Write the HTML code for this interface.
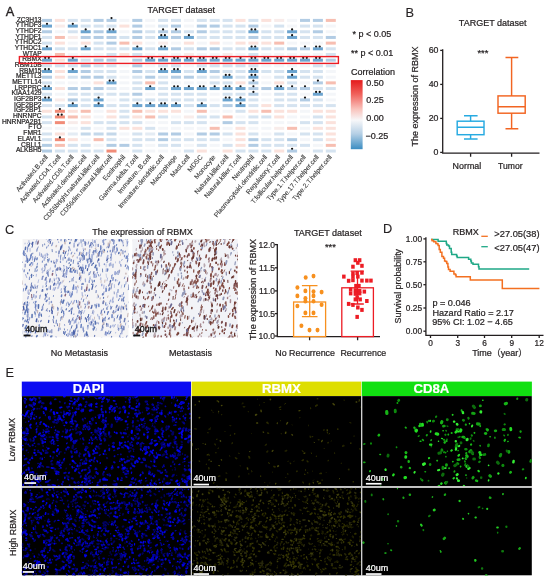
<!DOCTYPE html>
<html><head><meta charset="utf-8"><style>
html,body{margin:0;padding:0;background:#fff;}
svg.main{display:block;font-family:'Liberation Sans', Arial, sans-serif;}
svg.main text{stroke:#231f20;stroke-width:0.22px;}
svg.main text.w{stroke:#fff;}
svg.main g.sm text{stroke:#3a3a3a;stroke-width:0.1px;}
</style></head><body>
<svg class="main" width="550" height="583" viewBox="0 0 550 583">
<rect width="550" height="583" fill="#fff"/>
<g>
<rect x="42.0" y="18.90" width="10.0" height="3.0" fill="#b2cce4"/>
<rect x="54.9" y="18.90" width="10.0" height="3.0" fill="#fbe2dc"/>
<rect x="67.8" y="18.90" width="10.0" height="3.0" fill="#d5e3f0"/>
<rect x="80.7" y="18.90" width="10.0" height="3.0" fill="#d5e3f0"/>
<rect x="93.6" y="18.90" width="10.0" height="3.0" fill="#b2cce4"/>
<rect x="106.5" y="18.90" width="10.0" height="3.0" fill="#b2cce4"/>
<rect x="119.4" y="18.90" width="10.0" height="3.0" fill="#f4f6f9"/>
<rect x="132.3" y="18.90" width="10.0" height="3.0" fill="#b2cce4"/>
<rect x="145.2" y="18.90" width="10.0" height="3.0" fill="#f4f6f9"/>
<rect x="158.1" y="18.90" width="10.0" height="3.0" fill="#d5e3f0"/>
<rect x="171.0" y="18.90" width="10.0" height="3.0" fill="#d5e3f0"/>
<rect x="183.9" y="18.90" width="10.0" height="3.0" fill="#f4f6f9"/>
<rect x="196.8" y="18.90" width="10.0" height="3.0" fill="#d5e3f0"/>
<rect x="209.7" y="18.90" width="10.0" height="3.0" fill="#d5e3f0"/>
<rect x="222.6" y="18.90" width="10.0" height="3.0" fill="#d5e3f0"/>
<rect x="235.5" y="18.90" width="10.0" height="3.0" fill="#fbe2dc"/>
<rect x="248.4" y="18.90" width="10.0" height="3.0" fill="#d5e3f0"/>
<rect x="261.3" y="18.90" width="10.0" height="3.0" fill="#fbe2dc"/>
<rect x="274.2" y="18.90" width="10.0" height="3.0" fill="#f8ecea"/>
<rect x="287.1" y="18.90" width="10.0" height="3.0" fill="#f4f6f9"/>
<rect x="300.0" y="18.90" width="10.0" height="3.0" fill="#b2cce4"/>
<rect x="312.9" y="18.90" width="10.0" height="3.0" fill="#b2cce4"/>
<rect x="325.8" y="18.90" width="10.0" height="3.0" fill="#f7beb1"/>
<rect x="42.0" y="24.58" width="10.0" height="3.0" fill="#6ca4cf"/>
<rect x="54.9" y="24.58" width="10.0" height="3.0" fill="#f8ecea"/>
<rect x="67.8" y="24.58" width="10.0" height="3.0" fill="#6ca4cf"/>
<rect x="80.7" y="24.58" width="10.0" height="3.0" fill="#d5e3f0"/>
<rect x="93.6" y="24.58" width="10.0" height="3.0" fill="#d5e3f0"/>
<rect x="106.5" y="24.58" width="10.0" height="3.0" fill="#d5e3f0"/>
<rect x="119.4" y="24.58" width="10.0" height="3.0" fill="#fbe2dc"/>
<rect x="132.3" y="24.58" width="10.0" height="3.0" fill="#b2cce4"/>
<rect x="145.2" y="24.58" width="10.0" height="3.0" fill="#f4f6f9"/>
<rect x="158.1" y="24.58" width="10.0" height="3.0" fill="#d5e3f0"/>
<rect x="171.0" y="24.58" width="10.0" height="3.0" fill="#b2cce4"/>
<rect x="183.9" y="24.58" width="10.0" height="3.0" fill="#f4f6f9"/>
<rect x="196.8" y="24.58" width="10.0" height="3.0" fill="#b2cce4"/>
<rect x="209.7" y="24.58" width="10.0" height="3.0" fill="#b2cce4"/>
<rect x="222.6" y="24.58" width="10.0" height="3.0" fill="#d5e3f0"/>
<rect x="235.5" y="24.58" width="10.0" height="3.0" fill="#d5e3f0"/>
<rect x="248.4" y="24.58" width="10.0" height="3.0" fill="#b2cce4"/>
<rect x="261.3" y="24.58" width="10.0" height="3.0" fill="#f4f6f9"/>
<rect x="274.2" y="24.58" width="10.0" height="3.0" fill="#d5e3f0"/>
<rect x="287.1" y="24.58" width="10.0" height="3.0" fill="#f4f6f9"/>
<rect x="300.0" y="24.58" width="10.0" height="3.0" fill="#d5e3f0"/>
<rect x="312.9" y="24.58" width="10.0" height="3.0" fill="#d5e3f0"/>
<rect x="325.8" y="24.58" width="10.0" height="3.0" fill="#f4f6f9"/>
<rect x="42.0" y="30.26" width="10.0" height="3.0" fill="#b2cce4"/>
<rect x="54.9" y="30.26" width="10.0" height="3.0" fill="#f4f6f9"/>
<rect x="67.8" y="30.26" width="10.0" height="3.0" fill="#d5e3f0"/>
<rect x="80.7" y="30.26" width="10.0" height="3.0" fill="#6ca4cf"/>
<rect x="93.6" y="30.26" width="10.0" height="3.0" fill="#b2cce4"/>
<rect x="106.5" y="30.26" width="10.0" height="3.0" fill="#6ca4cf"/>
<rect x="119.4" y="30.26" width="10.0" height="3.0" fill="#f4f6f9"/>
<rect x="132.3" y="30.26" width="10.0" height="3.0" fill="#b2cce4"/>
<rect x="145.2" y="30.26" width="10.0" height="3.0" fill="#d5e3f0"/>
<rect x="158.1" y="30.26" width="10.0" height="3.0" fill="#b2cce4"/>
<rect x="171.0" y="30.26" width="10.0" height="3.0" fill="#b2cce4"/>
<rect x="183.9" y="30.26" width="10.0" height="3.0" fill="#d5e3f0"/>
<rect x="196.8" y="30.26" width="10.0" height="3.0" fill="#b2cce4"/>
<rect x="209.7" y="30.26" width="10.0" height="3.0" fill="#d5e3f0"/>
<rect x="222.6" y="30.26" width="10.0" height="3.0" fill="#d5e3f0"/>
<rect x="235.5" y="30.26" width="10.0" height="3.0" fill="#d5e3f0"/>
<rect x="248.4" y="30.26" width="10.0" height="3.0" fill="#6ca4cf"/>
<rect x="261.3" y="30.26" width="10.0" height="3.0" fill="#d5e3f0"/>
<rect x="274.2" y="30.26" width="10.0" height="3.0" fill="#d5e3f0"/>
<rect x="287.1" y="30.26" width="10.0" height="3.0" fill="#6ca4cf"/>
<rect x="300.0" y="30.26" width="10.0" height="3.0" fill="#d5e3f0"/>
<rect x="312.9" y="30.26" width="10.0" height="3.0" fill="#b2cce4"/>
<rect x="325.8" y="30.26" width="10.0" height="3.0" fill="#f4f6f9"/>
<rect x="42.0" y="35.94" width="10.0" height="3.0" fill="#d5e3f0"/>
<rect x="54.9" y="35.94" width="10.0" height="3.0" fill="#f7beb1"/>
<rect x="67.8" y="35.94" width="10.0" height="3.0" fill="#f8ecea"/>
<rect x="80.7" y="35.94" width="10.0" height="3.0" fill="#b2cce4"/>
<rect x="93.6" y="35.94" width="10.0" height="3.0" fill="#b2cce4"/>
<rect x="106.5" y="35.94" width="10.0" height="3.0" fill="#b2cce4"/>
<rect x="119.4" y="35.94" width="10.0" height="3.0" fill="#d5e3f0"/>
<rect x="132.3" y="35.94" width="10.0" height="3.0" fill="#b2cce4"/>
<rect x="145.2" y="35.94" width="10.0" height="3.0" fill="#d5e3f0"/>
<rect x="158.1" y="35.94" width="10.0" height="3.0" fill="#6ca4cf"/>
<rect x="171.0" y="35.94" width="10.0" height="3.0" fill="#b2cce4"/>
<rect x="183.9" y="35.94" width="10.0" height="3.0" fill="#6ca4cf"/>
<rect x="196.8" y="35.94" width="10.0" height="3.0" fill="#d5e3f0"/>
<rect x="209.7" y="35.94" width="10.0" height="3.0" fill="#d5e3f0"/>
<rect x="222.6" y="35.94" width="10.0" height="3.0" fill="#d5e3f0"/>
<rect x="235.5" y="35.94" width="10.0" height="3.0" fill="#d5e3f0"/>
<rect x="248.4" y="35.94" width="10.0" height="3.0" fill="#b2cce4"/>
<rect x="261.3" y="35.94" width="10.0" height="3.0" fill="#d5e3f0"/>
<rect x="274.2" y="35.94" width="10.0" height="3.0" fill="#d5e3f0"/>
<rect x="287.1" y="35.94" width="10.0" height="3.0" fill="#6ca4cf"/>
<rect x="300.0" y="35.94" width="10.0" height="3.0" fill="#d5e3f0"/>
<rect x="312.9" y="35.94" width="10.0" height="3.0" fill="#d5e3f0"/>
<rect x="325.8" y="35.94" width="10.0" height="3.0" fill="#b2cce4"/>
<rect x="42.0" y="41.62" width="10.0" height="3.0" fill="#d5e3f0"/>
<rect x="54.9" y="41.62" width="10.0" height="3.0" fill="#fbe2dc"/>
<rect x="67.8" y="41.62" width="10.0" height="3.0" fill="#f4f6f9"/>
<rect x="80.7" y="41.62" width="10.0" height="3.0" fill="#fbe2dc"/>
<rect x="93.6" y="41.62" width="10.0" height="3.0" fill="#d5e3f0"/>
<rect x="106.5" y="41.62" width="10.0" height="3.0" fill="#b2cce4"/>
<rect x="119.4" y="41.62" width="10.0" height="3.0" fill="#f7beb1"/>
<rect x="132.3" y="41.62" width="10.0" height="3.0" fill="#fbe2dc"/>
<rect x="145.2" y="41.62" width="10.0" height="3.0" fill="#f4f6f9"/>
<rect x="158.1" y="41.62" width="10.0" height="3.0" fill="#f8ecea"/>
<rect x="171.0" y="41.62" width="10.0" height="3.0" fill="#f4f6f9"/>
<rect x="183.9" y="41.62" width="10.0" height="3.0" fill="#fbe2dc"/>
<rect x="196.8" y="41.62" width="10.0" height="3.0" fill="#f4f6f9"/>
<rect x="209.7" y="41.62" width="10.0" height="3.0" fill="#fbe2dc"/>
<rect x="222.6" y="41.62" width="10.0" height="3.0" fill="#f4f6f9"/>
<rect x="235.5" y="41.62" width="10.0" height="3.0" fill="#fbe2dc"/>
<rect x="248.4" y="41.62" width="10.0" height="3.0" fill="#fbe2dc"/>
<rect x="261.3" y="41.62" width="10.0" height="3.0" fill="#fbe2dc"/>
<rect x="274.2" y="41.62" width="10.0" height="3.0" fill="#f7beb1"/>
<rect x="287.1" y="41.62" width="10.0" height="3.0" fill="#f4f6f9"/>
<rect x="300.0" y="41.62" width="10.0" height="3.0" fill="#f4f6f9"/>
<rect x="312.9" y="41.62" width="10.0" height="3.0" fill="#f4f6f9"/>
<rect x="325.8" y="41.62" width="10.0" height="3.0" fill="#f7beb1"/>
<rect x="42.0" y="47.30" width="10.0" height="3.0" fill="#6ca4cf"/>
<rect x="54.9" y="47.30" width="10.0" height="3.0" fill="#d5e3f0"/>
<rect x="67.8" y="47.30" width="10.0" height="3.0" fill="#d5e3f0"/>
<rect x="80.7" y="47.30" width="10.0" height="3.0" fill="#6ca4cf"/>
<rect x="93.6" y="47.30" width="10.0" height="3.0" fill="#d5e3f0"/>
<rect x="106.5" y="47.30" width="10.0" height="3.0" fill="#d5e3f0"/>
<rect x="119.4" y="47.30" width="10.0" height="3.0" fill="#d5e3f0"/>
<rect x="132.3" y="47.30" width="10.0" height="3.0" fill="#6ca4cf"/>
<rect x="145.2" y="47.30" width="10.0" height="3.0" fill="#d5e3f0"/>
<rect x="158.1" y="47.30" width="10.0" height="3.0" fill="#6ca4cf"/>
<rect x="171.0" y="47.30" width="10.0" height="3.0" fill="#b2cce4"/>
<rect x="183.9" y="47.30" width="10.0" height="3.0" fill="#d5e3f0"/>
<rect x="196.8" y="47.30" width="10.0" height="3.0" fill="#b2cce4"/>
<rect x="209.7" y="47.30" width="10.0" height="3.0" fill="#b2cce4"/>
<rect x="222.6" y="47.30" width="10.0" height="3.0" fill="#d5e3f0"/>
<rect x="235.5" y="47.30" width="10.0" height="3.0" fill="#d5e3f0"/>
<rect x="248.4" y="47.30" width="10.0" height="3.0" fill="#6ca4cf"/>
<rect x="261.3" y="47.30" width="10.0" height="3.0" fill="#d5e3f0"/>
<rect x="274.2" y="47.30" width="10.0" height="3.0" fill="#d5e3f0"/>
<rect x="287.1" y="47.30" width="10.0" height="3.0" fill="#b2cce4"/>
<rect x="300.0" y="47.30" width="10.0" height="3.0" fill="#b2cce4"/>
<rect x="312.9" y="47.30" width="10.0" height="3.0" fill="#6ca4cf"/>
<rect x="325.8" y="47.30" width="10.0" height="3.0" fill="#d5e3f0"/>
<rect x="42.0" y="52.98" width="10.0" height="3.0" fill="#f4f6f9"/>
<rect x="54.9" y="52.98" width="10.0" height="3.0" fill="#f7beb1"/>
<rect x="67.8" y="52.98" width="10.0" height="3.0" fill="#f4f6f9"/>
<rect x="80.7" y="52.98" width="10.0" height="3.0" fill="#f4f6f9"/>
<rect x="93.6" y="52.98" width="10.0" height="3.0" fill="#f4f6f9"/>
<rect x="106.5" y="52.98" width="10.0" height="3.0" fill="#d5e3f0"/>
<rect x="119.4" y="52.98" width="10.0" height="3.0" fill="#fbe2dc"/>
<rect x="132.3" y="52.98" width="10.0" height="3.0" fill="#d5e3f0"/>
<rect x="145.2" y="52.98" width="10.0" height="3.0" fill="#f4f6f9"/>
<rect x="158.1" y="52.98" width="10.0" height="3.0" fill="#f4f6f9"/>
<rect x="171.0" y="52.98" width="10.0" height="3.0" fill="#f4f6f9"/>
<rect x="183.9" y="52.98" width="10.0" height="3.0" fill="#f8ecea"/>
<rect x="196.8" y="52.98" width="10.0" height="3.0" fill="#f4f6f9"/>
<rect x="209.7" y="52.98" width="10.0" height="3.0" fill="#f4f6f9"/>
<rect x="222.6" y="52.98" width="10.0" height="3.0" fill="#f8ecea"/>
<rect x="235.5" y="52.98" width="10.0" height="3.0" fill="#f4f6f9"/>
<rect x="248.4" y="52.98" width="10.0" height="3.0" fill="#d5e3f0"/>
<rect x="261.3" y="52.98" width="10.0" height="3.0" fill="#f4f6f9"/>
<rect x="274.2" y="52.98" width="10.0" height="3.0" fill="#f4f6f9"/>
<rect x="287.1" y="52.98" width="10.0" height="3.0" fill="#f4f6f9"/>
<rect x="300.0" y="52.98" width="10.0" height="3.0" fill="#f4f6f9"/>
<rect x="312.9" y="52.98" width="10.0" height="3.0" fill="#f4f6f9"/>
<rect x="325.8" y="52.98" width="10.0" height="3.0" fill="#d5e3f0"/>
<rect x="42.0" y="58.66" width="10.0" height="3.0" fill="#6ca4cf"/>
<rect x="54.9" y="58.66" width="10.0" height="3.0" fill="#fbe2dc"/>
<rect x="67.8" y="58.66" width="10.0" height="3.0" fill="#6ca4cf"/>
<rect x="80.7" y="58.66" width="10.0" height="3.0" fill="#d5e3f0"/>
<rect x="93.6" y="58.66" width="10.0" height="3.0" fill="#b2cce4"/>
<rect x="106.5" y="58.66" width="10.0" height="3.0" fill="#b2cce4"/>
<rect x="119.4" y="58.66" width="10.0" height="3.0" fill="#f4f6f9"/>
<rect x="132.3" y="58.66" width="10.0" height="3.0" fill="#b2cce4"/>
<rect x="145.2" y="58.66" width="10.0" height="3.0" fill="#6ca4cf"/>
<rect x="158.1" y="58.66" width="10.0" height="3.0" fill="#6ca4cf"/>
<rect x="171.0" y="58.66" width="10.0" height="3.0" fill="#6ca4cf"/>
<rect x="183.9" y="58.66" width="10.0" height="3.0" fill="#6ca4cf"/>
<rect x="196.8" y="58.66" width="10.0" height="3.0" fill="#6ca4cf"/>
<rect x="209.7" y="58.66" width="10.0" height="3.0" fill="#6ca4cf"/>
<rect x="222.6" y="58.66" width="10.0" height="3.0" fill="#6ca4cf"/>
<rect x="235.5" y="58.66" width="10.0" height="3.0" fill="#6ca4cf"/>
<rect x="248.4" y="58.66" width="10.0" height="3.0" fill="#6ca4cf"/>
<rect x="261.3" y="58.66" width="10.0" height="3.0" fill="#6ca4cf"/>
<rect x="274.2" y="58.66" width="10.0" height="3.0" fill="#6ca4cf"/>
<rect x="287.1" y="58.66" width="10.0" height="3.0" fill="#6ca4cf"/>
<rect x="300.0" y="58.66" width="10.0" height="3.0" fill="#6ca4cf"/>
<rect x="312.9" y="58.66" width="10.0" height="3.0" fill="#6ca4cf"/>
<rect x="325.8" y="58.66" width="10.0" height="3.0" fill="#b2cce4"/>
<rect x="42.0" y="64.34" width="10.0" height="3.0" fill="#d5e3f0"/>
<rect x="54.9" y="64.34" width="10.0" height="3.0" fill="#d5e3f0"/>
<rect x="67.8" y="64.34" width="10.0" height="3.0" fill="#d5e3f0"/>
<rect x="80.7" y="64.34" width="10.0" height="3.0" fill="#b2cce4"/>
<rect x="93.6" y="64.34" width="10.0" height="3.0" fill="#d5e3f0"/>
<rect x="106.5" y="64.34" width="10.0" height="3.0" fill="#d5e3f0"/>
<rect x="119.4" y="64.34" width="10.0" height="3.0" fill="#f4f6f9"/>
<rect x="132.3" y="64.34" width="10.0" height="3.0" fill="#b2cce4"/>
<rect x="145.2" y="64.34" width="10.0" height="3.0" fill="#f4f6f9"/>
<rect x="158.1" y="64.34" width="10.0" height="3.0" fill="#d5e3f0"/>
<rect x="171.0" y="64.34" width="10.0" height="3.0" fill="#d5e3f0"/>
<rect x="183.9" y="64.34" width="10.0" height="3.0" fill="#f4f6f9"/>
<rect x="196.8" y="64.34" width="10.0" height="3.0" fill="#d5e3f0"/>
<rect x="209.7" y="64.34" width="10.0" height="3.0" fill="#d5e3f0"/>
<rect x="222.6" y="64.34" width="10.0" height="3.0" fill="#d5e3f0"/>
<rect x="235.5" y="64.34" width="10.0" height="3.0" fill="#d5e3f0"/>
<rect x="248.4" y="64.34" width="10.0" height="3.0" fill="#d5e3f0"/>
<rect x="261.3" y="64.34" width="10.0" height="3.0" fill="#f4f6f9"/>
<rect x="274.2" y="64.34" width="10.0" height="3.0" fill="#f4f6f9"/>
<rect x="287.1" y="64.34" width="10.0" height="3.0" fill="#f4f6f9"/>
<rect x="300.0" y="64.34" width="10.0" height="3.0" fill="#f4f6f9"/>
<rect x="312.9" y="64.34" width="10.0" height="3.0" fill="#d5e3f0"/>
<rect x="325.8" y="64.34" width="10.0" height="3.0" fill="#d5e3f0"/>
<rect x="42.0" y="70.02" width="10.0" height="3.0" fill="#6ca4cf"/>
<rect x="54.9" y="70.02" width="10.0" height="3.0" fill="#fbe2dc"/>
<rect x="67.8" y="70.02" width="10.0" height="3.0" fill="#6ca4cf"/>
<rect x="80.7" y="70.02" width="10.0" height="3.0" fill="#b2cce4"/>
<rect x="93.6" y="70.02" width="10.0" height="3.0" fill="#d5e3f0"/>
<rect x="106.5" y="70.02" width="10.0" height="3.0" fill="#d5e3f0"/>
<rect x="119.4" y="70.02" width="10.0" height="3.0" fill="#f4f6f9"/>
<rect x="132.3" y="70.02" width="10.0" height="3.0" fill="#b2cce4"/>
<rect x="145.2" y="70.02" width="10.0" height="3.0" fill="#d5e3f0"/>
<rect x="158.1" y="70.02" width="10.0" height="3.0" fill="#6ca4cf"/>
<rect x="171.0" y="70.02" width="10.0" height="3.0" fill="#6ca4cf"/>
<rect x="183.9" y="70.02" width="10.0" height="3.0" fill="#d5e3f0"/>
<rect x="196.8" y="70.02" width="10.0" height="3.0" fill="#6ca4cf"/>
<rect x="209.7" y="70.02" width="10.0" height="3.0" fill="#b2cce4"/>
<rect x="222.6" y="70.02" width="10.0" height="3.0" fill="#d5e3f0"/>
<rect x="235.5" y="70.02" width="10.0" height="3.0" fill="#d5e3f0"/>
<rect x="248.4" y="70.02" width="10.0" height="3.0" fill="#6ca4cf"/>
<rect x="261.3" y="70.02" width="10.0" height="3.0" fill="#d5e3f0"/>
<rect x="274.2" y="70.02" width="10.0" height="3.0" fill="#d5e3f0"/>
<rect x="287.1" y="70.02" width="10.0" height="3.0" fill="#6ca4cf"/>
<rect x="300.0" y="70.02" width="10.0" height="3.0" fill="#d5e3f0"/>
<rect x="312.9" y="70.02" width="10.0" height="3.0" fill="#d5e3f0"/>
<rect x="325.8" y="70.02" width="10.0" height="3.0" fill="#f4f6f9"/>
<rect x="42.0" y="75.70" width="10.0" height="3.0" fill="#b2cce4"/>
<rect x="54.9" y="75.70" width="10.0" height="3.0" fill="#fbe2dc"/>
<rect x="67.8" y="75.70" width="10.0" height="3.0" fill="#d5e3f0"/>
<rect x="80.7" y="75.70" width="10.0" height="3.0" fill="#b2cce4"/>
<rect x="93.6" y="75.70" width="10.0" height="3.0" fill="#b2cce4"/>
<rect x="106.5" y="75.70" width="10.0" height="3.0" fill="#d5e3f0"/>
<rect x="119.4" y="75.70" width="10.0" height="3.0" fill="#f4f6f9"/>
<rect x="132.3" y="75.70" width="10.0" height="3.0" fill="#d5e3f0"/>
<rect x="145.2" y="75.70" width="10.0" height="3.0" fill="#b2cce4"/>
<rect x="158.1" y="75.70" width="10.0" height="3.0" fill="#d5e3f0"/>
<rect x="171.0" y="75.70" width="10.0" height="3.0" fill="#b2cce4"/>
<rect x="183.9" y="75.70" width="10.0" height="3.0" fill="#b2cce4"/>
<rect x="196.8" y="75.70" width="10.0" height="3.0" fill="#d5e3f0"/>
<rect x="209.7" y="75.70" width="10.0" height="3.0" fill="#d5e3f0"/>
<rect x="222.6" y="75.70" width="10.0" height="3.0" fill="#6ca4cf"/>
<rect x="235.5" y="75.70" width="10.0" height="3.0" fill="#d5e3f0"/>
<rect x="248.4" y="75.70" width="10.0" height="3.0" fill="#6ca4cf"/>
<rect x="261.3" y="75.70" width="10.0" height="3.0" fill="#f4f6f9"/>
<rect x="274.2" y="75.70" width="10.0" height="3.0" fill="#d5e3f0"/>
<rect x="287.1" y="75.70" width="10.0" height="3.0" fill="#6ca4cf"/>
<rect x="300.0" y="75.70" width="10.0" height="3.0" fill="#d5e3f0"/>
<rect x="312.9" y="75.70" width="10.0" height="3.0" fill="#d5e3f0"/>
<rect x="325.8" y="75.70" width="10.0" height="3.0" fill="#f4f6f9"/>
<rect x="42.0" y="81.38" width="10.0" height="3.0" fill="#d5e3f0"/>
<rect x="54.9" y="81.38" width="10.0" height="3.0" fill="#f4f6f9"/>
<rect x="67.8" y="81.38" width="10.0" height="3.0" fill="#f4f6f9"/>
<rect x="80.7" y="81.38" width="10.0" height="3.0" fill="#f4f6f9"/>
<rect x="93.6" y="81.38" width="10.0" height="3.0" fill="#fbe2dc"/>
<rect x="106.5" y="81.38" width="10.0" height="3.0" fill="#6ca4cf"/>
<rect x="119.4" y="81.38" width="10.0" height="3.0" fill="#f4f6f9"/>
<rect x="132.3" y="81.38" width="10.0" height="3.0" fill="#d5e3f0"/>
<rect x="145.2" y="81.38" width="10.0" height="3.0" fill="#f7beb1"/>
<rect x="158.1" y="81.38" width="10.0" height="3.0" fill="#d5e3f0"/>
<rect x="171.0" y="81.38" width="10.0" height="3.0" fill="#f4f6f9"/>
<rect x="183.9" y="81.38" width="10.0" height="3.0" fill="#f4f6f9"/>
<rect x="196.8" y="81.38" width="10.0" height="3.0" fill="#f4f6f9"/>
<rect x="209.7" y="81.38" width="10.0" height="3.0" fill="#d5e3f0"/>
<rect x="222.6" y="81.38" width="10.0" height="3.0" fill="#d5e3f0"/>
<rect x="235.5" y="81.38" width="10.0" height="3.0" fill="#fbe2dc"/>
<rect x="248.4" y="81.38" width="10.0" height="3.0" fill="#b2cce4"/>
<rect x="261.3" y="81.38" width="10.0" height="3.0" fill="#f4f6f9"/>
<rect x="274.2" y="81.38" width="10.0" height="3.0" fill="#fbe2dc"/>
<rect x="287.1" y="81.38" width="10.0" height="3.0" fill="#d5e3f0"/>
<rect x="300.0" y="81.38" width="10.0" height="3.0" fill="#f4f6f9"/>
<rect x="312.9" y="81.38" width="10.0" height="3.0" fill="#b2cce4"/>
<rect x="325.8" y="81.38" width="10.0" height="3.0" fill="#f7beb1"/>
<rect x="42.0" y="87.06" width="10.0" height="3.0" fill="#6ca4cf"/>
<rect x="54.9" y="87.06" width="10.0" height="3.0" fill="#fbe2dc"/>
<rect x="67.8" y="87.06" width="10.0" height="3.0" fill="#b2cce4"/>
<rect x="80.7" y="87.06" width="10.0" height="3.0" fill="#b2cce4"/>
<rect x="93.6" y="87.06" width="10.0" height="3.0" fill="#b2cce4"/>
<rect x="106.5" y="87.06" width="10.0" height="3.0" fill="#d5e3f0"/>
<rect x="119.4" y="87.06" width="10.0" height="3.0" fill="#f4f6f9"/>
<rect x="132.3" y="87.06" width="10.0" height="3.0" fill="#d5e3f0"/>
<rect x="145.2" y="87.06" width="10.0" height="3.0" fill="#6ca4cf"/>
<rect x="158.1" y="87.06" width="10.0" height="3.0" fill="#d5e3f0"/>
<rect x="171.0" y="87.06" width="10.0" height="3.0" fill="#6ca4cf"/>
<rect x="183.9" y="87.06" width="10.0" height="3.0" fill="#6ca4cf"/>
<rect x="196.8" y="87.06" width="10.0" height="3.0" fill="#6ca4cf"/>
<rect x="209.7" y="87.06" width="10.0" height="3.0" fill="#6ca4cf"/>
<rect x="222.6" y="87.06" width="10.0" height="3.0" fill="#6ca4cf"/>
<rect x="235.5" y="87.06" width="10.0" height="3.0" fill="#6ca4cf"/>
<rect x="248.4" y="87.06" width="10.0" height="3.0" fill="#b2cce4"/>
<rect x="261.3" y="87.06" width="10.0" height="3.0" fill="#b2cce4"/>
<rect x="274.2" y="87.06" width="10.0" height="3.0" fill="#6ca4cf"/>
<rect x="287.1" y="87.06" width="10.0" height="3.0" fill="#b2cce4"/>
<rect x="300.0" y="87.06" width="10.0" height="3.0" fill="#b2cce4"/>
<rect x="312.9" y="87.06" width="10.0" height="3.0" fill="#d5e3f0"/>
<rect x="325.8" y="87.06" width="10.0" height="3.0" fill="#d5e3f0"/>
<rect x="42.0" y="92.74" width="10.0" height="3.0" fill="#d5e3f0"/>
<rect x="54.9" y="92.74" width="10.0" height="3.0" fill="#f4f6f9"/>
<rect x="67.8" y="92.74" width="10.0" height="3.0" fill="#d5e3f0"/>
<rect x="80.7" y="92.74" width="10.0" height="3.0" fill="#d5e3f0"/>
<rect x="93.6" y="92.74" width="10.0" height="3.0" fill="#d5e3f0"/>
<rect x="106.5" y="92.74" width="10.0" height="3.0" fill="#d5e3f0"/>
<rect x="119.4" y="92.74" width="10.0" height="3.0" fill="#d5e3f0"/>
<rect x="132.3" y="92.74" width="10.0" height="3.0" fill="#b2cce4"/>
<rect x="145.2" y="92.74" width="10.0" height="3.0" fill="#f4f6f9"/>
<rect x="158.1" y="92.74" width="10.0" height="3.0" fill="#d5e3f0"/>
<rect x="171.0" y="92.74" width="10.0" height="3.0" fill="#d5e3f0"/>
<rect x="183.9" y="92.74" width="10.0" height="3.0" fill="#d5e3f0"/>
<rect x="196.8" y="92.74" width="10.0" height="3.0" fill="#d5e3f0"/>
<rect x="209.7" y="92.74" width="10.0" height="3.0" fill="#f4f6f9"/>
<rect x="222.6" y="92.74" width="10.0" height="3.0" fill="#d5e3f0"/>
<rect x="235.5" y="92.74" width="10.0" height="3.0" fill="#d5e3f0"/>
<rect x="248.4" y="92.74" width="10.0" height="3.0" fill="#b2cce4"/>
<rect x="261.3" y="92.74" width="10.0" height="3.0" fill="#f4f6f9"/>
<rect x="274.2" y="92.74" width="10.0" height="3.0" fill="#d5e3f0"/>
<rect x="287.1" y="92.74" width="10.0" height="3.0" fill="#d5e3f0"/>
<rect x="300.0" y="92.74" width="10.0" height="3.0" fill="#f4f6f9"/>
<rect x="312.9" y="92.74" width="10.0" height="3.0" fill="#6ca4cf"/>
<rect x="325.8" y="92.74" width="10.0" height="3.0" fill="#f4f6f9"/>
<rect x="42.0" y="98.42" width="10.0" height="3.0" fill="#6ca4cf"/>
<rect x="54.9" y="98.42" width="10.0" height="3.0" fill="#f8ecea"/>
<rect x="67.8" y="98.42" width="10.0" height="3.0" fill="#b2cce4"/>
<rect x="80.7" y="98.42" width="10.0" height="3.0" fill="#d5e3f0"/>
<rect x="93.6" y="98.42" width="10.0" height="3.0" fill="#6ca4cf"/>
<rect x="106.5" y="98.42" width="10.0" height="3.0" fill="#f4f6f9"/>
<rect x="119.4" y="98.42" width="10.0" height="3.0" fill="#d5e3f0"/>
<rect x="132.3" y="98.42" width="10.0" height="3.0" fill="#d5e3f0"/>
<rect x="145.2" y="98.42" width="10.0" height="3.0" fill="#d5e3f0"/>
<rect x="158.1" y="98.42" width="10.0" height="3.0" fill="#d5e3f0"/>
<rect x="171.0" y="98.42" width="10.0" height="3.0" fill="#d5e3f0"/>
<rect x="183.9" y="98.42" width="10.0" height="3.0" fill="#d5e3f0"/>
<rect x="196.8" y="98.42" width="10.0" height="3.0" fill="#d5e3f0"/>
<rect x="209.7" y="98.42" width="10.0" height="3.0" fill="#f4f6f9"/>
<rect x="222.6" y="98.42" width="10.0" height="3.0" fill="#6ca4cf"/>
<rect x="235.5" y="98.42" width="10.0" height="3.0" fill="#6ca4cf"/>
<rect x="248.4" y="98.42" width="10.0" height="3.0" fill="#d5e3f0"/>
<rect x="261.3" y="98.42" width="10.0" height="3.0" fill="#f4f6f9"/>
<rect x="274.2" y="98.42" width="10.0" height="3.0" fill="#d5e3f0"/>
<rect x="287.1" y="98.42" width="10.0" height="3.0" fill="#d5e3f0"/>
<rect x="300.0" y="98.42" width="10.0" height="3.0" fill="#b2cce4"/>
<rect x="312.9" y="98.42" width="10.0" height="3.0" fill="#d5e3f0"/>
<rect x="325.8" y="98.42" width="10.0" height="3.0" fill="#f4f6f9"/>
<rect x="42.0" y="104.10" width="10.0" height="3.0" fill="#d5e3f0"/>
<rect x="54.9" y="104.10" width="10.0" height="3.0" fill="#d5e3f0"/>
<rect x="67.8" y="104.10" width="10.0" height="3.0" fill="#6ca4cf"/>
<rect x="80.7" y="104.10" width="10.0" height="3.0" fill="#d5e3f0"/>
<rect x="93.6" y="104.10" width="10.0" height="3.0" fill="#6ca4cf"/>
<rect x="106.5" y="104.10" width="10.0" height="3.0" fill="#d5e3f0"/>
<rect x="119.4" y="104.10" width="10.0" height="3.0" fill="#d5e3f0"/>
<rect x="132.3" y="104.10" width="10.0" height="3.0" fill="#6ca4cf"/>
<rect x="145.2" y="104.10" width="10.0" height="3.0" fill="#6ca4cf"/>
<rect x="158.1" y="104.10" width="10.0" height="3.0" fill="#6ca4cf"/>
<rect x="171.0" y="104.10" width="10.0" height="3.0" fill="#6ca4cf"/>
<rect x="183.9" y="104.10" width="10.0" height="3.0" fill="#d5e3f0"/>
<rect x="196.8" y="104.10" width="10.0" height="3.0" fill="#6ca4cf"/>
<rect x="209.7" y="104.10" width="10.0" height="3.0" fill="#d5e3f0"/>
<rect x="222.6" y="104.10" width="10.0" height="3.0" fill="#b2cce4"/>
<rect x="235.5" y="104.10" width="10.0" height="3.0" fill="#6ca4cf"/>
<rect x="248.4" y="104.10" width="10.0" height="3.0" fill="#d5e3f0"/>
<rect x="261.3" y="104.10" width="10.0" height="3.0" fill="#fbe2dc"/>
<rect x="274.2" y="104.10" width="10.0" height="3.0" fill="#d5e3f0"/>
<rect x="287.1" y="104.10" width="10.0" height="3.0" fill="#d5e3f0"/>
<rect x="300.0" y="104.10" width="10.0" height="3.0" fill="#d5e3f0"/>
<rect x="312.9" y="104.10" width="10.0" height="3.0" fill="#d5e3f0"/>
<rect x="325.8" y="104.10" width="10.0" height="3.0" fill="#d5e3f0"/>
<rect x="42.0" y="109.78" width="10.0" height="3.0" fill="#fbe2dc"/>
<rect x="54.9" y="109.78" width="10.0" height="3.0" fill="#f18c78"/>
<rect x="67.8" y="109.78" width="10.0" height="3.0" fill="#fbe2dc"/>
<rect x="80.7" y="109.78" width="10.0" height="3.0" fill="#f7beb1"/>
<rect x="93.6" y="109.78" width="10.0" height="3.0" fill="#f4f6f9"/>
<rect x="106.5" y="109.78" width="10.0" height="3.0" fill="#fbe2dc"/>
<rect x="119.4" y="109.78" width="10.0" height="3.0" fill="#d5e3f0"/>
<rect x="132.3" y="109.78" width="10.0" height="3.0" fill="#f7beb1"/>
<rect x="145.2" y="109.78" width="10.0" height="3.0" fill="#fbe2dc"/>
<rect x="158.1" y="109.78" width="10.0" height="3.0" fill="#fbe2dc"/>
<rect x="171.0" y="109.78" width="10.0" height="3.0" fill="#fbe2dc"/>
<rect x="183.9" y="109.78" width="10.0" height="3.0" fill="#f4f6f9"/>
<rect x="196.8" y="109.78" width="10.0" height="3.0" fill="#f7beb1"/>
<rect x="209.7" y="109.78" width="10.0" height="3.0" fill="#f4f6f9"/>
<rect x="222.6" y="109.78" width="10.0" height="3.0" fill="#f4f6f9"/>
<rect x="235.5" y="109.78" width="10.0" height="3.0" fill="#d5e3f0"/>
<rect x="248.4" y="109.78" width="10.0" height="3.0" fill="#fbe2dc"/>
<rect x="261.3" y="109.78" width="10.0" height="3.0" fill="#f7beb1"/>
<rect x="274.2" y="109.78" width="10.0" height="3.0" fill="#fbe2dc"/>
<rect x="287.1" y="109.78" width="10.0" height="3.0" fill="#fbe2dc"/>
<rect x="300.0" y="109.78" width="10.0" height="3.0" fill="#f4f6f9"/>
<rect x="312.9" y="109.78" width="10.0" height="3.0" fill="#fbe2dc"/>
<rect x="325.8" y="109.78" width="10.0" height="3.0" fill="#fbe2dc"/>
<rect x="42.0" y="115.46" width="10.0" height="3.0" fill="#d5e3f0"/>
<rect x="54.9" y="115.46" width="10.0" height="3.0" fill="#f18c78"/>
<rect x="67.8" y="115.46" width="10.0" height="3.0" fill="#f7beb1"/>
<rect x="80.7" y="115.46" width="10.0" height="3.0" fill="#fbe2dc"/>
<rect x="93.6" y="115.46" width="10.0" height="3.0" fill="#f4f6f9"/>
<rect x="106.5" y="115.46" width="10.0" height="3.0" fill="#fbe2dc"/>
<rect x="119.4" y="115.46" width="10.0" height="3.0" fill="#d5e3f0"/>
<rect x="132.3" y="115.46" width="10.0" height="3.0" fill="#fbe2dc"/>
<rect x="145.2" y="115.46" width="10.0" height="3.0" fill="#f7beb1"/>
<rect x="158.1" y="115.46" width="10.0" height="3.0" fill="#d5e3f0"/>
<rect x="171.0" y="115.46" width="10.0" height="3.0" fill="#f4f6f9"/>
<rect x="183.9" y="115.46" width="10.0" height="3.0" fill="#f8ecea"/>
<rect x="196.8" y="115.46" width="10.0" height="3.0" fill="#d5e3f0"/>
<rect x="209.7" y="115.46" width="10.0" height="3.0" fill="#d5e3f0"/>
<rect x="222.6" y="115.46" width="10.0" height="3.0" fill="#f7beb1"/>
<rect x="235.5" y="115.46" width="10.0" height="3.0" fill="#f4f6f9"/>
<rect x="248.4" y="115.46" width="10.0" height="3.0" fill="#d5e3f0"/>
<rect x="261.3" y="115.46" width="10.0" height="3.0" fill="#d5e3f0"/>
<rect x="274.2" y="115.46" width="10.0" height="3.0" fill="#fbe2dc"/>
<rect x="287.1" y="115.46" width="10.0" height="3.0" fill="#f4f6f9"/>
<rect x="300.0" y="115.46" width="10.0" height="3.0" fill="#f4f6f9"/>
<rect x="312.9" y="115.46" width="10.0" height="3.0" fill="#d5e3f0"/>
<rect x="325.8" y="115.46" width="10.0" height="3.0" fill="#fbe2dc"/>
<rect x="42.0" y="121.14" width="10.0" height="3.0" fill="#d5e3f0"/>
<rect x="54.9" y="121.14" width="10.0" height="3.0" fill="#f18c78"/>
<rect x="67.8" y="121.14" width="10.0" height="3.0" fill="#f8ecea"/>
<rect x="80.7" y="121.14" width="10.0" height="3.0" fill="#fbe2dc"/>
<rect x="93.6" y="121.14" width="10.0" height="3.0" fill="#d5e3f0"/>
<rect x="106.5" y="121.14" width="10.0" height="3.0" fill="#d5e3f0"/>
<rect x="119.4" y="121.14" width="10.0" height="3.0" fill="#d5e3f0"/>
<rect x="132.3" y="121.14" width="10.0" height="3.0" fill="#d5e3f0"/>
<rect x="145.2" y="121.14" width="10.0" height="3.0" fill="#f4f6f9"/>
<rect x="158.1" y="121.14" width="10.0" height="3.0" fill="#f4f6f9"/>
<rect x="171.0" y="121.14" width="10.0" height="3.0" fill="#d5e3f0"/>
<rect x="183.9" y="121.14" width="10.0" height="3.0" fill="#d5e3f0"/>
<rect x="196.8" y="121.14" width="10.0" height="3.0" fill="#d5e3f0"/>
<rect x="209.7" y="121.14" width="10.0" height="3.0" fill="#f4f6f9"/>
<rect x="222.6" y="121.14" width="10.0" height="3.0" fill="#b2cce4"/>
<rect x="235.5" y="121.14" width="10.0" height="3.0" fill="#d5e3f0"/>
<rect x="248.4" y="121.14" width="10.0" height="3.0" fill="#d5e3f0"/>
<rect x="261.3" y="121.14" width="10.0" height="3.0" fill="#f4f6f9"/>
<rect x="274.2" y="121.14" width="10.0" height="3.0" fill="#f4f6f9"/>
<rect x="287.1" y="121.14" width="10.0" height="3.0" fill="#f4f6f9"/>
<rect x="300.0" y="121.14" width="10.0" height="3.0" fill="#d5e3f0"/>
<rect x="312.9" y="121.14" width="10.0" height="3.0" fill="#d5e3f0"/>
<rect x="325.8" y="121.14" width="10.0" height="3.0" fill="#fbe2dc"/>
<rect x="42.0" y="126.82" width="10.0" height="3.0" fill="#f4f6f9"/>
<rect x="54.9" y="126.82" width="10.0" height="3.0" fill="#f4f6f9"/>
<rect x="67.8" y="126.82" width="10.0" height="3.0" fill="#f4f6f9"/>
<rect x="80.7" y="126.82" width="10.0" height="3.0" fill="#d5e3f0"/>
<rect x="93.6" y="126.82" width="10.0" height="3.0" fill="#f4f6f9"/>
<rect x="106.5" y="126.82" width="10.0" height="3.0" fill="#d5e3f0"/>
<rect x="119.4" y="126.82" width="10.0" height="3.0" fill="#fbe2dc"/>
<rect x="132.3" y="126.82" width="10.0" height="3.0" fill="#fbe2dc"/>
<rect x="145.2" y="126.82" width="10.0" height="3.0" fill="#d5e3f0"/>
<rect x="158.1" y="126.82" width="10.0" height="3.0" fill="#f4f6f9"/>
<rect x="171.0" y="126.82" width="10.0" height="3.0" fill="#f4f6f9"/>
<rect x="183.9" y="126.82" width="10.0" height="3.0" fill="#f4f6f9"/>
<rect x="196.8" y="126.82" width="10.0" height="3.0" fill="#f4f6f9"/>
<rect x="209.7" y="126.82" width="10.0" height="3.0" fill="#f7beb1"/>
<rect x="222.6" y="126.82" width="10.0" height="3.0" fill="#f4f6f9"/>
<rect x="235.5" y="126.82" width="10.0" height="3.0" fill="#fbe2dc"/>
<rect x="248.4" y="126.82" width="10.0" height="3.0" fill="#f4f6f9"/>
<rect x="261.3" y="126.82" width="10.0" height="3.0" fill="#f4f6f9"/>
<rect x="274.2" y="126.82" width="10.0" height="3.0" fill="#f8ecea"/>
<rect x="287.1" y="126.82" width="10.0" height="3.0" fill="#f7beb1"/>
<rect x="300.0" y="126.82" width="10.0" height="3.0" fill="#f4f6f9"/>
<rect x="312.9" y="126.82" width="10.0" height="3.0" fill="#fbe2dc"/>
<rect x="325.8" y="126.82" width="10.0" height="3.0" fill="#fbe2dc"/>
<rect x="42.0" y="132.50" width="10.0" height="3.0" fill="#d5e3f0"/>
<rect x="54.9" y="132.50" width="10.0" height="3.0" fill="#fbe2dc"/>
<rect x="67.8" y="132.50" width="10.0" height="3.0" fill="#e4ecf4"/>
<rect x="80.7" y="132.50" width="10.0" height="3.0" fill="#c4d8ea"/>
<rect x="93.6" y="132.50" width="10.0" height="3.0" fill="#c4d8ea"/>
<rect x="106.5" y="132.50" width="10.0" height="3.0" fill="#c4d8ea"/>
<rect x="119.4" y="132.50" width="10.0" height="3.0" fill="#f4f6f9"/>
<rect x="132.3" y="132.50" width="10.0" height="3.0" fill="#d5e3f0"/>
<rect x="145.2" y="132.50" width="10.0" height="3.0" fill="#e4ecf4"/>
<rect x="158.1" y="132.50" width="10.0" height="3.0" fill="#b2cce4"/>
<rect x="171.0" y="132.50" width="10.0" height="3.0" fill="#b2cce4"/>
<rect x="183.9" y="132.50" width="10.0" height="3.0" fill="#f4f6f9"/>
<rect x="196.8" y="132.50" width="10.0" height="3.0" fill="#b2cce4"/>
<rect x="209.7" y="132.50" width="10.0" height="3.0" fill="#b2cce4"/>
<rect x="222.6" y="132.50" width="10.0" height="3.0" fill="#d5e3f0"/>
<rect x="235.5" y="132.50" width="10.0" height="3.0" fill="#fbe2dc"/>
<rect x="248.4" y="132.50" width="10.0" height="3.0" fill="#d5e3f0"/>
<rect x="261.3" y="132.50" width="10.0" height="3.0" fill="#f4f6f9"/>
<rect x="274.2" y="132.50" width="10.0" height="3.0" fill="#d5e3f0"/>
<rect x="287.1" y="132.50" width="10.0" height="3.0" fill="#f4f6f9"/>
<rect x="300.0" y="132.50" width="10.0" height="3.0" fill="#d5e3f0"/>
<rect x="312.9" y="132.50" width="10.0" height="3.0" fill="#d5e3f0"/>
<rect x="325.8" y="132.50" width="10.0" height="3.0" fill="#fbe2dc"/>
<rect x="42.0" y="138.18" width="10.0" height="3.0" fill="#d5e3f0"/>
<rect x="54.9" y="138.18" width="10.0" height="3.0" fill="#f18c78"/>
<rect x="67.8" y="138.18" width="10.0" height="3.0" fill="#fbe2dc"/>
<rect x="80.7" y="138.18" width="10.0" height="3.0" fill="#f4f6f9"/>
<rect x="93.6" y="138.18" width="10.0" height="3.0" fill="#f7beb1"/>
<rect x="106.5" y="138.18" width="10.0" height="3.0" fill="#d5e3f0"/>
<rect x="119.4" y="138.18" width="10.0" height="3.0" fill="#f4f6f9"/>
<rect x="132.3" y="138.18" width="10.0" height="3.0" fill="#d5e3f0"/>
<rect x="145.2" y="138.18" width="10.0" height="3.0" fill="#d5e3f0"/>
<rect x="158.1" y="138.18" width="10.0" height="3.0" fill="#b2cce4"/>
<rect x="171.0" y="138.18" width="10.0" height="3.0" fill="#d5e3f0"/>
<rect x="183.9" y="138.18" width="10.0" height="3.0" fill="#d5e3f0"/>
<rect x="196.8" y="138.18" width="10.0" height="3.0" fill="#d5e3f0"/>
<rect x="209.7" y="138.18" width="10.0" height="3.0" fill="#d5e3f0"/>
<rect x="222.6" y="138.18" width="10.0" height="3.0" fill="#f4f6f9"/>
<rect x="235.5" y="138.18" width="10.0" height="3.0" fill="#fbe2dc"/>
<rect x="248.4" y="138.18" width="10.0" height="3.0" fill="#b2cce4"/>
<rect x="261.3" y="138.18" width="10.0" height="3.0" fill="#d5e3f0"/>
<rect x="274.2" y="138.18" width="10.0" height="3.0" fill="#d5e3f0"/>
<rect x="287.1" y="138.18" width="10.0" height="3.0" fill="#b2cce4"/>
<rect x="300.0" y="138.18" width="10.0" height="3.0" fill="#f4f6f9"/>
<rect x="312.9" y="138.18" width="10.0" height="3.0" fill="#d5e3f0"/>
<rect x="325.8" y="138.18" width="10.0" height="3.0" fill="#fbe2dc"/>
<rect x="42.0" y="143.86" width="10.0" height="3.0" fill="#b2cce4"/>
<rect x="54.9" y="143.86" width="10.0" height="3.0" fill="#f7beb1"/>
<rect x="67.8" y="143.86" width="10.0" height="3.0" fill="#d5e3f0"/>
<rect x="80.7" y="143.86" width="10.0" height="3.0" fill="#d5e3f0"/>
<rect x="93.6" y="143.86" width="10.0" height="3.0" fill="#f4f6f9"/>
<rect x="106.5" y="143.86" width="10.0" height="3.0" fill="#b2cce4"/>
<rect x="119.4" y="143.86" width="10.0" height="3.0" fill="#b2cce4"/>
<rect x="132.3" y="143.86" width="10.0" height="3.0" fill="#d5e3f0"/>
<rect x="145.2" y="143.86" width="10.0" height="3.0" fill="#f4f6f9"/>
<rect x="158.1" y="143.86" width="10.0" height="3.0" fill="#d5e3f0"/>
<rect x="171.0" y="143.86" width="10.0" height="3.0" fill="#d5e3f0"/>
<rect x="183.9" y="143.86" width="10.0" height="3.0" fill="#f4f6f9"/>
<rect x="196.8" y="143.86" width="10.0" height="3.0" fill="#d5e3f0"/>
<rect x="209.7" y="143.86" width="10.0" height="3.0" fill="#f4f6f9"/>
<rect x="222.6" y="143.86" width="10.0" height="3.0" fill="#d5e3f0"/>
<rect x="235.5" y="143.86" width="10.0" height="3.0" fill="#fbe2dc"/>
<rect x="248.4" y="143.86" width="10.0" height="3.0" fill="#b2cce4"/>
<rect x="261.3" y="143.86" width="10.0" height="3.0" fill="#d5e3f0"/>
<rect x="274.2" y="143.86" width="10.0" height="3.0" fill="#d5e3f0"/>
<rect x="287.1" y="143.86" width="10.0" height="3.0" fill="#d5e3f0"/>
<rect x="300.0" y="143.86" width="10.0" height="3.0" fill="#d5e3f0"/>
<rect x="312.9" y="143.86" width="10.0" height="3.0" fill="#f4f6f9"/>
<rect x="325.8" y="143.86" width="10.0" height="3.0" fill="#f7beb1"/>
<rect x="42.0" y="149.54" width="10.0" height="3.0" fill="#b2cce4"/>
<rect x="54.9" y="149.54" width="10.0" height="3.0" fill="#d5e3f0"/>
<rect x="67.8" y="149.54" width="10.0" height="3.0" fill="#d5e3f0"/>
<rect x="80.7" y="149.54" width="10.0" height="3.0" fill="#d5e3f0"/>
<rect x="93.6" y="149.54" width="10.0" height="3.0" fill="#d5e3f0"/>
<rect x="106.5" y="149.54" width="10.0" height="3.0" fill="#f18c78"/>
<rect x="119.4" y="149.54" width="10.0" height="3.0" fill="#f4f6f9"/>
<rect x="132.3" y="149.54" width="10.0" height="3.0" fill="#d5e3f0"/>
<rect x="145.2" y="149.54" width="10.0" height="3.0" fill="#f4f6f9"/>
<rect x="158.1" y="149.54" width="10.0" height="3.0" fill="#f4f6f9"/>
<rect x="171.0" y="149.54" width="10.0" height="3.0" fill="#f4f6f9"/>
<rect x="183.9" y="149.54" width="10.0" height="3.0" fill="#d5e3f0"/>
<rect x="196.8" y="149.54" width="10.0" height="3.0" fill="#fbe2dc"/>
<rect x="209.7" y="149.54" width="10.0" height="3.0" fill="#f4f6f9"/>
<rect x="222.6" y="149.54" width="10.0" height="3.0" fill="#fbe2dc"/>
<rect x="235.5" y="149.54" width="10.0" height="3.0" fill="#d5e3f0"/>
<rect x="248.4" y="149.54" width="10.0" height="3.0" fill="#d5e3f0"/>
<rect x="261.3" y="149.54" width="10.0" height="3.0" fill="#d5e3f0"/>
<rect x="274.2" y="149.54" width="10.0" height="3.0" fill="#fbe2dc"/>
<rect x="287.1" y="149.54" width="10.0" height="3.0" fill="#b2cce4"/>
<rect x="300.0" y="149.54" width="10.0" height="3.0" fill="#f4f6f9"/>
<rect x="312.9" y="149.54" width="10.0" height="3.0" fill="#d5e3f0"/>
<rect x="325.8" y="149.54" width="10.0" height="3.0" fill="#d5e3f0"/>
</g>
<g fill="#111">
<circle cx="111.5" cy="18.10" r="1.1"/>
<circle cx="47.0" cy="23.78" r="1.1"/>
<circle cx="72.8" cy="23.78" r="1.1"/>
<circle cx="85.7" cy="29.46" r="1.1"/>
<circle cx="109.7" cy="29.46" r="1.1"/><circle cx="113.3" cy="29.46" r="1.1"/>
<circle cx="163.1" cy="29.46" r="1.1"/>
<circle cx="176.0" cy="29.46" r="1.1"/>
<circle cx="251.6" cy="29.46" r="1.1"/><circle cx="255.2" cy="29.46" r="1.1"/>
<circle cx="292.1" cy="29.46" r="1.1"/>
<circle cx="161.3" cy="35.14" r="1.1"/><circle cx="164.9" cy="35.14" r="1.1"/>
<circle cx="188.9" cy="35.14" r="1.1"/>
<circle cx="292.1" cy="35.14" r="1.1"/>
<circle cx="47.0" cy="46.50" r="1.1"/>
<circle cx="85.7" cy="46.50" r="1.1"/>
<circle cx="137.3" cy="46.50" r="1.1"/>
<circle cx="161.3" cy="46.50" r="1.1"/><circle cx="164.9" cy="46.50" r="1.1"/>
<circle cx="251.6" cy="46.50" r="1.1"/><circle cx="255.2" cy="46.50" r="1.1"/>
<circle cx="305.0" cy="46.50" r="1.1"/>
<circle cx="316.1" cy="46.50" r="1.1"/><circle cx="319.7" cy="46.50" r="1.1"/>
<circle cx="45.2" cy="57.86" r="1.1"/><circle cx="48.8" cy="57.86" r="1.1"/>
<circle cx="72.8" cy="57.86" r="1.1"/>
<circle cx="148.4" cy="57.86" r="1.1"/><circle cx="152.0" cy="57.86" r="1.1"/>
<circle cx="163.1" cy="57.86" r="1.1"/>
<circle cx="174.2" cy="57.86" r="1.1"/><circle cx="177.8" cy="57.86" r="1.1"/>
<circle cx="187.1" cy="57.86" r="1.1"/><circle cx="190.7" cy="57.86" r="1.1"/>
<circle cx="200.0" cy="57.86" r="1.1"/><circle cx="203.6" cy="57.86" r="1.1"/>
<circle cx="212.9" cy="57.86" r="1.1"/><circle cx="216.5" cy="57.86" r="1.1"/>
<circle cx="225.8" cy="57.86" r="1.1"/><circle cx="229.4" cy="57.86" r="1.1"/>
<circle cx="240.5" cy="57.86" r="1.1"/>
<circle cx="251.6" cy="57.86" r="1.1"/><circle cx="255.2" cy="57.86" r="1.1"/>
<circle cx="264.5" cy="57.86" r="1.1"/><circle cx="268.1" cy="57.86" r="1.1"/>
<circle cx="277.4" cy="57.86" r="1.1"/><circle cx="281.0" cy="57.86" r="1.1"/>
<circle cx="290.3" cy="57.86" r="1.1"/><circle cx="293.9" cy="57.86" r="1.1"/>
<circle cx="303.2" cy="57.86" r="1.1"/><circle cx="306.8" cy="57.86" r="1.1"/>
<circle cx="316.1" cy="57.86" r="1.1"/><circle cx="319.7" cy="57.86" r="1.1"/>
<circle cx="45.2" cy="69.22" r="1.1"/><circle cx="48.8" cy="69.22" r="1.1"/>
<circle cx="72.8" cy="69.22" r="1.1"/>
<circle cx="161.3" cy="69.22" r="1.1"/><circle cx="164.9" cy="69.22" r="1.1"/>
<circle cx="174.2" cy="69.22" r="1.1"/><circle cx="177.8" cy="69.22" r="1.1"/>
<circle cx="200.0" cy="69.22" r="1.1"/><circle cx="203.6" cy="69.22" r="1.1"/>
<circle cx="251.6" cy="69.22" r="1.1"/><circle cx="255.2" cy="69.22" r="1.1"/>
<circle cx="292.1" cy="69.22" r="1.1"/>
<circle cx="225.8" cy="74.90" r="1.1"/><circle cx="229.4" cy="74.90" r="1.1"/>
<circle cx="251.6" cy="74.90" r="1.1"/><circle cx="255.2" cy="74.90" r="1.1"/>
<circle cx="292.1" cy="74.90" r="1.1"/>
<circle cx="109.7" cy="80.58" r="1.1"/><circle cx="113.3" cy="80.58" r="1.1"/>
<circle cx="253.4" cy="80.58" r="1.1"/>
<circle cx="317.9" cy="80.58" r="1.1"/>
<circle cx="45.2" cy="86.26" r="1.1"/><circle cx="48.8" cy="86.26" r="1.1"/>
<circle cx="150.2" cy="86.26" r="1.1"/>
<circle cx="174.2" cy="86.26" r="1.1"/><circle cx="177.8" cy="86.26" r="1.1"/>
<circle cx="188.9" cy="86.26" r="1.1"/>
<circle cx="200.0" cy="86.26" r="1.1"/><circle cx="203.6" cy="86.26" r="1.1"/>
<circle cx="214.7" cy="86.26" r="1.1"/>
<circle cx="225.8" cy="86.26" r="1.1"/><circle cx="229.4" cy="86.26" r="1.1"/>
<circle cx="240.5" cy="86.26" r="1.1"/>
<circle cx="253.4" cy="86.26" r="1.1"/>
<circle cx="277.4" cy="86.26" r="1.1"/><circle cx="281.0" cy="86.26" r="1.1"/>
<circle cx="292.1" cy="86.26" r="1.1"/>
<circle cx="305.0" cy="86.26" r="1.1"/>
<circle cx="253.4" cy="91.94" r="1.1"/>
<circle cx="316.1" cy="91.94" r="1.1"/><circle cx="319.7" cy="91.94" r="1.1"/>
<circle cx="45.2" cy="97.62" r="1.1"/><circle cx="48.8" cy="97.62" r="1.1"/>
<circle cx="98.6" cy="97.62" r="1.1"/>
<circle cx="225.8" cy="97.62" r="1.1"/><circle cx="229.4" cy="97.62" r="1.1"/>
<circle cx="240.5" cy="97.62" r="1.1"/>
<circle cx="305.0" cy="97.62" r="1.1"/>
<circle cx="72.8" cy="103.30" r="1.1"/>
<circle cx="98.6" cy="103.30" r="1.1"/>
<circle cx="137.3" cy="103.30" r="1.1"/>
<circle cx="150.2" cy="103.30" r="1.1"/>
<circle cx="161.3" cy="103.30" r="1.1"/><circle cx="164.9" cy="103.30" r="1.1"/>
<circle cx="176.0" cy="103.30" r="1.1"/>
<circle cx="201.8" cy="103.30" r="1.1"/>
<circle cx="240.5" cy="103.30" r="1.1"/>
<circle cx="59.9" cy="108.98" r="1.1"/>
<circle cx="58.1" cy="114.66" r="1.1"/><circle cx="61.7" cy="114.66" r="1.1"/>
<circle cx="59.9" cy="137.38" r="1.1"/>
<circle cx="292.1" cy="148.74" r="1.1"/>
</g>
<g font-size="6.7" text-anchor="end" fill="#2a2a2a">
<text transform="translate(41.6,21.55) scale(1,1.12)">ZC3H13</text>
<text transform="translate(41.6,27.23) scale(1,1.12)">YTHDF3</text>
<text transform="translate(41.6,32.91) scale(1,1.12)">YTHDF2</text>
<text transform="translate(41.6,38.59) scale(1,1.12)">YTHDF1</text>
<text transform="translate(41.6,44.27) scale(1,1.12)">YTHDC2</text>
<text transform="translate(41.6,49.95) scale(1,1.12)">YTHDC1</text>
<text transform="translate(41.6,55.63) scale(1,1.12)">WTAP</text>
<text transform="translate(41.6,61.31) scale(1,1.12)">RBMX</text>
<text transform="translate(41.6,66.99) scale(1,1.12)">RBM15B</text>
<text transform="translate(41.6,72.67) scale(1,1.12)">RBM15</text>
<text transform="translate(41.6,78.35) scale(1,1.12)">METTL3</text>
<text transform="translate(41.6,84.03) scale(1,1.12)">METTL14</text>
<text transform="translate(41.6,89.71) scale(1,1.12)">LRPPRC</text>
<text transform="translate(41.6,95.39) scale(1,1.12)">KIAA1429</text>
<text transform="translate(41.6,101.07) scale(1,1.12)">IGF2BP3</text>
<text transform="translate(41.6,106.75) scale(1,1.12)">IGF2BP2</text>
<text transform="translate(41.6,112.43) scale(1,1.12)">IGF2BP1</text>
<text transform="translate(41.6,118.11) scale(1,1.12)">HNRNPC</text>
<text transform="translate(41.6,123.79) scale(1,1.12)">HNRNPA2B1</text>
<text transform="translate(41.6,129.47) scale(1,1.12)">FTO</text>
<text transform="translate(41.6,135.15) scale(1,1.12)">FMR1</text>
<text transform="translate(41.6,140.83) scale(1,1.12)">ELAVL1</text>
<text transform="translate(41.6,146.51) scale(1,1.12)">CBLL1</text>
<text transform="translate(41.6,152.19) scale(1,1.12)">ALKBH5</text>
</g>
<g font-size="6.7" text-anchor="end" fill="#3a3a3a" class="sm">
<text transform="translate(44.6,154.2) rotate(-50)" x="0" y="4.8">Activated.B.cell</text>
<text transform="translate(57.5,154.2) rotate(-50)" x="0" y="4.8">Activated.CD4.T.cell</text>
<text transform="translate(70.4,154.2) rotate(-50)" x="0" y="4.8">Activated.CD8.T.cell</text>
<text transform="translate(83.3,154.2) rotate(-50)" x="0" y="4.8">Activated.dendritic.cell</text>
<text transform="translate(96.2,154.2) rotate(-50)" x="0" y="4.8">CD56bright.natural.killer.cell</text>
<text transform="translate(109.1,154.2) rotate(-50)" x="0" y="4.8">CD56dim.natural.killer.cell</text>
<text transform="translate(122.0,154.2) rotate(-50)" x="0" y="4.8">Eosinophil</text>
<text transform="translate(134.9,154.2) rotate(-50)" x="0" y="4.8">Gamma.delta.T.cell</text>
<text transform="translate(147.8,154.2) rotate(-50)" x="0" y="4.8">Immature..B.cell</text>
<text transform="translate(160.7,154.2) rotate(-50)" x="0" y="4.8">Immature.dendritic.cell</text>
<text transform="translate(173.6,154.2) rotate(-50)" x="0" y="4.8">Macrophage</text>
<text transform="translate(186.5,154.2) rotate(-50)" x="0" y="4.8">Mast.cell</text>
<text transform="translate(199.4,154.2) rotate(-50)" x="0" y="4.8">MDSC</text>
<text transform="translate(212.3,154.2) rotate(-50)" x="0" y="4.8">Monocyte</text>
<text transform="translate(225.2,154.2) rotate(-50)" x="0" y="4.8">Natural.killer.cell</text>
<text transform="translate(238.1,154.2) rotate(-50)" x="0" y="4.8">Natural.killer.T.cell</text>
<text transform="translate(251.0,154.2) rotate(-50)" x="0" y="4.8">Neutrophil</text>
<text transform="translate(263.9,154.2) rotate(-50)" x="0" y="4.8">Plasmacytoid.dendritic.cell</text>
<text transform="translate(276.8,154.2) rotate(-50)" x="0" y="4.8">Regulatory.T.cell</text>
<text transform="translate(289.7,154.2) rotate(-50)" x="0" y="4.8">T.follicular.helper.cell</text>
<text transform="translate(302.6,154.2) rotate(-50)" x="0" y="4.8">Type.1.T.helper.cell</text>
<text transform="translate(315.5,154.2) rotate(-50)" x="0" y="4.8">Type.17.T.helper.cell</text>
<text transform="translate(328.4,154.2) rotate(-50)" x="0" y="4.8">Type.2.T.helper.cell</text>
</g>
<rect x="19.4" y="56.6" width="319" height="6.8" fill="none" stroke="#ec1c24" stroke-width="1.4"/>
<text x="5.8" y="15.5" font-size="12.8" text-anchor="start" fill="#231f20" style="stroke-width:0.35px">A</text>
<text x="147.4" y="13.3" font-size="9" text-anchor="start" fill="#231f20" >TARGET dataset</text>
<text x="352.5" y="37.2" font-size="9" text-anchor="start" fill="#231f20" >* p &lt; 0.05</text>
<text x="351.0" y="56.2" font-size="9" text-anchor="start" fill="#231f20" >** p &lt; 0.01</text>
<text x="351.0" y="74.8" font-size="9" text-anchor="start" fill="#231f20" >Correlation</text>
<defs><linearGradient id="cb" x1="0" y1="0" x2="0" y2="1"><stop offset="0" stop-color="#e41a1c"/><stop offset="0.2" stop-color="#f0605a"/><stop offset="0.42" stop-color="#f9c3bc"/><stop offset="0.58" stop-color="#f7f7f9"/><stop offset="0.78" stop-color="#b4cfe5"/><stop offset="1" stop-color="#3b8dc2"/></linearGradient></defs>
<rect x="350.8" y="80.1" width="11.8" height="69.1" fill="url(#cb)"/>
<text x="366.3" y="85.8" font-size="9" text-anchor="start" fill="#231f20" >0.50</text>
<text x="366.3" y="103.3" font-size="9" text-anchor="start" fill="#231f20" >0.25</text>
<text x="366.3" y="121.1" font-size="9" text-anchor="start" fill="#231f20" >0.00</text>
<text x="365.5" y="139.3" font-size="9" text-anchor="start" fill="#231f20" >−0.25</text>
<text x="405.5" y="16.6" font-size="12.8" text-anchor="start" fill="#231f20" style="stroke-width:0.12px">B</text>
<text x="458.8" y="26.4" font-size="9" text-anchor="start" fill="#231f20" >TARGET dataset</text>
<g stroke="#231f20" stroke-width="1.3" fill="none">
<path d="M442.7 49.3 V153.2 H539.5"/>
<path d="M440.2 50.4 H442.7"/>
<path d="M440.2 84.4 H442.7"/>
<path d="M440.2 118.4 H442.7"/>
<path d="M440.2 152.4 H442.7"/>
<path d="M470.6 153.2 V156.8 M511.6 153.2 V156.8"/>
</g>
<g font-size="8.8" text-anchor="end" fill="#231f20">
<text x="438.5" y="53.4">60</text>
<text x="438.5" y="87.4">40</text>
<text x="438.5" y="121.4">20</text>
<text x="438.5" y="155.4">0</text>
</g>
<text transform="translate(418.1,96.6) rotate(-90)" font-size="9" text-anchor="middle" fill="#231f20">The expression of RBMX</text>
<g stroke="#27aae1" stroke-width="1.45" fill="none">
<rect x="457.2" y="121.2" width="26.8" height="13.5"/><path d="M457.2 127.2 H484 M470.6 121.2 V115.8 M464 115.8 H477.6 M470.6 134.7 V139 M464 139 H477.6"/>
</g>
<g stroke="#f26522" stroke-width="1.45" fill="none">
<rect x="498" y="95.9" width="27.2" height="17.3"/><path d="M498 106.8 H525.2 M511.6 95.9 V57.4 M505.5 57.4 H518.3 M511.6 113.2 V128.7 M505.5 128.7 H518.3"/>
</g>
<text x="482.9" y="56.0" font-size="9.4" text-anchor="middle" fill="#231f20" stroke="#231f20" stroke-width="0.35">***</text>
<text x="466.9" y="169.2" font-size="8.9" text-anchor="middle" fill="#231f20" >Normal</text>
<text x="510.3" y="169.2" font-size="8.6" text-anchor="middle" fill="#231f20" >Tumor</text>
<text x="5.1" y="233.8" font-size="12.8" text-anchor="start" fill="#231f20" style="stroke-width:0.12px">C</text>
<text x="142.6" y="235.1" font-size="9.05" text-anchor="middle" fill="#231f20" >The expression of RBMX</text>
<text x="79.3" y="355.6" font-size="9.05" text-anchor="middle" fill="#231f20" >No Metastasis</text>
<text x="190.4" y="355.6" font-size="9.0" text-anchor="middle" fill="#231f20" >Metastasis</text>
<svg x="22.3" y="238.9" width="106.4" height="98.6" viewBox="0 0 106.4 98.6" overflow="hidden">
<rect width="106.4" height="98.6" fill="#f5f4f5"/>
<filter id="s7"><feGaussianBlur stdDeviation="0.3"/></filter><g filter="url(#s7)">
<path d="M33.8 13.5l-0.0 -0.8M58.8 4.1l-0.1 -3.3M30.0 12.8l-0.2 -2.2M61.1 17.3l0.1 -2.1M51.3 99.1l-0.1 -1.9M46.8 9.2l-0.2 -1.4M39.0 61.7l0.2 -1.1M50.2 56.0l-0.1 -1.7M8.9 46.1l0.4 -2.1M44.2 96.6l-0.0 -1.1M9.2 16.6l-0.0 -1.8M67.2 41.8l0.6 -2.4M96.3 91.7l0.2 -2.6M76.5 37.1l-0.3 -1.4M60.9 62.8l0.6 -2.5M-1.7 70.9l0.2 -3.2M24.3 26.3l-0.1 -1.3M19.3 71.7l-0.0 -1.2M42.2 91.0l-0.1 -1.1M80.3 33.0l-0.1 -2.9M47.5 21.5l-0.0 -1.6M41.8 32.4l0.5 -2.2M3.3 89.7l0.9 -2.9M71.2 6.9l-1.2 -2.9M22.4 5.9l-0.1 -0.9M35.7 44.8l0.1 -2.6M73.7 13.9l0.1 -3.2M12.7 32.8l0.3 -3.2M90.5 28.4l0.3 -3.2M46.2 12.2l-0.0 -1.2M61.4 19.6l0.9 -3.0M50.9 24.5l0.4 -3.2M95.9 90.7l0.2 -1.2M78.8 17.2l0.7 -2.4M93.9 35.1l0.0 -1.2M70.3 43.7l-0.6 -2.7M95.8 35.7l-0.3 -3.3M49.2 75.0l0.1 -1.3M7.1 32.0l0.1 -1.5M46.3 65.7l-0.7 -2.5M67.0 17.3l0.1 -2.2M61.4 31.0l-0.4 -2.2" stroke="#5570b0" stroke-width="0.8" stroke-linecap="round" fill="none"/>
<path d="M54.0 1.8l0.2 -1.8M58.7 88.6l0.3 -3.0M43.8 34.8l0.7 -3.2M85.1 32.1l0.3 -1.9M107.6 0.8l0.2 -2.9M48.6 57.9l0.6 -2.9M6.1 93.4l0.5 -3.3M7.0 21.4l1.5 -2.8M68.7 85.9l-0.3 -2.3M98.9 89.5l0.7 -2.5M54.5 88.8l-0.2 -2.2M49.6 33.3l0.0 -0.7M103.8 19.3l0.7 -1.9M13.1 68.4l0.5 -2.4M13.3 63.3l0.3 -0.8M39.1 57.6l0.3 -1.6M8.5 18.4l0.1 -2.4M23.9 62.6l0.9 -1.3M86.7 51.5l0.5 -2.4M66.8 51.7l0.2 -1.3M2.6 75.3l0.1 -1.8M7.9 -1.5l0.2 -1.4M95.0 11.5l-0.4 -2.3M89.7 78.6l0.1 -2.8M11.1 49.1l0.2 -0.8M80.2 55.8l0.3 -0.9M50.7 50.5l0.6 -2.4M72.8 12.6l0.2 -1.1M76.6 67.6l-0.1 -2.3M107.6 0.8l0.1 -0.9M71.9 42.5l0.1 -0.8M85.8 73.6l0.3 -0.8M52.8 91.6l0.2 -1.0M14.5 20.7l0.4 -1.6M39.0 78.9l0.3 -0.9" stroke="#6a82c0" stroke-width="1.5" stroke-linecap="round" fill="none"/>
<path d="M62.6 3.1l-0.0 -0.7M78.2 8.5l0.2 -1.8M54.4 87.5l0.2 -2.3M26.8 60.4l0.1 -0.8M7.3 26.6l0.2 -1.3M27.3 72.8l0.0 -1.2M90.6 10.3l0.3 -2.6M29.5 94.0l-0.0 -3.3M56.4 79.1l0.1 -0.9M52.3 96.2l0.3 -2.5M16.7 90.8l0.4 -3.2M45.3 53.9l0.0 -1.7M75.3 23.3l0.3 -2.1M32.1 42.0l0.1 -1.7M24.0 71.9l0.1 -0.7M106.0 82.8l0.3 -0.9M62.6 69.4l0.7 -2.4M20.7 67.1l0.6 -1.9M76.1 58.3l-0.1 -1.5M58.5 76.0l1.0 -2.3M73.7 53.8l0.2 -2.2M45.9 21.7l0.0 -1.5M38.2 19.0l0.4 -2.8M91.8 11.3l0.2 -3.3M58.8 74.7l1.0 -3.3M20.5 18.8l0.2 -1.8M32.2 24.5l-0.1 -1.0M24.5 58.3l-0.7 -3.0M92.2 8.6l0.2 -1.9M100.7 15.0l-0.1 -3.3M35.2 86.8l-0.2 -2.1M10.4 15.0l0.1 -0.8M14.5 12.1l0.5 -2.2M12.1 20.8l0.9 -2.9M49.4 71.5l0.8 -2.6M41.5 27.1l0.0 -0.6M80.7 71.1l0.5 -1.3M101.0 7.0l0.1 -0.9M51.7 8.2l0.1 -1.8" stroke="#7080b8" stroke-width="1.0" stroke-linecap="round" fill="none"/>
<path d="M4.6 19.1l-0.7 -2.7M52.7 33.2l0.3 -1.4M72.7 3.5l-0.1 -1.7M52.6 83.6l1.1 -3.1M13.9 58.2l0.0 -0.7M0.7 -1.6l1.2 -2.2M1.8 32.7l0.2 -1.6M91.3 4.9l0.5 -3.3M102.7 13.0l0.3 -0.7M86.8 7.0l-0.1 -1.1M88.0 12.7l0.1 -1.2M19.8 40.4l0.6 -2.8M67.4 8.0l-0.0 -1.3M68.4 23.9l0.5 -1.6M56.6 74.1l0.5 -2.4M39.3 8.9l0.7 -2.7M71.9 38.3l0.1 -3.0M5.3 73.2l0.9 -2.8M29.1 63.6l0.0 -0.9M20.2 70.9l-0.0 -3.1M-1.3 74.5l0.2 -1.7M5.5 21.5l-0.1 -1.6M36.2 91.7l0.4 -2.5M82.1 25.6l0.0 -0.6M37.0 46.0l1.1 -2.4M93.3 41.9l0.1 -1.0M59.3 50.4l0.2 -2.5M88.1 88.5l0.3 -1.4M83.3 0.6l0.5 -2.4M97.2 80.5l0.5 -2.7M92.7 35.3l0.5 -1.9M99.9 91.4l0.3 -1.8M22.4 27.8l0.5 -2.3M47.6 85.4l0.7 -2.7M17.2 76.5l0.2 -2.6M39.7 63.5l0.0 -1.5M66.0 80.8l0.8 -1.8M96.6 1.5l0.4 -2.2M62.3 97.2l0.6 -2.1M81.3 5.6l0.3 -1.3M25.5 93.0l-0.3 -2.1M48.8 22.4l0.2 -1.5M64.1 16.0l0.3 -2.1M106.4 15.4l0.4 -0.8" stroke="#8898cc" stroke-width="1.5" stroke-linecap="round" fill="none"/>
<path d="M25.4 16.4l0.2 -0.8M51.2 39.1l0.1 -0.8M65.8 5.2l0.5 -2.3M38.3 20.6l-0.1 -1.9M42.0 48.0l-0.1 -1.1M100.9 62.5l0.0 -1.4M21.8 21.6l0.2 -2.9M23.7 58.1l0.2 -2.4M66.3 82.0l0.4 -2.8M69.5 84.8l0.0 -2.5M51.5 75.7l0.1 -0.7M100.7 -0.6l0.0 -2.8M59.1 79.8l0.1 -2.8M18.9 17.7l0.2 -2.8M25.5 2.5l0.6 -1.4M59.3 45.9l-0.0 -1.0M85.8 87.6l0.0 -2.5M62.1 4.5l0.6 -1.4M74.6 18.3l0.7 -2.6M97.8 -1.2l0.2 -3.1M26.0 7.1l0.1 -0.8M81.4 1.3l0.2 -1.5M5.8 75.3l-0.8 -2.9M40.7 21.2l-0.0 -2.3M57.9 39.9l0.6 -3.3M54.2 49.3l0.0 -0.8M71.4 15.9l0.2 -2.3M44.5 30.2l-0.4 -2.6M4.7 67.2l0.5 -1.4M106.7 63.8l0.3 -1.5" stroke="#8898cc" stroke-width="1.0" stroke-linecap="round" fill="none"/>
<path d="M81.6 13.6l0.2 -1.8M13.8 88.6l0.4 -1.1M-0.1 45.1l-0.5 -3.3M58.7 15.5l0.1 -1.6M1.5 66.2l1.5 -2.6M91.2 74.5l0.1 -0.8M42.7 4.9l-0.1 -2.3M79.6 76.1l0.2 -0.7M52.2 30.6l0.0 -0.9M71.3 34.1l0.1 -0.7M30.0 68.5l0.1 -2.9M57.3 36.4l0.3 -2.4M33.8 7.7l0.3 -1.0M49.9 29.8l0.7 -1.2M65.0 46.7l0.1 -1.0M66.0 64.3l0.6 -2.1M55.2 47.7l0.2 -0.6M75.9 17.4l-0.6 -2.6M103.6 35.0l0.0 -0.6M98.0 87.3l0.6 -2.2M36.7 30.2l0.2 -1.7" stroke="#c8b8b8" stroke-width="1.5" stroke-linecap="round" fill="none"/>
<path d="M6.6 55.3l0.0 -1.6M89.2 98.6l0.1 -1.0M81.4 85.6l0.1 -0.9M52.8 -1.1l-0.1 -2.9M33.8 31.4l0.4 -1.3M1.3 16.0l0.6 -3.0M75.9 7.5l0.0 -2.1M36.5 -1.9l1.0 -3.0M18.4 82.7l0.5 -1.1M59.3 16.7l1.1 -2.4M106.4 49.2l0.1 -3.1M68.1 22.5l0.2 -2.5M56.1 27.8l-0.1 -0.6M5.5 78.4l-0.0 -2.7M104.3 70.8l-0.2 -1.5M61.2 91.8l-0.1 -1.5M23.5 88.9l0.2 -0.6M27.6 93.5l0.2 -1.6M35.4 70.2l-0.0 -1.7M90.6 73.8l0.7 -2.1M37.1 41.6l-0.7 -2.5M65.2 78.6l0.1 -0.6M72.2 97.5l0.2 -0.9M28.0 50.4l0.2 -3.4M86.3 8.7l0.4 -2.7M35.4 0.7l0.1 -1.6" stroke="#7080b8" stroke-width="1.25" stroke-linecap="round" fill="none"/>
<path d="M5.6 7.6l0.6 -1.8M74.4 67.3l0.2 -2.6M26.7 65.3l0.8 -1.8M90.8 28.1l-0.1 -1.6M30.7 51.0l0.9 -2.2M67.1 40.9l0.7 -3.0M84.3 66.6l0.5 -1.0M24.3 43.6l-0.2 -3.0M79.2 74.0l-0.1 -2.9M48.6 72.2l-0.1 -1.6M54.6 53.7l0.4 -2.6M73.4 7.3l0.1 -2.4M14.5 67.8l0.4 -1.9M7.8 12.3l-0.1 -2.7M81.3 49.4l0.4 -3.1M85.2 74.2l0.1 -1.2M6.6 3.6l-0.0 -1.9M104.4 3.3l0.7 -3.1M107.4 13.2l0.1 -1.5M23.1 19.4l-0.2 -3.2M8.9 91.8l0.2 -2.5M22.4 95.3l0.1 -1.6M79.2 9.7l0.3 -1.5M75.5 77.0l-0.2 -1.4" stroke="#b8c0e0" stroke-width="1.25" stroke-linecap="round" fill="none"/>
<path d="M4.7 70.0l-0.1 -1.4M42.8 53.1l-0.2 -2.6M4.4 68.6l0.4 -3.1M8.2 52.0l0.4 -1.2M40.5 64.3l1.1 -3.1M50.5 96.2l1.1 -2.6M41.2 14.4l-0.1 -0.8M59.0 31.4l0.8 -3.0M8.6 49.1l0.1 -1.1M16.1 69.3l0.2 -3.4M4.0 49.7l0.4 -2.4M3.4 89.2l0.7 -2.5M14.2 98.1l0.6 -1.4M72.7 28.7l1.0 -2.5M3.0 10.6l0.3 -2.2M106.8 30.9l-0.6 -2.9M64.5 96.5l-0.2 -3.3M24.7 50.9l-0.0 -1.0M77.8 -1.7l0.2 -1.0M96.4 14.6l0.3 -1.1M74.6 31.3l-0.1 -2.1M27.2 1.2l1.0 -2.1M-0.8 94.5l-0.1 -2.8M71.2 90.8l1.1 -2.6M9.7 78.7l0.1 -3.2M73.2 85.2l-0.3 -2.8M38.3 63.8l0.3 -1.3M60.7 45.4l-0.1 -0.7M47.4 4.5l0.3 -0.9M28.6 98.4l-0.0 -1.1" stroke="#5570b0" stroke-width="1.5" stroke-linecap="round" fill="none"/>
<path d="M49.0 15.2l0.6 -1.9M1.0 52.2l0.3 -2.5M84.6 8.9l0.4 -1.2M99.4 21.4l0.4 -0.7M11.2 64.0l0.4 -1.1M24.9 15.9l-0.1 -1.5M-1.8 10.9l0.3 -2.4M86.9 95.1l0.3 -0.6M52.4 14.9l-0.0 -0.7M78.5 8.4l0.3 -1.1M104.7 7.0l0.4 -0.9M87.1 27.1l-0.1 -1.5M44.2 23.3l0.3 -1.3M17.4 59.6l0.3 -3.1M49.6 42.2l0.1 -2.4M88.5 70.4l-0.2 -3.2M31.1 57.6l0.1 -1.0M70.5 86.3l0.5 -1.2M13.4 94.1l-0.1 -2.9M105.3 21.0l0.5 -1.3M14.9 25.8l0.3 -1.5M88.6 26.9l0.1 -1.2M97.1 98.2l0.5 -2.0M67.2 35.7l1.1 -3.1M40.8 78.5l0.7 -2.9M49.8 94.1l0.1 -0.8M86.7 95.0l-0.3 -3.0M5.4 81.1l-0.0 -1.4M98.5 95.2l1.1 -2.5M101.0 55.8l0.3 -2.1M100.3 99.8l0.3 -1.3M42.0 18.4l0.3 -2.1M77.0 80.2l-0.2 -2.8M89.8 36.5l0.3 -0.6M104.0 68.0l0.1 -2.0M9.8 60.8l0.1 -2.3M90.6 87.3l0.1 -1.2M-1.1 31.8l0.2 -1.9" stroke="#6a82c0" stroke-width="0.8" stroke-linecap="round" fill="none"/>
<path d="M29.7 73.8l0.3 -1.7M38.2 10.6l0.8 -3.3M48.1 32.8l0.4 -3.2M14.0 82.6l0.5 -2.6M0.2 87.3l0.6 -1.6M1.6 70.8l-0.5 -3.3M60.1 33.9l0.4 -2.3M29.8 74.5l-0.1 -0.7M76.7 14.1l0.9 -1.7M84.5 21.6l1.0 -2.3M57.2 30.1l1.0 -1.8M107.3 89.1l-0.1 -2.4M76.3 21.3l0.1 -1.2M101.2 69.9l-0.4 -1.7M37.9 30.8l0.3 -1.3M95.8 71.3l0.6 -2.5M9.7 5.2l0.8 -1.7M98.6 79.4l0.1 -3.2M51.7 94.9l0.3 -2.0M31.5 46.2l0.7 -1.8M18.3 -1.5l0.1 -2.0M88.0 42.8l0.3 -1.1" stroke="#4a60a8" stroke-width="1.5" stroke-linecap="round" fill="none"/>
<path d="M23.8 47.8l0.3 -1.3M48.9 89.4l0.8 -2.6M9.2 38.6l-0.2 -2.4M6.6 91.4l0.2 -0.7M88.0 94.3l0.6 -1.9M82.7 82.0l-0.1 -1.3M84.7 70.7l-0.3 -1.7M88.1 19.3l0.6 -1.6M72.8 67.2l-0.1 -1.8M42.6 50.3l1.0 -2.9M25.8 23.2l-0.4 -2.7M46.7 24.8l0.3 -1.1M82.3 73.9l-0.0 -1.6M12.0 22.6l0.9 -2.9M57.4 22.8l1.2 -2.2M94.7 79.1l0.9 -2.9M69.5 22.9l0.0 -2.8M59.8 19.4l0.6 -2.9M62.8 65.8l-0.1 -0.7M29.5 98.1l0.1 -1.4M49.0 74.8l0.3 -2.6M53.5 90.2l0.7 -1.9M64.7 22.0l0.1 -2.0M46.1 29.8l0.9 -1.6M3.4 99.3l0.2 -3.2M53.0 99.6l0.5 -2.8M10.7 37.0l0.3 -0.6M66.1 78.0l0.3 -2.5M31.4 79.4l-0.1 -2.1" stroke="#5570b0" stroke-width="1.0" stroke-linecap="round" fill="none"/>
<path d="M44.3 35.9l0.2 -3.3M55.0 19.1l-0.1 -1.0M83.2 52.6l0.7 -2.3M53.8 50.5l0.1 -1.9M19.6 30.7l0.1 -0.6M6.5 91.4l-0.0 -2.7M25.3 96.6l0.2 -0.7M2.8 74.6l0.2 -3.2M81.6 1.9l-0.0 -0.9M5.0 12.8l0.2 -1.7M87.6 63.1l0.7 -1.8M90.2 60.5l0.6 -1.5M55.5 24.6l0.4 -1.9M48.0 11.4l-0.8 -2.1M33.8 46.1l-0.1 -1.4M51.1 64.4l1.1 -2.8M51.9 5.6l0.1 -1.1M47.2 56.4l0.5 -3.2M6.8 81.1l0.7 -2.5M93.6 13.7l0.3 -1.2M94.3 12.9l0.3 -1.1M63.2 42.7l-0.2 -2.7M32.0 51.4l1.3 -2.8M10.2 21.0l0.1 -3.3M87.5 25.5l-0.0 -0.8M107.9 80.5l0.3 -2.4M20.7 -0.7l-0.3 -2.1M47.3 93.2l0.7 -2.2M88.4 25.3l0.1 -1.4M10.3 26.1l0.2 -2.5M22.0 95.9l0.0 -1.9" stroke="#a0acd8" stroke-width="1.25" stroke-linecap="round" fill="none"/>
<path d="M3.8 -2.0l0.5 -2.0M98.0 16.6l0.8 -2.8M96.6 68.1l0.3 -0.8M82.4 43.4l0.3 -2.3M31.3 70.1l0.1 -2.6M84.1 85.9l0.3 -0.7M60.4 58.2l0.2 -1.3M8.8 27.7l0.1 -0.8M53.0 98.7l0.4 -1.9M17.2 15.9l0.3 -0.6M80.2 80.3l-0.0 -1.6M85.3 58.5l0.4 -1.5M58.7 39.3l0.5 -1.3M35.0 76.5l0.8 -3.2M39.6 80.7l0.5 -3.2" stroke="#c8b8b8" stroke-width="1.0" stroke-linecap="round" fill="none"/>
<path d="M51.4 6.8l0.3 -2.7M6.1 66.7l0.9 -3.0M95.1 42.2l0.3 -0.8M39.6 32.7l-0.0 -2.0M4.4 77.9l0.2 -2.3M26.9 64.1l0.1 -1.5M74.9 59.2l0.1 -1.2M98.9 49.1l0.5 -2.9M79.0 17.2l0.3 -1.6M74.7 12.9l-0.1 -1.4M20.2 16.5l0.2 -0.6M23.6 17.3l0.3 -0.7M98.8 73.3l-0.0 -1.7M33.5 34.9l-0.3 -2.4M93.2 24.0l-0.0 -1.1M13.1 77.6l0.3 -1.7M48.7 99.2l0.2 -2.4M21.2 52.3l0.1 -1.6M30.1 43.8l-0.3 -1.8M52.2 50.5l0.5 -2.4M106.2 38.2l0.3 -1.5M25.7 34.1l0.4 -3.3M60.8 89.1l0.1 -1.6M73.7 91.8l0.5 -2.1M5.1 4.9l0.3 -0.8M-0.9 17.5l-0.1 -1.0M26.4 50.3l0.3 -2.4M56.4 85.1l-0.1 -1.8M84.2 38.4l-0.4 -3.3M44.8 52.7l0.0 -0.7M96.4 45.0l0.4 -0.7M60.6 91.6l-0.4 -3.3M107.7 19.6l0.3 -3.4M83.8 28.0l-0.0 -2.8M41.3 30.1l0.6 -2.3" stroke="#b8c0e0" stroke-width="0.8" stroke-linecap="round" fill="none"/>
<path d="M85.0 75.8l0.7 -2.8M70.9 91.3l-0.2 -1.9M24.3 9.2l0.3 -1.3M48.9 96.4l0.2 -1.9M20.0 23.4l0.1 -1.3M5.2 23.8l1.0 -1.8M61.2 93.1l0.4 -0.9M2.1 16.7l0.8 -2.2M42.2 95.8l1.1 -3.2M46.4 67.4l1.5 -3.0M47.9 32.9l0.1 -1.9M4.3 71.2l0.1 -1.8M61.1 12.2l0.6 -2.0M13.1 66.7l-0.3 -2.2M95.6 53.6l0.2 -3.0M33.8 84.5l0.3 -3.3M93.9 7.0l0.5 -1.5M96.1 61.7l0.9 -2.0M79.4 14.8l0.2 -2.5M102.1 48.1l0.4 -2.5M85.1 13.2l0.1 -1.0M-1.7 56.9l-0.1 -2.2M49.7 95.1l-0.0 -0.8M83.3 66.2l0.2 -2.4M4.3 22.0l0.2 -0.8M60.9 20.9l-0.5 -3.2M1.2 79.9l0.0 -0.8M46.1 -0.7l0.0 -0.9M35.6 71.6l0.3 -2.1M57.7 74.0l0.5 -1.5M56.8 16.5l0.8 -3.3M38.9 53.8l0.2 -1.0M3.3 51.4l0.0 -2.0M46.8 95.9l-0.1 -1.5M105.2 19.5l-0.1 -2.4" stroke="#6a82c0" stroke-width="1.0" stroke-linecap="round" fill="none"/>
<path d="M55.1 34.5l-0.4 -3.3M73.1 48.2l0.9 -1.6M87.3 65.0l-0.2 -0.9M15.3 9.6l0.6 -1.6M55.5 93.0l0.2 -1.7M74.7 84.7l-0.0 -1.3M25.2 18.8l-0.1 -0.7M23.8 45.3l0.1 -1.6M20.8 37.8l0.2 -0.6M50.9 42.0l-0.3 -2.4M89.3 46.6l0.4 -1.9M55.3 0.1l0.4 -1.1M33.8 24.4l0.0 -1.6M14.0 -0.5l0.2 -2.5M58.6 80.4l0.1 -0.7M14.7 49.5l0.7 -2.8M103.6 99.8l1.1 -3.0M24.2 0.1l0.4 -1.7M81.2 55.9l0.5 -2.9M20.3 7.4l0.1 -1.8M48.9 1.5l0.1 -1.8M22.2 32.0l0.7 -3.3M14.1 54.0l0.3 -1.6M-0.0 87.8l-0.3 -2.1M56.4 27.6l0.4 -1.3M53.6 98.3l0.2 -0.7M40.9 34.3l0.6 -3.2M92.0 55.0l-0.1 -2.0M25.8 35.6l0.1 -3.0M23.0 59.4l0.8 -1.7M15.9 83.0l0.1 -1.0M102.0 39.8l0.6 -1.7M31.2 24.2l0.3 -2.3M-0.9 76.3l0.9 -3.0M24.5 71.2l0.5 -1.5M100.1 3.4l0.4 -1.8M70.0 74.6l0.8 -3.2M53.9 43.6l-0.1 -0.8M84.8 23.7l0.6 -1.1M32.3 87.4l-0.2 -0.8M87.0 5.2l-0.0 -0.6" stroke="#7080b8" stroke-width="0.8" stroke-linecap="round" fill="none"/>
<path d="M50.1 17.9l1.1 -1.5M107.7 54.3l1.1 -3.2M97.2 32.8l0.1 -1.5M77.8 59.9l0.1 -1.0M62.7 -0.8l0.4 -1.0M15.2 73.8l0.1 -2.4M87.6 4.2l0.2 -2.3M85.9 6.9l0.1 -2.8M50.5 65.2l0.0 -1.0M58.6 68.8l0.1 -1.7M80.4 85.6l1.2 -1.9M73.0 9.7l0.6 -0.7M105.3 77.7l0.6 -3.2M63.1 10.8l-0.1 -1.1M80.7 12.9l0.1 -0.7M102.7 68.3l0.5 -1.9M37.0 87.7l0.4 -2.9" stroke="#c8b8b8" stroke-width="1.25" stroke-linecap="round" fill="none"/>
<path d="M89.2 19.7l-0.2 -1.2M104.6 29.8l0.1 -1.1M102.2 17.7l0.1 -1.2M104.5 19.3l1.3 -2.4M34.2 36.7l-0.1 -0.9M92.6 73.7l0.5 -1.3M46.2 20.8l0.5 -1.8M71.0 87.6l0.5 -2.7M75.1 34.1l0.1 -0.9M22.9 96.9l0.7 -2.4M86.9 80.0l0.1 -1.3M49.7 55.7l0.4 -2.9M98.7 27.2l-0.3 -1.8M89.4 39.4l0.1 -3.0M104.9 5.3l0.7 -2.5M55.1 96.3l-0.1 -1.3M105.3 27.8l-0.0 -0.9M5.2 10.6l0.2 -2.1M16.6 78.5l-0.3 -2.7M67.0 19.7l0.3 -2.6M13.9 71.9l-0.7 -2.6M22.6 60.8l0.4 -1.3M97.8 57.4l-0.2 -0.7M88.9 16.9l0.3 -1.5M66.9 43.6l0.0 -1.6M5.4 59.9l0.6 -2.2M60.4 30.4l0.4 -1.4M66.3 28.1l0.4 -2.6M14.4 32.4l0.6 -1.4M81.3 81.4l0.1 -2.0M96.8 33.9l-0.0 -2.4M7.1 40.5l0.2 -2.2M38.7 1.7l0.1 -1.2M11.4 58.1l0.2 -2.5M100.2 -1.4l0.4 -1.2M38.2 23.5l-0.1 -1.2M37.5 29.4l0.0 -0.8M29.4 6.7l1.0 -2.8M61.0 90.4l0.0 -1.4" stroke="#8898cc" stroke-width="1.25" stroke-linecap="round" fill="none"/>
<path d="M58.1 83.6l0.4 -3.1M68.2 69.7l0.2 -0.9M78.8 91.8l1.0 -2.7M48.9 14.7l0.2 -0.7M32.5 -1.8l0.1 -1.2M38.1 81.9l0.5 -3.0M88.5 15.5l1.0 -1.8M85.0 69.5l0.7 -2.3M42.3 38.5l0.1 -1.8M89.8 63.0l0.4 -2.4M-1.0 37.5l0.2 -2.1M50.8 82.0l0.2 -1.3M43.3 54.4l0.7 -1.9M45.1 91.4l0.1 -0.7M108.0 33.2l0.2 -1.1M103.5 45.2l0.4 -2.6M99.7 57.9l0.0 -2.2M-0.3 31.1l0.2 -1.2M42.1 94.5l0.0 -0.7M42.4 86.7l-0.2 -1.2M48.8 63.7l0.4 -1.5M66.2 36.1l0.8 -2.5M102.3 65.4l-0.1 -1.1M52.0 -0.3l-0.1 -3.1M66.4 28.0l0.9 -3.2M24.4 33.2l0.8 -1.9M13.7 5.1l-0.1 -2.5M16.3 76.1l0.2 -1.2M79.4 14.2l0.6 -3.1M53.2 92.7l0.1 -3.0M103.1 86.1l0.3 -2.0M38.1 90.6l-0.1 -1.5M25.1 55.2l0.1 -0.8" stroke="#8898cc" stroke-width="0.8" stroke-linecap="round" fill="none"/>
<path d="M14.5 12.5l0.1 -2.2M83.3 50.1l0.8 -2.6M53.7 83.7l0.1 -2.9M39.6 44.3l0.5 -2.3M84.7 41.9l0.6 -2.8M26.7 77.8l0.3 -0.8M94.4 55.0l0.1 -1.3M2.7 5.0l0.1 -0.8M73.6 38.3l0.9 -2.5M20.5 48.5l0.1 -1.5M68.1 78.5l0.5 -1.7M60.6 28.0l-0.1 -2.3M94.0 72.5l-0.3 -2.9M51.7 84.8l0.5 -3.0M22.7 16.7l0.2 -1.5M95.6 88.8l0.1 -3.0M41.7 76.4l0.2 -1.8M58.1 23.6l0.1 -1.1M26.0 3.9l0.9 -2.0M78.0 36.9l0.3 -1.8M36.4 18.0l-0.1 -2.1M13.9 37.4l0.2 -2.0M17.3 90.1l-0.0 -2.7M69.5 18.2l1.2 -3.1M0.9 65.7l0.2 -0.8M27.5 31.4l0.6 -2.4M70.8 82.8l0.8 -2.2M56.0 49.0l0.2 -0.9M59.7 7.8l-0.0 -2.8M70.8 3.8l-0.6 -3.0M34.8 22.7l0.6 -2.0" stroke="#a0acd8" stroke-width="0.8" stroke-linecap="round" fill="none"/>
<path d="M50.8 94.6l0.7 -3.1M65.0 31.6l0.4 -1.9M68.3 6.4l0.6 -2.7M0.5 -1.7l0.3 -1.4M57.0 40.4l0.5 -2.2M29.2 71.4l0.5 -3.1M-0.2 80.8l-0.0 -2.0M4.7 96.4l-0.2 -0.8M80.5 83.0l-0.2 -2.1M42.8 19.2l0.3 -0.5M84.4 85.3l0.1 -0.7M41.6 94.5l-0.1 -1.7M6.0 84.0l-0.2 -1.2M69.6 50.4l0.8 -3.1M46.5 0.4l0.1 -2.4M46.8 72.5l0.2 -0.8M69.2 84.0l0.5 -1.4M89.6 1.3l0.2 -1.9M28.1 4.2l-0.1 -1.7M19.8 52.5l0.3 -1.7M69.2 69.2l0.5 -2.8M23.2 56.8l-0.0 -1.6M26.2 83.5l0.3 -2.0" stroke="#4a60a8" stroke-width="1.25" stroke-linecap="round" fill="none"/>
<path d="M44.0 38.3l0.1 -0.8M29.1 22.9l-0.1 -0.7M27.7 -1.6l1.1 -3.1M65.4 23.9l0.1 -3.1M30.5 32.5l0.2 -0.6M80.9 3.5l-0.3 -1.9M52.6 33.6l0.3 -2.2M26.4 21.7l0.4 -1.8M54.5 63.6l-0.4 -2.0M85.2 94.8l-0.2 -1.1M103.0 27.5l0.5 -1.5M97.8 57.7l0.1 -1.1M4.1 70.9l0.4 -0.7M84.0 52.2l-0.2 -2.8M98.8 11.7l0.1 -1.0M63.2 29.5l0.4 -3.1M5.5 95.6l0.1 -0.7M60.7 2.3l0.3 -1.6M51.0 49.0l0.4 -3.1M41.3 74.7l0.0 -2.4M90.4 63.4l0.4 -0.6M2.6 82.8l0.4 -1.5M7.9 26.1l1.3 -2.4M73.8 68.9l0.4 -2.7M8.5 93.7l-0.1 -1.5M0.8 14.9l0.8 -3.2M26.0 37.2l-0.6 -2.3M96.2 45.8l1.1 -2.6M90.6 41.4l0.3 -2.6M32.8 28.1l0.2 -2.0M56.5 69.8l-0.2 -1.0M108.3 16.9l0.5 -2.9M100.6 61.1l1.2 -2.9M78.3 11.0l0.1 -2.0M54.4 11.7l0.5 -1.6M82.6 79.8l0.5 -1.6" stroke="#6a82c0" stroke-width="1.25" stroke-linecap="round" fill="none"/>
<path d="M46.6 -0.1l0.0 -2.0M6.2 7.3l1.3 -3.0M98.9 2.1l0.2 -1.2M66.4 20.3l1.2 -1.0M5.4 34.8l-0.0 -0.9M14.4 29.0l0.4 -1.8M4.3 82.9l1.2 -2.5M3.1 73.6l0.9 -2.7M82.2 11.7l-0.4 -1.2M15.5 4.9l0.2 -1.8M73.6 38.0l0.0 -0.7M2.8 89.9l0.1 -1.1M39.2 73.6l0.9 -2.4M49.7 94.2l0.0 -0.6M43.8 70.9l0.4 -1.0M48.0 26.5l0.4 -0.9M42.3 2.2l0.4 -2.1M46.1 53.4l0.3 -1.1M51.1 31.8l0.2 -1.1M4.9 23.2l-0.1 -3.4M12.9 75.3l-0.4 -2.4M-1.2 94.1l-0.1 -1.0M52.7 3.0l0.7 -3.0M70.4 46.6l0.2 -1.4M9.0 36.7l0.4 -1.2M1.9 65.5l0.5 -1.7M81.2 59.3l0.1 -0.7M69.5 26.5l0.6 -1.6M65.2 89.3l0.5 -2.8M19.2 77.3l-0.3 -2.0M5.2 64.0l-0.1 -1.0" stroke="#5570b0" stroke-width="1.25" stroke-linecap="round" fill="none"/>
<path d="M0.0 23.7l0.1 -0.6M88.6 50.2l0.5 -2.5M31.3 83.9l-0.6 -3.3M47.3 43.0l0.2 -0.6M97.9 83.9l0.4 -1.3M99.3 62.0l0.3 -2.3M91.8 82.3l0.3 -2.6M84.5 87.5l0.1 -1.7M12.8 49.6l0.8 -2.2M101.4 62.1l0.0 -0.8M78.5 74.9l0.8 -3.2M9.5 97.8l0.2 -1.1M48.8 71.0l0.3 -1.7M71.2 35.1l0.5 -2.5M88.8 69.9l0.8 -2.2M86.0 80.3l0.2 -0.7M49.7 81.6l1.1 -2.7M54.6 80.3l0.0 -1.3M69.3 45.7l0.1 -0.7M65.7 97.6l-0.5 -2.3M105.0 23.1l0.3 -1.8M2.8 28.1l0.1 -2.8" stroke="#4a60a8" stroke-width="0.8" stroke-linecap="round" fill="none"/>
<path d="M106.0 50.8l1.2 -3.0M98.8 94.5l1.0 -2.4M64.3 82.9l-0.3 -3.2M108.0 35.3l-0.3 -1.7M12.9 94.1l0.9 -2.4M55.8 25.2l0.1 -0.8M108.0 76.0l-0.4 -2.8M65.1 57.4l0.2 -1.1M103.5 -0.0l0.4 -1.3M9.8 8.3l0.7 -3.2M87.3 100.3l0.5 -0.9M82.9 95.9l0.3 -2.9M90.5 13.0l0.0 -2.0M16.8 86.7l0.1 -0.9M71.1 24.8l0.1 -0.8M5.5 74.0l0.1 -3.0M42.7 15.2l1.1 -2.9M63.0 80.2l0.1 -1.5M97.0 2.4l1.0 -2.9" stroke="#4a60a8" stroke-width="1.0" stroke-linecap="round" fill="none"/>
<path d="M36.4 3.6l-0.1 -0.6M34.0 99.0l-0.3 -1.4M69.0 5.9l-0.0 -1.5M88.5 21.7l0.3 -1.3M25.3 72.4l0.1 -0.7M-1.3 0.7l0.2 -2.2M66.7 14.6l0.6 -2.5M100.6 5.1l0.2 -1.9M4.4 38.6l-1.1 -3.0M83.8 32.7l0.2 -2.9M44.0 66.6l0.3 -2.5M60.0 56.9l-0.2 -3.3M59.7 15.9l1.7 -2.8M45.3 16.4l0.7 -2.3M96.2 91.7l0.6 -1.9M93.1 15.3l-0.6 -2.5M3.4 22.7l1.0 -2.6M38.8 51.5l0.3 -1.8M94.6 58.4l-0.0 -3.1M91.6 88.2l1.4 -2.7M11.7 0.2l0.2 -0.9M17.3 16.5l0.1 -2.8M14.3 2.9l0.2 -2.0M27.0 60.7l-0.0 -2.2M23.6 45.5l0.9 -3.1M76.2 85.1l0.1 -1.2M59.0 60.8l0.4 -1.6M18.2 57.2l0.0 -1.1M98.0 82.2l-0.1 -2.4" stroke="#a0acd8" stroke-width="1.0" stroke-linecap="round" fill="none"/>
<path d="M12.7 47.5l-0.1 -1.3M78.3 40.7l0.2 -1.5M65.4 90.0l0.2 -1.8M42.7 36.5l0.2 -0.7M20.1 33.7l0.8 -1.9M56.6 5.1l0.3 -1.1M60.3 21.4l0.3 -2.6M35.6 49.6l0.9 -1.8M73.0 38.3l0.5 -3.3M12.9 59.1l0.9 -2.4M21.1 97.8l0.6 -1.6M67.0 84.8l-0.1 -0.9M3.5 66.1l-0.1 -2.8M55.6 67.4l-0.1 -2.0M19.8 30.9l0.5 -1.7M5.7 54.3l0.3 -2.9M106.9 21.5l0.3 -2.2M43.7 2.2l0.1 -0.6M97.3 24.2l0.1 -1.7M38.9 70.7l0.5 -2.4M61.7 34.5l0.4 -1.4M100.9 88.0l0.0 -0.7M67.7 80.4l0.0 -1.0M33.9 40.0l0.8 -1.0M99.6 94.8l0.1 -2.8M96.8 69.1l0.2 -1.6M70.2 82.8l0.1 -2.4M69.3 8.5l0.2 -1.2" stroke="#b8c0e0" stroke-width="1.5" stroke-linecap="round" fill="none"/>
<path d="M30.0 36.2l0.3 -1.7M42.8 56.9l0.4 -1.4M57.3 80.4l0.2 -2.2M57.1 65.9l0.3 -2.7M64.1 51.4l0.6 -3.3" stroke="#8a6478" stroke-width="1.5" stroke-linecap="round" fill="none"/>
<path d="M81.1 64.1l0.4 -1.9M105.2 42.3l0.2 -3.4M41.6 12.9l-0.1 -1.1M66.3 69.0l0.3 -1.5" stroke="#8a6478" stroke-width="1.25" stroke-linecap="round" fill="none"/>
<path d="M98.1 100.2l0.0 -1.8M79.4 46.7l0.1 -1.3M34.3 22.5l-0.0 -1.9M79.8 91.2l0.8 -2.4M84.7 19.4l0.9 -2.7M93.1 35.6l-0.3 -2.8M65.2 65.5l0.3 -2.3M44.6 30.7l0.2 -2.2M83.9 96.3l0.1 -3.0M77.1 27.0l-0.3 -2.9M3.0 46.1l0.0 -0.8M67.1 13.8l0.4 -3.3M45.6 97.4l0.4 -1.0M69.8 19.3l-0.1 -3.4M48.6 96.2l0.9 -2.2M98.5 70.5l0.8 -3.1M9.0 49.5l0.6 -1.2M53.5 49.7l0.1 -1.8M57.7 20.6l0.0 -1.6" stroke="#a0acd8" stroke-width="1.5" stroke-linecap="round" fill="none"/>
<path d="M55.7 68.0l0.2 -0.8M76.4 16.9l0.5 -3.1M80.3 88.7l-0.0 -1.8M3.9 93.0l0.1 -0.8M70.8 13.9l0.7 -2.0M86.5 46.9l1.4 -3.0M22.9 41.2l1.0 -2.6M10.0 48.2l-0.7 -1.9M63.0 6.2l0.3 -2.5M24.8 34.4l0.2 -0.6M35.2 31.2l0.2 -2.0M80.7 64.6l0.4 -2.3M107.7 52.4l1.7 -2.8M40.7 37.5l0.9 -2.7M27.3 42.9l0.6 -2.9M55.4 6.9l0.2 -1.3M36.6 14.6l0.3 -2.5M101.5 90.8l0.1 -2.9M102.0 82.7l0.6 -3.2M42.2 50.5l-0.1 -1.2M55.3 77.5l0.3 -1.0M94.0 68.4l0.8 -1.9M90.5 2.1l0.2 -3.0M46.6 83.2l0.4 -2.0M61.9 20.3l-0.0 -2.9M62.6 52.5l-0.2 -1.4" stroke="#7080b8" stroke-width="1.5" stroke-linecap="round" fill="none"/>
<path d="M78.9 100.3l0.5 -1.5M31.8 41.1l0.0 -1.8M71.1 74.1l0.4 -1.8M2.0 93.2l0.0 -0.8M4.3 89.8l0.4 -2.1M61.2 74.6l1.2 -3.0M54.8 12.7l0.4 -1.7M93.3 94.1l0.1 -0.7M68.0 85.0l0.2 -2.5M63.1 56.6l-0.1 -0.8M5.9 59.2l0.1 -0.6M15.7 43.8l0.7 -3.0M6.4 72.7l-0.0 -1.6M60.9 10.4l-0.1 -1.2M91.3 78.9l0.3 -1.0M64.9 98.4l0.1 -0.6M56.6 64.7l-0.6 -3.2M104.8 7.2l0.4 -1.1M26.4 0.8l-0.1 -2.4M45.5 96.3l0.1 -2.1M90.2 63.9l0.6 -2.5M3.8 97.9l0.8 -2.7M35.7 48.5l1.0 -2.1M28.8 1.8l0.2 -0.8M103.6 100.6l0.4 -1.1M88.7 21.8l0.6 -3.1M74.2 0.2l0.5 -1.1M13.5 29.9l0.1 -0.8M90.7 60.5l0.2 -2.4M71.1 75.3l0.5 -2.4M58.0 42.2l0.8 -2.2M92.1 48.6l-0.0 -2.9" stroke="#b8c0e0" stroke-width="1.0" stroke-linecap="round" fill="none"/>
<path d="M65.8 69.1l0.1 -1.1M52.1 98.0l0.3 -1.3M-0.4 64.8l0.1 -1.7M15.4 92.5l0.5 -1.3M99.8 70.5l-0.1 -1.3M75.5 57.0l-0.1 -1.6M78.7 43.8l0.2 -2.1M63.9 59.8l0.3 -1.7M40.8 43.1l0.8 -1.9M87.8 47.0l0.1 -2.8M27.2 5.1l0.5 -1.0M7.5 51.3l0.1 -0.8M72.2 80.0l-0.0 -1.8M38.2 65.9l0.0 -3.4" stroke="#c8b8b8" stroke-width="0.8" stroke-linecap="round" fill="none"/>
<path d="M9.5 58.7l-0.2 -3.2M66.8 65.0l0.1 -1.6M15.2 5.2l1.0 -3.2" stroke="#8a6478" stroke-width="1.0" stroke-linecap="round" fill="none"/>
<path d="M0.5 71.8l0.1 -1.0M59.1 -1.4l0.4 -2.6" stroke="#8a6478" stroke-width="0.8" stroke-linecap="round" fill="none"/>
</g></svg>
<svg x="132.2" y="238.9" width="105.6" height="98.6" viewBox="0 0 105.6 98.6" overflow="hidden">
<rect width="105.6" height="98.6" fill="#f2f3f7"/>
<filter id="s8"><feGaussianBlur stdDeviation="0.3"/></filter><g filter="url(#s8)">
<path d="M22.8 96.7l0.2 -0.9M48.2 22.0l0.4 -1.3M85.0 37.8l1.2 -2.1M3.6 55.0l-0.0 -2.5M56.4 79.9l0.5 -2.6M64.4 90.5l-0.2 -1.9M78.9 64.1l-0.1 -1.1M14.4 88.7l0.1 -1.5M85.0 53.9l0.6 -2.0M10.3 11.2l-0.4 -2.6M-1.6 79.4l0.2 -1.5M58.7 6.2l0.1 -2.0M89.4 21.1l-0.2 -2.1M7.9 77.2l-0.2 -1.7M22.1 55.3l-0.0 -1.9M-1.5 74.9l0.1 -0.6M77.2 57.7l0.6 -1.6M24.1 84.3l1.0 -2.5M22.0 1.5l0.5 -1.9M3.9 11.4l0.3 -1.7M9.8 18.9l0.4 -2.4M0.4 39.5l0.4 -1.3M1.8 51.2l-0.1 -2.4M4.8 74.2l0.4 -1.2M93.2 72.4l1.1 -2.6M88.1 21.2l0.1 -1.1M106.3 66.7l-0.1 -2.4M39.5 51.7l0.1 -0.6" stroke="#b8a8b0" stroke-width="1.2" stroke-linecap="round" fill="none"/>
<path d="M53.5 39.1l0.3 -1.6M76.6 1.5l0.4 -2.3M93.8 53.8l0.2 -1.5M43.6 1.0l0.9 -2.3M48.2 6.1l-0.2 -0.5M-1.5 29.8l-0.0 -2.7M31.6 80.9l0.5 -1.8M91.6 33.2l0.9 -2.2M77.2 54.5l0.7 -1.5M26.3 11.8l0.2 -1.0M59.1 29.5l-0.0 -1.6M19.2 0.3l0.2 -0.6M88.4 1.4l0.4 -2.3M101.6 70.2l-0.1 -1.1M49.9 47.5l1.2 -2.7M69.5 94.7l0.3 -1.3M73.9 77.6l0.2 -1.6M43.2 57.5l0.3 -1.7M20.5 67.1l-0.0 -0.7M87.3 51.5l0.2 -2.7M14.3 18.4l0.1 -0.5M19.0 49.8l0.2 -2.8M105.2 29.3l0.5 -2.1M33.9 41.9l0.1 -0.5M76.2 20.7l0.5 -1.4M0.9 95.0l0.0 -1.6" stroke="#8c5a54" stroke-width="0.9" stroke-linecap="round" fill="none"/>
<path d="M52.3 17.7l0.1 -0.6M15.6 10.0l0.1 -1.3M69.0 10.7l0.1 -0.5M63.8 44.8l0.0 -1.9M90.1 92.6l0.3 -1.3M11.6 16.9l0.3 -1.2M60.7 57.8l0.5 -2.2M18.9 4.2l0.7 -1.7M90.0 34.5l0.1 -0.7M75.4 53.2l0.3 -2.7M78.6 37.1l0.3 -2.0M34.6 100.1l0.2 -0.6M55.0 39.1l0.7 -2.2M98.9 94.5l0.3 -1.1M45.4 44.6l-0.0 -2.0M75.0 55.9l-0.3 -2.7M78.5 47.4l0.4 -2.8M35.6 5.2l0.7 -1.5M96.6 4.2l-0.0 -0.9M14.4 88.7l0.8 -1.8M65.4 42.7l0.2 -1.8M100.9 1.1l0.5 -1.0M48.1 30.0l0.5 -2.3M67.7 20.9l0.8 -1.2M13.7 97.0l0.1 -1.9M17.6 3.8l0.4 -1.3M37.3 95.6l0.2 -1.6M76.7 59.2l0.1 -1.0M95.1 6.2l0.5 -1.4M61.6 9.9l0.1 -0.8M91.5 48.7l-0.4 -1.6M92.7 26.0l0.2 -0.6M100.4 99.1l0.3 -1.0M104.4 33.6l0.0 -0.6M2.3 73.7l0.2 -0.4M42.9 -0.7l0.8 -2.5M44.0 76.7l0.3 -1.4M37.1 56.0l-0.0 -1.5M89.7 46.9l0.8 -2.7M86.7 30.4l0.1 -0.8M84.0 14.7l0.0 -2.0M42.7 1.8l0.3 -1.2M21.5 86.5l-0.0 -0.4" stroke="#80483f" stroke-width="1.8" stroke-linecap="round" fill="none"/>
<path d="M42.7 90.6l0.4 -2.3M12.5 31.5l0.2 -0.8M24.2 91.0l-0.3 -1.3M5.7 23.3l0.3 -1.5M105.1 89.2l0.4 -1.6M83.6 36.2l0.1 -1.4M4.8 91.4l1.1 -2.8M59.9 42.6l0.0 -1.5M78.2 42.2l0.4 -2.4M47.8 18.6l0.2 -2.5M84.0 52.2l-0.2 -2.4M4.6 16.6l0.0 -1.7M55.0 9.5l1.0 -2.6M72.1 -1.2l0.7 -2.4M47.5 46.2l-0.0 -0.4M22.6 73.7l0.2 -2.6" stroke="#a88890" stroke-width="1.8" stroke-linecap="round" fill="none"/>
<path d="M8.6 81.5l-0.1 -2.0M70.0 7.1l-0.1 -1.3M86.2 89.0l0.2 -1.2M7.3 53.1l0.4 -1.6M93.4 17.2l0.2 -0.7M64.1 37.2l0.3 -0.6M78.1 84.4l-0.2 -1.5M27.2 46.1l0.3 -2.8M104.5 47.0l-0.2 -1.9M85.3 56.7l0.1 -0.4M55.0 92.0l1.1 -2.3M83.0 13.2l-0.1 -2.7M68.9 2.7l0.4 -1.1M84.1 57.2l0.3 -1.0M72.2 79.9l0.0 -2.8M73.5 61.0l0.0 -1.0M10.7 100.4l0.3 -2.0" stroke="#5e302c" stroke-width="1.8" stroke-linecap="round" fill="none"/>
<path d="M73.8 49.1l0.6 -1.8M46.4 6.6l0.1 -1.7M39.1 0.8l-0.0 -2.6M64.1 39.7l0.2 -2.2M77.2 59.3l0.3 -1.2M106.4 13.4l0.6 -2.6M73.9 91.5l-0.1 -0.6M33.1 92.6l-0.2 -0.7M30.7 70.8l0.1 -2.7M73.3 56.8l0.6 -2.8M18.4 38.4l0.3 -1.3M59.5 83.7l0.0 -2.6M30.5 69.9l0.1 -0.7M27.1 90.3l0.6 -2.0M80.6 5.3l0.5 -2.5M50.9 75.4l-0.2 -1.7M39.1 75.0l-0.4 -2.8M103.3 17.1l0.1 -1.0M82.8 51.9l0.7 -2.0M47.4 3.2l0.4 -1.2M99.5 97.9l0.3 -0.7M8.6 21.2l0.0 -1.5M41.2 -0.6l0.4 -0.9M105.1 17.7l0.5 -1.5M0.8 -2.0l0.1 -1.1M81.5 38.4l-0.5 -1.2M95.9 99.1l0.3 -0.9M2.8 69.9l-0.6 -2.5M93.3 52.8l-0.0 -2.2M89.3 55.6l-0.2 -1.2" stroke="#703a34" stroke-width="1.2" stroke-linecap="round" fill="none"/>
<path d="M5.1 95.1l0.8 -2.1M88.5 25.6l0.1 -1.0M83.9 3.9l1.2 -2.6M34.1 28.1l-0.1 -2.0M19.2 23.6l0.0 -0.5M19.0 9.6l0.5 -1.1M43.9 53.0l0.1 -1.3M43.0 25.6l0.1 -0.6M23.8 23.5l0.1 -0.8M-0.0 38.6l0.0 -0.6M93.3 64.4l0.3 -1.2M68.4 73.3l0.8 -2.9M81.0 91.1l0.2 -0.6M34.8 5.9l0.5 -2.5M77.5 11.4l-0.0 -1.8M23.6 77.0l0.2 -2.8M10.9 24.7l0.2 -0.8M54.7 62.0l0.6 -1.8M14.4 19.7l-0.2 -2.0M61.2 16.5l0.2 -2.4M74.1 2.8l0.6 -1.7M103.2 79.3l-0.5 -1.9M64.2 24.6l-0.3 -2.1M89.8 31.6l-0.1 -0.5M104.1 47.7l-0.1 -2.0M47.1 86.3l0.5 -2.1M12.5 15.3l0.8 -2.9" stroke="#8c5a54" stroke-width="1.8" stroke-linecap="round" fill="none"/>
<path d="M62.0 43.7l1.1 -2.4M15.3 59.7l1.0 -2.0M13.0 60.6l0.1 -0.6M4.7 96.4l0.0 -1.7M26.6 84.3l-0.2 -1.4M102.3 66.2l0.6 -2.8M15.7 3.7l0.5 -1.0M90.8 68.3l-0.1 -2.5M102.1 49.3l0.2 -1.9M51.7 96.3l0.3 -0.8M2.7 57.4l0.0 -2.4M77.7 78.2l0.3 -1.3M16.0 3.7l0.4 -2.0M33.5 85.6l-0.0 -1.4M-1.6 51.9l0.1 -2.0M78.8 74.5l0.3 -0.9M23.4 73.1l0.1 -1.1M85.7 25.9l0.1 -0.6M23.0 28.8l0.4 -2.2M69.4 69.2l0.6 -1.3M15.3 42.1l0.1 -0.7M77.9 27.0l0.3 -2.1M81.4 49.5l0.2 -0.7M29.0 98.0l0.0 -1.0M7.8 19.3l0.4 -0.9M59.9 19.7l0.8 -2.2M19.2 35.5l0.3 -1.9M89.8 26.1l0.2 -1.0M-0.5 55.8l0.1 -1.1M36.1 80.0l0.0 -1.7" stroke="#8c5a54" stroke-width="1.5" stroke-linecap="round" fill="none"/>
<path d="M19.7 13.4l0.1 -1.7M7.0 92.9l0.2 -2.3M92.0 94.6l0.1 -0.7M89.0 72.3l0.3 -2.8M41.8 82.1l-0.3 -0.8M18.3 40.0l0.0 -2.3M28.7 65.0l0.1 -0.9M76.2 56.6l-0.5 -2.3M59.6 69.7l0.1 -1.2M8.5 36.1l0.1 -1.2M76.9 12.6l0.0 -2.3M56.3 -1.8l0.1 -1.7M47.0 16.1l0.1 -1.8M59.9 21.2l0.2 -2.4M56.8 16.6l-0.1 -1.8M49.7 69.7l0.2 -0.9M3.7 33.7l0.3 -2.7M6.5 22.8l0.6 -2.3M45.0 22.9l0.0 -0.6M7.9 67.8l0.2 -0.5M103.3 44.4l0.1 -2.6M105.7 48.7l-0.2 -2.1M89.4 23.3l-0.1 -1.2M39.4 78.2l0.2 -2.0M100.3 77.1l0.6 -2.6M107.4 88.6l0.0 -0.5M56.7 89.0l1.1 -2.2M64.0 58.6l0.4 -1.1M8.4 -1.6l0.4 -1.0M16.6 -1.5l0.3 -1.2M66.5 34.4l0.6 -2.5M2.3 71.2l0.1 -1.9M19.4 70.0l1.0 -2.6M103.7 54.4l0.1 -0.9" stroke="#703a34" stroke-width="1.5" stroke-linecap="round" fill="none"/>
<path d="M97.0 50.1l0.3 -1.3M38.1 83.0l0.0 -2.3M3.5 40.0l0.2 -3.0M79.3 66.2l0.5 -2.1M61.5 33.2l0.1 -2.3M73.2 1.0l0.3 -1.5M92.5 54.7l0.3 -1.0M59.8 7.0l0.2 -0.9M87.4 95.3l0.2 -0.9M-1.2 3.9l0.5 -1.9M55.3 80.3l0.1 -2.9M79.8 33.4l0.7 -2.5M60.1 90.4l0.2 -1.4M80.8 83.5l0.7 -2.1M42.1 27.7l0.5 -2.7M87.7 50.0l0.1 -2.8M19.8 40.9l0.1 -1.7M21.6 79.7l0.1 -2.7M55.1 33.9l0.1 -1.4M49.4 73.0l-0.2 -2.2M51.9 47.4l0.1 -0.5M104.2 88.2l0.4 -1.8M66.2 49.0l0.2 -0.9M92.1 42.4l0.1 -0.8M28.3 9.0l1.0 -2.8M67.4 77.2l0.9 -2.5M37.7 27.4l0.3 -1.4" stroke="#80483f" stroke-width="1.2" stroke-linecap="round" fill="none"/>
<path d="M1.7 24.1l0.2 -2.6M79.6 80.8l-0.3 -1.7M-0.8 81.4l0.3 -1.2M4.0 28.1l0.6 -2.5M51.1 40.3l0.4 -1.2M60.3 22.4l-0.1 -1.1M64.6 91.7l0.2 -1.0M83.4 62.4l0.0 -0.8M74.3 56.1l-0.2 -1.3M38.3 92.3l0.0 -2.7M72.2 27.9l-0.1 -2.9M102.0 47.8l-0.0 -0.8M17.1 22.0l-0.2 -2.4M96.6 8.4l0.3 -1.4M48.1 78.5l0.2 -2.2M80.7 94.8l0.3 -1.7M72.5 27.0l0.1 -0.8M10.6 45.7l0.8 -2.6M99.4 97.9l0.2 -2.2M30.7 82.2l1.3 -1.3M67.9 74.4l1.3 -2.5M47.8 45.4l0.3 -1.7M81.3 61.7l-0.2 -2.4M74.5 35.1l0.5 -1.1" stroke="#b8a8b0" stroke-width="1.5" stroke-linecap="round" fill="none"/>
<path d="M17.2 38.7l0.5 -2.8M81.2 99.6l0.1 -0.9M93.3 67.9l0.3 -1.6M52.5 32.3l0.2 -1.2M82.8 55.0l0.2 -1.7M47.2 86.8l0.1 -2.2M27.3 66.4l0.1 -2.1M32.8 32.1l0.2 -0.7M51.9 51.2l-0.1 -1.9M36.1 61.5l0.5 -1.3M37.4 92.3l0.3 -1.2M34.1 98.9l0.6 -1.7M17.9 44.6l0.1 -2.3M55.5 92.1l-0.1 -2.1M60.8 55.4l0.2 -1.5M97.4 98.7l0.3 -2.0M32.2 50.2l0.1 -2.5M81.5 7.1l0.2 -2.5M69.3 43.6l0.8 -1.3M103.2 71.0l0.3 -2.2M85.5 59.9l-0.5 -2.8M68.5 7.6l1.3 -2.5M19.7 61.5l0.4 -2.3M11.4 59.4l0.1 -1.6" stroke="#7a4a4c" stroke-width="1.2" stroke-linecap="round" fill="none"/>
<path d="M45.7 21.8l0.1 -1.9M14.8 94.1l0.4 -2.2M7.9 93.3l0.2 -2.5M97.5 8.8l-0.2 -1.5M44.5 9.4l0.1 -1.6M5.3 83.0l0.1 -0.9M57.7 28.4l0.3 -2.2M7.2 54.5l0.5 -2.9M100.4 9.9l-0.0 -0.4M102.7 64.3l0.0 -0.9M102.6 32.0l0.0 -0.4M41.7 87.1l0.2 -1.9M79.9 21.7l0.5 -2.2M54.1 62.9l0.6 -1.4M42.1 85.2l0.3 -1.1M19.0 7.6l-0.6 -2.2M87.8 66.9l0.1 -1.4M106.2 98.6l0.2 -2.1M60.5 90.1l0.3 -0.9M33.2 70.6l0.2 -2.2M100.0 88.5l0.4 -2.1M2.7 16.6l0.1 -1.6M18.1 20.1l0.1 -2.8M1.4 36.1l-0.1 -1.3M30.2 72.5l0.2 -0.9M83.9 24.3l-0.0 -0.9M82.9 11.9l1.0 -2.6M33.8 47.5l0.5 -1.5M100.6 38.5l0.2 -0.7M2.9 37.6l0.6 -2.5M66.6 26.2l0.5 -2.2M39.2 33.7l0.5 -2.0M54.2 96.3l0.4 -2.3M81.2 45.1l0.4 -2.9M82.2 20.0l0.3 -1.5M35.5 32.6l0.1 -2.0M30.7 11.1l-0.2 -1.1" stroke="#703a34" stroke-width="1.8" stroke-linecap="round" fill="none"/>
<path d="M13.4 37.6l0.3 -2.3M66.3 54.0l0.8 -1.5M5.3 49.2l0.3 -0.6M48.4 81.6l-0.0 -1.7M97.7 0.7l0.0 -1.7M107.1 27.9l0.6 -1.2M58.1 24.4l-0.0 -0.6M68.8 88.2l0.1 -0.5M30.9 31.2l0.3 -1.3M77.7 3.7l0.3 -1.1M18.7 45.0l0.2 -0.4M95.7 43.6l-0.1 -2.2M99.8 3.4l1.1 -2.1M40.8 60.5l0.2 -3.0M55.4 21.9l0.2 -0.5M24.1 8.1l0.5 -1.2M16.3 25.8l0.1 -2.8M8.8 7.9l0.7 -2.3M30.1 46.1l0.3 -1.7M82.8 81.6l0.6 -2.5M85.7 5.6l1.5 -2.0M20.1 4.1l0.2 -0.9" stroke="#5e302c" stroke-width="0.9" stroke-linecap="round" fill="none"/>
<path d="M103.8 -1.7l0.2 -0.9M102.1 47.0l0.3 -1.9M4.1 58.6l0.2 -1.3M55.1 28.8l0.2 -1.0M72.5 42.0l0.4 -1.5M7.9 86.7l0.6 -2.3M70.0 49.2l0.4 -2.4M106.7 29.2l0.1 -2.5M33.2 96.2l0.1 -0.6M104.9 45.3l0.1 -1.1M26.1 23.5l-0.0 -1.2M54.9 96.7l-0.2 -2.6M7.7 9.0l0.2 -2.8M17.3 54.0l-0.2 -1.3M86.5 44.0l0.7 -1.9M79.1 72.0l0.4 -1.1M23.4 -0.1l-0.1 -1.3M49.1 64.9l0.4 -1.6M72.5 31.9l0.2 -0.7M58.6 45.4l0.0 -0.9M66.8 -0.7l0.2 -1.1M32.0 88.3l0.4 -1.3M78.6 100.2l0.2 -0.6M93.5 86.9l0.2 -3.0M79.1 96.7l-0.1 -1.4M11.8 67.2l0.7 -1.2M34.5 0.7l1.1 -1.4M80.0 28.9l-0.2 -1.0" stroke="#7a4a4c" stroke-width="1.8" stroke-linecap="round" fill="none"/>
<path d="M61.6 44.4l0.4 -2.2M14.9 4.6l0.3 -2.0M104.2 29.0l-0.2 -1.3M2.5 46.2l0.4 -2.0M53.4 55.6l0.2 -1.0M12.6 28.4l0.1 -1.0M56.5 49.5l-0.0 -1.3M97.4 75.5l0.5 -1.1M21.2 37.6l-0.0 -0.4M65.0 40.4l-0.2 -1.0M52.5 79.2l0.5 -2.4M8.5 29.6l0.0 -2.0M17.5 72.4l0.6 -1.3M35.9 76.5l0.3 -0.4M61.9 15.2l0.1 -0.4M25.0 33.0l0.4 -1.8M105.0 55.5l0.2 -2.5M24.5 66.5l0.3 -1.3" stroke="#8c5a54" stroke-width="1.2" stroke-linecap="round" fill="none"/>
<path d="M10.2 19.7l0.3 -2.2M37.2 31.5l0.1 -2.8M18.0 43.3l0.0 -2.5M42.1 28.5l0.2 -0.4M62.9 47.1l0.4 -1.9M14.6 38.7l0.6 -1.6M41.4 16.5l0.1 -0.6M73.1 41.1l0.4 -2.7M76.5 84.0l0.4 -2.8M78.1 81.1l0.0 -0.8M98.4 16.2l0.6 -2.4M14.2 2.3l0.3 -2.8M59.4 100.2l1.2 -2.1M106.7 82.2l-0.0 -0.7M2.2 40.0l0.2 -0.9M0.3 75.5l0.8 -2.1M46.0 36.9l-0.1 -2.2M58.8 57.3l0.1 -1.9M42.5 41.4l-0.0 -2.8M26.7 90.9l0.0 -0.5M40.5 14.0l0.1 -1.4M68.5 31.6l0.2 -2.3M38.0 51.2l-0.0 -0.5M64.1 46.7l-0.1 -1.0M50.2 84.1l0.0 -0.5" stroke="#9098b8" stroke-width="0.9" stroke-linecap="round" fill="none"/>
<path d="M0.5 35.4l0.7 -1.6M45.6 14.1l0.1 -0.8M6.1 16.7l-0.0 -0.9M42.8 -1.8l0.6 -2.3M85.1 84.0l0.3 -2.0M52.3 54.9l0.0 -2.9M91.0 60.5l0.5 -2.1M7.4 18.0l0.8 -2.4M45.5 17.7l0.4 -1.2M106.7 0.9l0.3 -1.7M48.2 31.4l0.0 -1.9M26.1 6.7l0.8 -2.9M-0.7 79.2l0.0 -1.7M93.8 25.0l0.6 -2.9M8.9 2.1l0.5 -2.6M1.1 53.8l0.1 -2.5M9.3 4.7l0.8 -2.8M91.7 0.2l0.4 -1.7M69.7 9.6l0.4 -1.2M71.4 55.0l0.1 -0.8M0.4 88.5l0.2 -2.1M49.9 2.4l0.1 -0.5M50.1 56.9l0.8 -2.9M105.5 7.1l0.1 -1.5M92.8 68.9l0.3 -2.0" stroke="#9098b8" stroke-width="1.8" stroke-linecap="round" fill="none"/>
<path d="M87.8 56.4l0.1 -1.2M30.4 84.8l-0.3 -1.6M89.9 83.8l-0.2 -0.9M37.3 6.5l0.2 -1.7M99.4 39.1l0.6 -1.3M31.5 23.6l0.5 -1.3M75.1 80.5l-0.1 -0.8M60.2 12.8l0.0 -1.1M97.2 34.7l-0.0 -2.1M89.0 5.4l-0.0 -0.8M106.2 22.6l1.3 -1.7M61.0 -1.5l0.7 -1.5M61.0 19.5l0.7 -2.5M83.1 62.1l0.4 -2.3M10.9 67.6l0.2 -2.0M30.1 53.4l0.7 -1.7M48.7 25.1l0.2 -1.8M63.7 56.6l0.1 -0.9M82.9 15.6l0.2 -0.9M30.1 75.8l0.9 -2.0M102.3 96.9l0.2 -2.6M26.7 46.6l0.6 -2.8" stroke="#5e302c" stroke-width="1.2" stroke-linecap="round" fill="none"/>
<path d="M55.0 18.1l0.7 -1.9M47.1 66.5l0.4 -1.4M90.5 52.2l0.1 -1.1M89.3 84.1l0.6 -1.6M103.7 73.6l-0.5 -2.0M18.0 14.3l0.4 -1.3M36.6 38.0l0.5 -2.1M4.8 21.3l0.2 -0.5M58.8 8.6l0.8 -2.3M43.5 20.1l0.3 -1.7M24.5 33.9l0.3 -1.6M14.9 42.9l0.2 -1.8M91.7 42.6l-0.1 -1.8M20.8 59.9l0.2 -2.2M59.1 12.5l0.4 -1.9M-0.4 82.5l0.4 -2.0M18.2 16.4l0.2 -1.4M17.2 7.8l-0.1 -1.0" stroke="#7a4a4c" stroke-width="1.5" stroke-linecap="round" fill="none"/>
<path d="M105.6 20.9l-0.0 -0.6M61.4 90.0l0.7 -2.1M54.9 60.0l0.1 -1.1M99.1 8.2l0.3 -1.1M79.8 67.8l0.3 -1.6M26.4 89.2l0.3 -1.5M84.0 6.3l-0.0 -1.8M45.4 95.8l1.0 -1.5M33.5 34.8l0.3 -1.8M82.5 16.2l0.3 -1.2M22.4 51.3l0.6 -2.3M77.9 10.7l0.3 -1.9M102.1 69.7l0.3 -1.6M67.3 20.2l0.3 -1.6M41.9 73.5l0.7 -2.7M11.3 23.6l0.2 -2.4M46.7 47.5l0.1 -2.1M79.9 72.6l0.1 -1.5M54.1 12.9l-0.2 -2.3M65.0 89.1l0.2 -2.1M83.8 19.9l0.4 -1.8M26.0 47.0l0.6 -1.8M27.8 9.0l0.1 -1.4" stroke="#5e302c" stroke-width="1.5" stroke-linecap="round" fill="none"/>
<path d="M62.1 92.3l-0.1 -1.1M55.4 58.5l0.6 -1.6M-1.4 -0.3l0.0 -1.9M2.6 -1.3l0.2 -2.7M53.9 0.7l0.6 -0.9M62.7 58.6l-0.3 -1.4M28.0 75.7l0.3 -1.0M84.6 73.3l0.4 -2.3M66.3 35.6l0.2 -1.8M37.1 87.0l0.1 -0.5M35.8 72.8l0.0 -0.7M87.2 41.6l0.0 -1.3M31.4 80.4l0.9 -2.0M84.0 80.1l0.6 -1.3M33.2 15.2l-0.0 -0.4M103.9 51.9l0.2 -1.2" stroke="#a88890" stroke-width="1.2" stroke-linecap="round" fill="none"/>
<path d="M100.6 72.7l-0.2 -2.1M44.0 10.0l0.8 -2.9M49.4 20.7l0.4 -1.9M64.6 49.3l0.4 -2.2M22.8 3.9l-0.4 -2.7M40.6 30.5l0.3 -1.8M36.5 25.8l0.1 -1.6M88.9 33.0l0.5 -1.4M65.8 34.0l0.0 -1.2M39.6 70.4l1.4 -1.8M106.0 45.5l0.8 -2.8M22.2 98.9l0.5 -1.8M44.7 95.9l1.1 -2.3M13.6 85.2l0.8 -2.3M58.7 98.2l-0.6 -2.3M28.3 2.2l-0.3 -2.4M73.7 18.6l0.5 -2.5M96.3 78.4l0.0 -1.6M1.3 24.6l0.1 -0.9M106.2 87.0l0.4 -1.8M46.3 41.2l0.1 -1.1M66.3 -0.8l0.9 -2.7M12.3 68.2l-0.2 -2.6M49.7 67.4l-0.1 -0.7M24.7 75.3l0.7 -1.3M22.1 31.0l0.7 -0.9M21.4 74.0l0.0 -0.7M102.6 51.3l0.6 -1.3M78.4 85.7l0.7 -2.3M75.9 61.3l1.0 -1.9" stroke="#80483f" stroke-width="1.5" stroke-linecap="round" fill="none"/>
<path d="M88.2 50.1l0.4 -1.0M38.4 99.0l0.1 -2.9M4.0 43.6l0.2 -1.8M94.1 66.6l-0.2 -1.9M15.5 39.5l-0.1 -2.7M13.1 87.9l-0.3 -2.0M60.8 82.6l0.1 -0.9M84.9 66.2l0.3 -1.5M81.1 9.5l0.1 -0.5M82.8 94.2l0.1 -1.9M-0.6 20.0l0.7 -2.3M33.9 32.5l0.1 -0.7M20.3 73.5l0.0 -1.3M17.3 18.8l-0.0 -2.7M24.5 10.7l-0.1 -1.2M55.8 93.0l0.2 -1.8M71.0 44.1l-0.1 -1.5M101.2 49.5l0.3 -0.8M66.2 27.9l0.4 -1.4M4.1 14.6l0.0 -0.6M47.7 67.8l-0.0 -2.0M101.6 37.9l-0.1 -1.2M106.6 37.4l0.3 -2.1M68.7 68.9l0.7 -2.9M16.3 68.0l0.2 -0.9M34.6 65.6l0.0 -1.1M88.0 2.7l-0.0 -0.5M49.3 26.7l0.5 -2.5M12.9 13.0l0.4 -2.7M32.0 15.4l-0.3 -2.3M26.0 66.6l0.7 -2.2M92.4 26.5l-0.0 -2.8M76.2 53.7l0.3 -1.5M103.8 64.0l0.1 -0.6M59.1 58.5l-0.1 -0.7M65.4 13.5l0.6 -1.9M78.7 39.9l0.3 -2.9M42.8 60.3l0.5 -1.7M58.0 45.5l0.2 -2.7M15.3 24.3l0.2 -2.0M0.3 58.9l0.2 -2.3M5.8 60.0l0.1 -2.7M102.8 97.6l0.3 -1.0M60.7 46.0l0.1 -1.9M9.7 81.2l0.2 -2.0M86.2 45.6l-0.2 -2.9M36.9 69.4l0.2 -1.2M10.6 87.1l0.0 -2.2M14.5 11.5l-0.0 -0.5M58.9 44.3l0.8 -2.1M18.6 80.7l0.6 -1.9M93.2 16.2l-0.3 -1.4M35.9 89.5l0.0 -1.4" stroke="#80483f" stroke-width="0.9" stroke-linecap="round" fill="none"/>
<path d="M93.2 90.9l-0.1 -0.7M19.6 9.9l0.3 -1.5M18.8 54.2l0.2 -2.0M78.1 -0.4l0.4 -2.0M95.2 59.6l0.0 -0.8M-1.9 27.5l0.1 -1.1M47.2 74.0l-0.1 -1.1M52.1 28.2l0.3 -1.1M87.0 78.8l0.3 -2.0M87.9 0.1l0.6 -2.1M100.5 -1.8l-0.2 -1.4M82.1 95.2l0.0 -1.4M32.6 45.3l0.2 -0.7M95.8 100.5l0.2 -0.4M73.4 34.2l0.4 -2.1M10.3 53.9l-0.0 -1.0M57.9 6.9l-0.1 -2.2M49.7 76.8l0.3 -2.1M89.6 88.8l-0.1 -1.2M55.0 66.2l0.1 -2.7M106.1 95.1l0.4 -1.7M18.7 48.6l0.2 -1.2M70.2 91.3l0.1 -0.7M65.3 14.8l0.1 -2.3M59.8 4.1l0.4 -2.1M67.0 18.9l0.4 -2.7M84.0 11.3l0.2 -2.5M14.9 16.6l0.1 -1.3M85.6 86.6l0.3 -0.8M89.6 37.6l0.1 -0.5" stroke="#703a34" stroke-width="0.9" stroke-linecap="round" fill="none"/>
<path d="M84.7 83.7l1.3 -2.3M45.1 74.2l0.8 -2.2M76.6 98.7l0.3 -1.5M97.7 57.4l0.1 -0.4M78.1 12.1l0.4 -2.6M69.0 98.0l0.1 -1.0M31.6 16.9l0.1 -1.1M84.6 41.1l0.2 -0.8M95.5 59.9l0.2 -1.8M92.4 4.6l0.3 -2.0M66.5 38.8l0.4 -1.7M34.4 81.8l-0.3 -3.0M92.5 2.2l0.4 -1.5M31.5 43.5l0.1 -0.7M82.3 37.1l0.3 -2.1M65.5 16.3l-0.1 -2.5M51.7 58.5l0.6 -1.1M29.7 50.0l0.3 -2.4M44.2 55.2l-0.6 -1.9" stroke="#a88890" stroke-width="0.9" stroke-linecap="round" fill="none"/>
<path d="M78.7 47.1l0.2 -3.0M92.3 91.8l0.4 -2.3M55.6 95.6l0.4 -2.1M77.5 28.1l0.2 -1.1M6.4 2.4l0.0 -0.5M85.9 77.5l0.5 -1.4M16.6 16.9l0.7 -2.7M98.0 -0.3l0.4 -2.6M11.1 23.5l0.3 -2.1M41.4 49.4l0.2 -1.6M67.6 96.2l-0.0 -1.2M76.8 20.6l0.2 -1.8M104.6 87.2l0.4 -1.7M52.3 89.0l0.2 -0.6M20.4 27.1l0.3 -2.5M56.8 28.7l0.5 -1.3M36.2 32.8l0.2 -0.9M54.3 60.2l0.7 -2.0M80.6 84.8l0.0 -1.5M29.3 2.7l-0.0 -2.4M20.2 80.8l0.7 -2.6M35.8 40.1l0.2 -1.4M38.0 79.7l0.5 -2.3" stroke="#7a4a4c" stroke-width="0.9" stroke-linecap="round" fill="none"/>
<path d="M29.7 20.3l0.2 -2.4M32.1 13.1l0.2 -1.0M82.6 99.7l0.0 -0.8M12.2 46.2l0.1 -1.1M18.4 11.0l0.4 -2.0M106.2 13.9l0.5 -1.4M25.1 26.0l-0.2 -2.2M10.3 74.3l0.2 -1.1M96.2 18.8l-0.6 -2.7M29.7 1.1l0.1 -0.6M70.4 -0.1l0.3 -0.9M67.1 60.7l1.0 -2.8M8.8 13.0l0.2 -0.9M21.8 97.1l0.9 -2.8M24.2 88.4l-0.1 -3.0M63.1 2.9l0.2 -0.8M71.6 61.8l0.4 -1.6M1.1 66.8l0.9 -2.6M71.5 5.7l0.6 -2.1M29.8 82.0l0.3 -1.5M49.6 77.5l0.1 -0.6M3.5 87.1l0.2 -2.1M72.3 7.4l-0.7 -2.4M78.6 73.9l0.0 -0.6M30.7 34.6l0.2 -2.7" stroke="#b8a8b0" stroke-width="1.8" stroke-linecap="round" fill="none"/>
<path d="M88.7 44.1l0.6 -2.3M98.8 6.9l0.2 -1.7M49.2 39.2l0.3 -2.6M4.8 52.6l-0.1 -2.5M18.2 2.9l-0.0 -2.9M96.1 53.3l0.3 -2.2M51.2 70.1l-0.1 -2.3M91.5 5.1l0.1 -1.2M85.4 47.1l0.1 -1.0M90.0 40.3l0.8 -2.4M102.7 25.8l0.5 -2.9M69.3 29.4l0.1 -0.9M9.9 1.0l1.1 -2.5M30.3 88.0l-0.1 -2.5M3.3 67.2l0.6 -1.9M51.4 27.0l0.3 -2.7M19.8 41.4l0.4 -2.4M32.4 35.9l0.8 -2.4M67.4 20.9l0.0 -2.4M38.3 74.5l0.0 -0.6M12.9 14.6l0.1 -0.6M0.8 17.7l-0.1 -1.6M98.0 31.6l0.9 -1.6M27.4 58.8l0.0 -0.6M98.8 14.7l0.2 -1.1M74.1 6.7l0.7 -2.4M84.0 14.4l0.3 -2.2M82.7 78.0l0.1 -2.1M101.7 11.8l0.1 -0.4M83.9 42.0l0.4 -2.5M31.5 82.9l0.1 -1.4" stroke="#9098b8" stroke-width="1.2" stroke-linecap="round" fill="none"/>
<path d="M94.1 36.2l-0.1 -3.0M93.2 72.3l0.3 -0.7M82.9 98.3l0.2 -1.3M34.0 -0.2l0.5 -2.4M103.1 74.3l0.3 -2.0M60.7 14.4l0.3 -1.7M20.2 11.4l0.6 -1.2M-0.8 90.8l0.4 -2.1M58.5 24.4l0.0 -0.9M72.6 80.3l0.8 -2.7M80.1 3.0l0.1 -0.6M70.1 53.5l-0.2 -2.3M104.0 91.9l0.1 -0.7M-1.7 95.9l-0.3 -1.8M20.1 19.8l0.2 -1.1" stroke="#6a6890" stroke-width="0.9" stroke-linecap="round" fill="none"/>
<path d="M23.8 35.5l-0.1 -2.8M65.3 21.5l-0.7 -2.4M22.2 88.8l1.1 -2.7M80.1 31.3l0.6 -2.8M67.5 38.4l0.4 -1.9M91.3 70.6l0.6 -2.9M71.6 55.7l0.0 -0.5M14.5 79.3l0.1 -1.4M50.5 5.4l0.0 -1.6M105.7 60.0l0.2 -0.9" stroke="#6a6890" stroke-width="1.5" stroke-linecap="round" fill="none"/>
<path d="M17.0 12.3l0.5 -2.4M97.6 87.2l0.3 -2.0M82.9 5.4l0.7 -2.9M67.2 5.7l0.0 -1.3M-0.6 24.5l0.0 -0.5M3.5 32.4l0.1 -1.9M8.4 37.7l0.4 -1.5M36.3 2.4l-0.0 -0.6M52.2 24.2l0.1 -1.6M12.1 7.2l0.7 -2.0M15.4 29.3l0.1 -2.9M16.7 39.0l0.4 -2.9M68.2 61.5l0.9 -2.4M34.3 30.8l0.5 -2.5M20.9 16.0l0.1 -2.1M47.8 66.9l0.0 -2.4M23.4 22.9l0.2 -0.6M95.4 54.8l0.1 -1.1M19.6 59.9l-0.1 -1.2M38.3 1.7l0.0 -2.7M72.0 31.9l-0.1 -1.1M13.2 77.9l0.1 -0.9M11.9 47.2l0.5 -1.3M49.1 34.8l0.0 -0.8M48.7 71.7l0.7 -2.6M65.9 62.8l1.0 -2.4M15.1 54.6l0.1 -0.5M51.0 55.1l0.4 -1.2M2.3 96.8l0.4 -1.4M11.3 30.4l0.5 -2.6M11.9 74.1l0.2 -1.5M10.2 96.4l0.6 -2.3M61.3 79.9l0.3 -1.2" stroke="#9098b8" stroke-width="1.5" stroke-linecap="round" fill="none"/>
<path d="M10.9 67.6l0.4 -1.4M54.8 92.5l-0.1 -1.7M28.6 18.6l0.1 -2.8M76.5 46.5l-0.1 -2.0M43.9 -1.1l0.4 -1.4M38.0 68.1l1.2 -2.7M91.8 -1.3l-0.7 -1.8M39.0 5.5l0.5 -2.5M40.3 88.5l-0.1 -1.5" stroke="#6a6890" stroke-width="1.8" stroke-linecap="round" fill="none"/>
<path d="M25.4 98.9l0.6 -2.4M66.0 98.0l0.1 -0.8M8.8 71.4l0.7 -2.3M26.4 75.0l-0.3 -1.7M89.3 28.0l0.3 -2.3M68.1 87.7l0.3 -2.5M71.2 83.9l0.0 -0.7M61.1 48.5l0.6 -1.2M98.2 63.6l0.1 -2.7M0.2 30.8l0.1 -1.8M0.2 86.3l0.3 -2.6M76.7 23.1l0.2 -1.6" stroke="#a88890" stroke-width="1.5" stroke-linecap="round" fill="none"/>
<path d="M23.1 56.9l0.4 -1.3M28.8 48.0l0.1 -0.7M51.4 72.3l0.0 -1.3M16.3 88.9l0.2 -0.4M66.8 75.5l-0.2 -0.8M1.8 72.5l0.0 -0.8M29.4 28.2l-0.1 -2.2M36.1 -1.2l0.3 -1.7M16.0 20.8l0.3 -1.7M44.1 82.8l0.2 -2.1M81.6 61.6l0.1 -1.3M37.8 88.2l0.0 -2.7" stroke="#6a6890" stroke-width="1.2" stroke-linecap="round" fill="none"/>
<path d="M13.2 15.8l1.0 -1.6M18.4 46.6l0.2 -0.8M76.0 60.6l0.3 -1.1M4.6 29.9l-0.5 -2.5M69.9 39.9l0.1 -0.5M76.3 62.3l-0.0 -0.8M68.4 33.2l0.6 -1.5M71.3 74.1l0.3 -2.9M85.9 83.4l0.6 -2.7M104.0 9.8l0.2 -1.4M28.8 22.2l0.8 -2.8M60.4 5.8l0.2 -1.2M36.6 68.2l0.2 -0.7M23.2 72.5l-0.4 -2.7M62.9 87.1l0.6 -2.9M57.6 25.4l0.6 -1.4M76.6 -1.1l0.6 -1.5M107.5 85.6l0.5 -2.7" stroke="#b8a8b0" stroke-width="0.9" stroke-linecap="round" fill="none"/>
</g></svg>
<rect x="23.6" y="334.6" width="7" height="1.8" fill="#111"/>
<text x="25.2" y="332.2" font-size="8.9" text-anchor="start" fill="#111" style="stroke:#111;stroke-width:0.3px">40um</text>
<rect x="133.2" y="334.6" width="7" height="1.8" fill="#111"/>
<text x="134.8" y="332.2" font-size="8.9" text-anchor="start" fill="#111" style="stroke:#111;stroke-width:0.3px">40um</text>
<text x="327.8" y="235.8" font-size="9" text-anchor="middle" fill="#231f20" >TARGET dataset</text>
<g stroke="#231f20" stroke-width="1.3" fill="none">
<path d="M277.3 244 V336.6 H380"/>
<path d="M274.8 244.6 H277.3"/>
<path d="M274.8 267.8 H277.3"/>
<path d="M274.8 290.9 H277.3"/>
<path d="M274.8 313.6 H277.3"/>
<path d="M274.8 336 H277.3"/>
<path d="M309.6 336.6 V340.3 M357.6 336.6 V340.3"/>
</g>
<g font-size="8.5" text-anchor="end" fill="#231f20">
<text x="275" y="247.6">12.0</text>
<text x="275" y="270.8">11.5</text>
<text x="275" y="293.9">11.0</text>
<text x="275" y="316.6">10.5</text>
<text x="275" y="339.0">10.0</text>
</g>
<text transform="translate(256.1,289.4) rotate(-90)" font-size="9.1" text-anchor="middle" fill="#231f20">The expression of RBMX</text>
<rect x="293.6" y="302" width="32" height="34.6" fill="none" stroke="#f7901e" stroke-width="1.3"/>
<path d="M309.7 285.7 V316.7 M301.9 285.7 H317.5 M301.9 316.7 H317.5" stroke="#f7901e" stroke-width="1.3" fill="none"/>
<g fill="#f7901e">
<ellipse cx="305.7" cy="277.5" rx="2.0" ry="2.3"/>
<ellipse cx="313.5" cy="276.1" rx="2.0" ry="2.3"/>
<ellipse cx="297.4" cy="287.5" rx="2.0" ry="2.3"/>
<ellipse cx="305.4" cy="290.9" rx="2.0" ry="2.3"/>
<ellipse cx="313.5" cy="291.6" rx="2.0" ry="2.3"/>
<ellipse cx="321.6" cy="292.1" rx="2.0" ry="2.3"/>
<ellipse cx="297.4" cy="295.9" rx="2.0" ry="2.3"/>
<ellipse cx="305.4" cy="298.2" rx="2.0" ry="2.3"/>
<ellipse cx="313.5" cy="295.9" rx="2.0" ry="2.3"/>
<ellipse cx="305.4" cy="301.3" rx="2.0" ry="2.3"/>
<ellipse cx="313.5" cy="301.3" rx="2.0" ry="2.3"/>
<ellipse cx="297.4" cy="306" rx="2.0" ry="2.3"/>
<ellipse cx="321.6" cy="304.7" rx="2.0" ry="2.3"/>
<ellipse cx="305.4" cy="312.9" rx="2.0" ry="2.3"/>
<ellipse cx="313.5" cy="312.9" rx="2.0" ry="2.3"/>
<ellipse cx="301.4" cy="325.8" rx="2.0" ry="2.3"/>
<ellipse cx="309.5" cy="330.1" rx="2.0" ry="2.3"/>
<ellipse cx="317.5" cy="330.1" rx="2.0" ry="2.3"/>
</g>
<rect x="341.8" y="287.8" width="31.6" height="48.8" fill="none" stroke="#ed1c24" stroke-width="1.3"/>
<path d="M357.5 271.2 V304 M350.6 271.2 H363.8 M350.6 304 H363.8" stroke="#ed1c24" stroke-width="1.3" fill="none"/>
<g fill="#ed1c24">
<rect x="353.6" y="258.2" width="3.5" height="4.0"/>
<rect x="357.9" y="258.2" width="3.5" height="4.0"/>
<rect x="356.1" y="260.8" width="3.5" height="4.0"/>
<rect x="351.2" y="264.7" width="3.5" height="4.0"/>
<rect x="360.2" y="263.8" width="3.5" height="4.0"/>
<rect x="351.2" y="271.4" width="3.5" height="4.0"/>
<rect x="355.4" y="271.0" width="3.5" height="4.0"/>
<rect x="360.2" y="270.7" width="3.5" height="4.0"/>
<rect x="342.1" y="274.6" width="3.5" height="4.0"/>
<rect x="351.2" y="274.6" width="3.5" height="4.0"/>
<rect x="356.1" y="274.6" width="3.5" height="4.0"/>
<rect x="346.9" y="278.8" width="3.5" height="4.0"/>
<rect x="351.2" y="278.2" width="3.5" height="4.0"/>
<rect x="360.2" y="278.6" width="3.5" height="4.0"/>
<rect x="365.1" y="278.6" width="3.5" height="4.0"/>
<rect x="369.2" y="278.6" width="3.5" height="4.0"/>
<rect x="354.2" y="283.9" width="3.5" height="4.0"/>
<rect x="357.2" y="283.9" width="3.5" height="4.0"/>
<rect x="348.9" y="287.5" width="3.5" height="4.0"/>
<rect x="353.6" y="288.2" width="3.5" height="4.0"/>
<rect x="357.9" y="289.0" width="3.5" height="4.0"/>
<rect x="362.6" y="289.6" width="3.5" height="4.0"/>
<rect x="348.9" y="291.4" width="3.5" height="4.0"/>
<rect x="353.6" y="291.8" width="3.5" height="4.0"/>
<rect x="357.9" y="291.4" width="3.5" height="4.0"/>
<rect x="355.4" y="295.4" width="3.5" height="4.0"/>
<rect x="353.6" y="297.4" width="3.5" height="4.0"/>
<rect x="358.4" y="297.4" width="3.5" height="4.0"/>
<rect x="365.1" y="299.0" width="3.5" height="4.0"/>
<rect x="346.9" y="301.9" width="3.5" height="4.0"/>
<rect x="351.2" y="302.9" width="3.5" height="4.0"/>
<rect x="356.1" y="305.5" width="3.5" height="4.0"/>
<rect x="360.2" y="307.9" width="3.5" height="4.0"/>
<rect x="355.4" y="314.9" width="3.5" height="4.0"/>
</g>
<text x="330.4" y="250.0" font-size="9.4" text-anchor="middle" fill="#231f20" stroke="#231f20" stroke-width="0.35">***</text>
<text x="275.3" y="355.6" font-size="8.9" text-anchor="start" fill="#231f20" >No Recurrence</text>
<text x="340.4" y="355.6" font-size="8.9" text-anchor="start" fill="#231f20" >Recurrence</text>
<text x="383.1" y="233.4" font-size="12.8" text-anchor="start" fill="#231f20" style="stroke-width:0.12px">D</text>
<g stroke="#231f20" stroke-width="1.3" fill="none">
<path d="M425.9 237.3 V335.4 H543.5"/>
<path d="M423.4 238.9 H425.9"/>
<path d="M423.4 261.8 H425.9"/>
<path d="M423.4 284.7 H425.9"/>
<path d="M423.4 308 H425.9"/>
<path d="M423.4 331.2 H425.9"/>
<path d="M430.5 335.4 V338"/>
<path d="M457.7 335.4 V338"/>
<path d="M484.5 335.4 V338"/>
<path d="M511.7 335.4 V338"/>
<path d="M539.2 335.4 V338"/>
</g>
<g font-size="8.3" text-anchor="end" fill="#231f20">
<text x="422" y="241.9">1.00</text>
<text x="422" y="264.8">0.75</text>
<text x="422" y="287.7">0.50</text>
<text x="422" y="311.0">0.25</text>
<text x="422" y="334.2">0.00</text>
</g>
<g font-size="8.3" text-anchor="middle" fill="#231f20">
<text x="430.5" y="345.6">0</text>
<text x="457.7" y="345.6">3</text>
<text x="484.5" y="345.6">6</text>
<text x="511.7" y="345.6">9</text>
<text x="539.2" y="345.6">12</text>
</g>
<text x="472.2" y="355.7" font-size="9" fill="#231f20" font-family="Liberation Sans, Noto Sans CJK SC, sans-serif">Time（year）</text>
<text transform="translate(401,286.2) rotate(-90)" font-size="8.9" text-anchor="middle" fill="#231f20">Survival probability</text>
<path d="M431 239.4 H436.5 V239.4 H438.1 V241.3 H444.1 V241.3 H446.3 V243.5 H446.8 V245.1 H448.5 V246 H449.5 V248.4 H451.2 V252.2 H451.7 V254.4 H454.5 V254.4 H456.6 V256 H457.2 V257.6 H468.1 V257.6 H468.6 V259.3 H470.8 V260.9 H471.4 V263.1 H473 V264.2 H477.9 V264.2 H478.5 V266.7 H479 V269.1 H529.2 V269.1" stroke="#1fa886" stroke-width="1.5" fill="none"/>
<path d="M431 239.4 H432.1 V240.7 H433.7 V241.8 H435.4 V241.8 H435.9 V243.5 H437.5 V244 H438.1 V245.6 H439.2 V249.5 H440.3 V252.2 H441.9 V256.5 H443.5 V258.2 H444.6 V260.9 H445.7 V261.5 H446.8 V263.6 H447.9 V266.9 H448.5 V269.6 H450.1 V271.3 H453.4 V271.3 H453.9 V274 H455.5 V275.1 H456.1 V276.7 H469.7 V276.7 H470.3 V279.9 H502.3 V279.9 H502.3 V288.4 H539.4 V288.4" stroke="#f37021" stroke-width="1.5" fill="none"/>
<text x="452.8" y="235.1" font-size="9" text-anchor="start" fill="#231f20" >RBMX</text>
<path d="M481.3 236.3 H487.8" stroke="#f37021" stroke-width="1.3"/>
<path d="M481.3 246.7 H487.8" stroke="#1fa886" stroke-width="1.3"/>
<text x="494.3" y="237.2" font-size="9.3" text-anchor="start" fill="#231f20" >&gt;27.05(38)</text>
<text x="494.3" y="251.4" font-size="9.3" text-anchor="start" fill="#231f20" >&lt;27.05(47)</text>
<text x="432.4" y="305.8" font-size="9.15" text-anchor="start" fill="#231f20" >p = 0.046</text>
<text x="432.4" y="315.5" font-size="9.15" text-anchor="start" fill="#231f20" >Hazard Ratio = 2.17</text>
<text x="432.2" y="325.0" font-size="9.1" text-anchor="start" fill="#231f20" >95% CI: 1.02 − 4.65</text>
<text x="5.5" y="376.7" font-size="12.8" text-anchor="start" fill="#231f20" style="stroke-width:0.12px">E</text>
<rect x="21.8" y="381.6" width="169.2" height="14.5" fill="#0c0cf2"/>
<rect x="191.6" y="381.6" width="169.6" height="14.5" fill="#dede00"/>
<rect x="361.8" y="381.6" width="170.1" height="14.5" fill="#11e011"/>
<text x="88.5" y="393.3" font-size="13.2" font-weight="bold" text-anchor="middle" fill="#fff" class="w">DAPI</text>
<text x="281.4" y="393.3" font-size="13.2" font-weight="bold" text-anchor="middle" fill="#fff" class="w">RBMX</text>
<text x="431.4" y="393.3" font-size="13.2" font-weight="bold" text-anchor="middle" fill="#fff" class="w">CD8A</text>
<text transform="translate(15.4,439.7) rotate(-90)" font-size="8.7" text-anchor="middle" fill="#231f20">Low RBMX</text>
<text transform="translate(15.8,532.8) rotate(-90)" font-size="8.9" text-anchor="middle" fill="#231f20">High RBMX</text>
<svg x="21.8" y="396.1" width="169.2" height="90.0" viewBox="0 0 169.2 90.0" overflow="hidden">
<rect width="169.2" height="90.0" fill="#000"/>
<filter id="b11" x="-10%" y="-10%" width="120%" height="120%"><feGaussianBlur stdDeviation="0.55"/></filter><g filter="url(#b11)" fill="none" stroke-linecap="round">
<path d="M76.5 50.4l-0.0 1.1M19.1 42.4l0.7 1.9M111.2 29.4l0.1 0.8M29.9 68.3l0.7 0.0M151.4 36.2l-0.9 2.1M81.1 23.4l1.1 1.9M133.7 13.6l-1.5 0.4M20.4 81.9l0.2 0.6M167.4 73.6l-0.7 0.3M142.2 58.4l-1.6 1.2M114.5 40.9l-0.6 0.7M53.7 32.1l0.4 1.4M99.3 23.1l-0.6 1.0M56.2 36.1l-1.6 0.9M69.1 80.4l-1.5 1.1M3.6 35.7l-1.1 0.2M77.5 52.5l0.0 0.0M114.9 4.2l0.9 0.7M46.0 80.7l0.8 0.1M35.0 67.8l2.1 0.4M81.2 77.8l0.3 0.9M144.9 30.3l-0.5 1.3M122.3 29.9l-1.5 1.0" stroke="#000060" stroke-width="2.2"/>
<path d="M32.1 72.4l1.0 0.6M5.0 54.1l-0.3 0.3M28.2 83.8l-1.4 1.0M71.4 64.1l0.8 1.5M133.9 21.2l-0.1 0.4M125.9 39.3l-0.0 1.6M101.6 51.5l-0.0 0.1M62.6 65.1l-0.3 0.6M93.1 0.2l-1.1 0.5M37.9 5.6l0.3 0.3M168.5 21.8l-0.6 0.3M77.3 89.9l-0.0 0.0M92.1 84.7l1.2 0.4M66.4 81.8l1.0 0.5M64.1 51.7l0.4 0.4M63.3 85.0l1.6 0.3M45.2 10.6l0.7 1.2M155.2 50.4l-0.3 1.4" stroke="#000080" stroke-width="1.7"/>
<path d="M51.3 8.2l1.6 0.2M65.3 87.3l-0.4 1.2M82.2 89.5l0.6 1.9M70.8 22.2l0.1 1.9M161.9 32.0l-1.0 1.3M20.3 7.0l1.4 0.1M50.0 82.1l0.9 0.2M59.0 89.0l1.3 0.2M67.7 8.4l-0.5 0.6M80.1 9.8l0.3 0.2M4.1 43.0l0.6 1.3M93.7 88.3l-0.4 1.2" stroke="#000080" stroke-width="2.1"/>
<path d="M163.2 58.9l0.3 0.0M159.7 45.5l0.5 0.5M31.3 61.0l-0.3 1.1M146.5 32.6l-1.8 0.6M80.0 39.2l-1.8 0.4M34.5 39.0l1.2 0.4M103.2 78.0l0.2 0.2M158.2 56.0l0.2 0.6M138.3 0.3l0.7 0.5M116.3 14.0l1.1 1.0M81.8 33.0l0.9 1.0M43.0 56.7l0.0 0.0M103.6 1.3l0.8 0.2M123.4 31.9l0.1 0.2M84.1 88.8l0.1 0.4M37.9 11.7l0.6 0.4M117.1 10.5l-0.7 0.4M82.0 83.5l-0.2 0.5" stroke="#000060" stroke-width="1.8"/>
<path d="M10.7 3.2l-1.1 0.9M103.9 25.2l0.5 0.0M155.4 84.6l-0.9 0.6M87.9 11.7l0.2 1.4M50.8 64.7l0.2 0.0M155.9 87.8l1.4 0.9M42.2 0.3l0.7 0.0M135.3 47.8l-1.9 1.4M110.1 34.8l-0.2 1.9M67.5 58.8l0.1 1.3M160.9 34.8l-1.4 1.9M44.2 26.4l0.5 0.3M82.4 1.6l-1.6 1.5M31.9 16.1l0.6 2.0M115.0 10.5l-0.3 0.3M49.4 41.6l0.4 1.7" stroke="#0000f0" stroke-width="2.2"/>
<path d="M74.5 75.8l0.0 1.2M21.1 40.2l0.7 0.1M65.1 83.6l-0.1 0.3M153.9 28.9l0.0 0.0M20.3 44.4l1.1 1.4M149.1 70.0l-0.0 0.0M69.2 41.1l0.8 1.6M102.0 76.1l-0.4 0.1M46.4 51.0l0.8 0.5M134.2 44.5l-1.7 0.2M81.1 5.3l-1.1 0.6M52.9 66.7l1.1 0.6M49.1 41.0l0.5 1.4M90.4 70.0l0.2 0.0M73.9 41.1l0.1 0.7M156.8 9.5l0.9 1.5M0.0 18.4l1.4 0.6M92.8 88.3l0.2 0.3M122.0 63.9l1.4 0.2M127.5 17.1l-1.5 0.7M11.8 77.2l0.0 0.0" stroke="#0000b0" stroke-width="1.7"/>
<path d="M14.4 58.9l-0.9 0.2M67.7 76.2l-1.5 0.8M2.5 59.6l0.0 0.0M15.2 88.5l-0.1 0.9M9.2 19.6l0.1 1.0M111.0 60.2l0.9 0.7M42.6 62.6l-0.8 1.4M78.2 18.5l-0.2 1.2M22.6 28.0l0.4 0.4M74.2 41.7l-0.5 0.1M56.4 89.7l0.8 0.5M72.9 61.5l-0.2 1.4M1.4 88.2l0.2 1.3M20.4 39.3l0.7 1.1M19.3 25.8l-0.9 1.0M85.6 83.8l-0.3 0.3" stroke="#0000d0" stroke-width="1.6"/>
<path d="M119.8 28.4l0.4 0.1M160.1 83.1l-0.1 0.2M45.7 51.2l0.3 0.5M161.6 19.8l-0.2 0.6M135.8 22.9l-0.3 0.1M70.1 36.6l-0.7 0.1M98.9 84.1l1.2 0.2M163.8 21.6l-0.7 1.2M2.6 68.9l-0.9 0.7M161.7 26.6l0.3 0.2M14.4 20.5l0.3 0.2M4.3 42.2l-0.6 0.6M50.4 5.1l-1.5 0.0M140.4 40.2l0.9 0.7M168.9 73.5l-0.5 1.4M14.7 26.8l-0.3 1.2M24.9 78.5l-0.6 0.1M158.1 68.1l-1.0 0.4M6.0 14.7l1.3 0.1M9.3 22.1l-0.5 1.2M109.8 76.2l-0.2 0.9M140.5 76.2l-1.2 0.8" stroke="#0000d0" stroke-width="1.4"/>
<path d="M36.1 83.4l-0.3 0.4M22.7 61.3l0.0 0.1M2.4 22.1l-0.1 0.1M39.1 55.6l0.0 0.2M29.4 67.0l-0.0 0.0M24.7 51.2l0.6 0.2M156.2 18.6l0.4 0.5M91.3 13.9l-1.2 0.2M132.8 25.9l0.6 1.0M49.2 56.5l0.9 0.8M168.2 36.3l0.7 0.1M21.4 33.5l0.1 0.5M105.7 20.3l-0.1 0.6" stroke="#000080" stroke-width="1.2"/>
<path d="M12.4 56.7l0.6 0.2M103.5 14.3l-0.3 2.0M23.8 29.1l0.7 0.9M71.6 54.2l0.6 0.8M150.9 21.2l0.0 0.1M132.7 87.3l1.5 1.1M153.9 9.2l-0.2 0.7" stroke="#0000f0" stroke-width="2.0"/>
<path d="M2.6 36.9l-0.2 0.3M128.9 55.2l1.0 0.7M81.8 24.3l-1.1 1.1M127.9 76.3l-0.6 1.3M108.1 2.0l-0.5 1.8M165.1 85.5l-2.0 0.4M129.0 47.4l0.2 0.1M54.4 73.0l-1.2 1.7M75.7 89.1l-0.2 1.4M113.6 65.6l-0.3 1.3M115.2 18.3l-0.1 2.1M90.9 50.3l1.3 0.6M167.7 80.0l-0.5 0.3M115.5 0.2l-1.9 0.9M94.6 36.8l0.4 0.3M122.2 52.8l2.1 0.6M10.4 16.4l-0.4 1.3M92.9 11.8l-0.8 0.8M97.9 22.1l-0.1 0.2" stroke="#0000d0" stroke-width="2.2"/>
<path d="M10.1 71.7l0.1 0.8M84.7 89.7l-0.7 1.0M106.2 31.3l-0.8 0.3M17.2 56.0l0.8 0.5M119.1 86.1l-0.3 1.0M157.9 86.5l0.2 0.5M57.8 56.7l-0.0 0.9M141.3 34.2l-1.2 0.1M65.9 88.6l-1.0 0.2M16.2 67.4l0.1 0.0M49.2 30.4l0.8 0.1M115.9 9.5l-0.0 0.7" stroke="#0000a0" stroke-width="1.3"/>
<path d="M166.7 69.3l0.2 0.6M84.3 21.7l-0.2 0.4M12.4 81.5l-0.8 0.1M44.4 52.4l-0.1 1.4M141.8 69.2l0.4 1.2M125.0 33.1l-0.1 0.3M11.6 41.8l0.6 1.6M135.6 11.3l0.9 0.8M29.0 6.1l-0.7 1.4M4.1 68.6l0.1 0.0M2.8 6.6l0.8 0.3M53.6 18.1l0.2 0.8M48.8 33.5l-0.8 1.0M165.4 81.8l0.1 1.1M35.2 44.1l0.9 0.2M137.3 83.3l-0.1 0.6M161.7 12.4l-0.0 0.1M143.5 10.1l0.3 0.3M127.8 47.5l0.1 0.1M80.2 5.4l0.8 0.0M142.9 43.9l0.2 0.3M160.2 82.5l-0.1 0.1M93.8 21.0l0.0 0.6" stroke="#0000a0" stroke-width="1.6"/>
<path d="M0.1 77.8l-1.5 0.0M34.5 75.6l2.2 0.7M77.5 19.9l-0.1 1.8M115.0 64.5l0.9 1.2M159.7 6.1l2.3 0.4M69.5 14.1l-1.4 0.5M67.7 32.4l-1.0 0.7M20.9 46.2l-0.1 0.9M113.9 14.1l0.0 0.0" stroke="#0000d0" stroke-width="2.3"/>
<path d="M35.7 35.5l1.4 0.5M119.2 23.1l0.8 1.1M7.7 8.9l1.9 0.9M130.6 8.3l0.7 0.6M101.8 11.0l-0.6 0.2M78.3 35.4l-0.7 0.6M63.8 79.2l0.2 1.2M17.6 1.7l0.2 0.5M155.2 61.7l-1.4 0.9M35.8 39.7l-1.1 0.3M108.9 72.1l0.2 0.3M82.6 82.1l-1.6 1.1M2.6 4.7l0.6 0.1M4.7 62.5l-1.7 0.8M138.0 17.1l1.5 0.9M131.0 89.4l-1.9 0.2" stroke="#0000a0" stroke-width="2.1"/>
<path d="M36.1 23.2l0.4 0.6M130.2 24.0l-1.8 0.1M117.4 7.5l-0.0 1.2M159.9 50.7l-0.6 0.4M132.6 64.9l0.0 0.9M136.2 20.0l-1.2 0.4M158.5 32.4l-1.5 0.5M39.5 23.5l0.9 0.9M167.0 12.3l-0.5 0.5M12.1 22.1l0.6 0.5M6.3 66.1l0.9 0.9M159.9 40.7l0.3 1.0M83.2 54.4l-0.3 0.9M109.8 41.9l0.9 1.3M144.7 61.1l-0.3 0.1M128.7 86.8l-0.0 1.4M111.1 69.5l1.5 0.8" stroke="#0000d0" stroke-width="2.0"/>
<path d="M12.6 18.8l0.0 0.0M152.2 1.4l-0.3 1.4M32.6 20.6l0.5 0.0M159.8 48.5l0.6 0.0M55.6 44.0l-1.8 0.3M52.6 16.7l-1.6 0.1M11.1 8.7l-0.1 0.1M102.5 11.6l-0.4 1.2M151.2 65.3l-0.1 1.0M149.8 0.1l1.3 0.8M109.2 85.8l1.8 0.7M87.7 0.6l-0.0 0.1M152.6 56.9l0.9 0.7" stroke="#000060" stroke-width="1.9"/>
<path d="M76.7 86.3l-1.0 0.4M132.0 59.4l0.7 1.5M116.6 85.1l1.7 0.5M1.2 52.8l-0.2 0.8M73.9 71.9l-0.1 0.9M110.3 48.8l0.6 1.1M152.7 22.6l-0.2 1.9M79.3 47.6l-1.4 0.5M98.5 15.6l-0.9 1.4M128.2 58.1l-0.7 1.3M100.9 51.0l-0.9 0.1M101.6 72.9l-0.5 0.8M34.3 26.6l0.9 0.3M60.2 13.2l0.5 0.8M115.5 30.7l-1.1 0.3M59.2 79.9l-0.5 1.1M9.1 28.4l-0.8 1.6M113.9 83.0l-0.5 0.8M2.9 40.4l-0.4 0.1M44.0 76.6l-1.7 0.4M154.0 45.7l-1.5 0.3M16.3 54.5l0.3 0.1M58.7 8.0l0.9 1.4M130.7 77.5l-0.5 0.9" stroke="#0000a0" stroke-width="1.7"/>
<path d="M106.1 28.0l-0.6 0.7M48.2 68.0l-0.1 0.4M65.4 77.9l0.2 0.4M104.3 74.4l0.2 0.2M15.1 80.9l0.2 0.3M61.7 43.0l0.3 1.0M60.1 63.6l-1.3 0.5M22.0 34.5l0.3 0.6M87.1 49.2l-0.0 0.3M34.4 41.6l1.0 0.3M51.0 33.2l0.3 0.3M58.5 42.8l0.1 0.0M158.3 14.9l0.3 0.5M135.6 20.4l-0.6 0.6M36.2 23.0l1.5 0.3M84.8 2.9l-0.1 0.2M73.9 2.2l1.1 0.4" stroke="#0000a0" stroke-width="1.4"/>
<path d="M125.1 84.6l-1.3 0.5M157.2 87.9l-0.3 0.6M153.7 72.9l-0.4 1.0M163.1 74.2l0.0 0.9M42.6 23.5l0.0 0.0M137.0 45.3l0.7 0.4M134.3 84.9l-0.5 0.3M17.2 12.6l1.0 0.1M107.8 2.4l0.0 0.0M116.6 3.2l-0.6 1.2M160.7 57.3l0.0 0.9M107.3 38.7l-0.0 0.1M6.5 56.2l-0.0 0.2M38.1 72.5l-0.7 0.1" stroke="#000060" stroke-width="1.3"/>
<path d="M13.3 4.3l0.5 0.5M54.0 89.9l-0.5 0.5M153.0 28.9l-0.9 0.3M8.2 64.2l0.0 0.0M10.4 60.0l-0.0 0.0M151.9 23.7l-1.3 0.1M145.6 47.6l0.1 0.8M134.6 56.5l0.2 1.2M106.6 20.7l-1.0 0.5M154.9 26.0l-1.2 0.3M114.7 7.1l-0.1 0.1M74.7 7.6l0.1 0.0M67.8 30.3l-0.3 0.3M33.0 36.5l-0.0 0.4" stroke="#0000b0" stroke-width="1.2"/>
<path d="M69.6 22.4l-0.0 0.4M140.6 70.8l0.2 0.5M162.7 21.5l-0.4 0.4M128.8 65.0l1.0 0.5M166.0 34.6l0.6 0.6M30.8 25.8l-0.0 0.0M155.0 47.8l-0.0 1.0M103.4 33.3l0.1 0.5M163.3 65.2l-1.0 0.3M7.2 88.7l0.5 1.0M130.3 43.6l-0.5 0.5" stroke="#0000a0" stroke-width="1.2"/>
<path d="M15.6 12.5l-0.4 0.4M152.4 78.4l-1.3 0.6M59.1 0.3l0.0 0.2M110.6 1.1l0.9 0.8M45.0 79.5l0.9 0.9M72.6 42.8l-0.9 0.6M3.8 26.1l0.1 0.0M38.9 16.2l0.7 0.2M28.9 40.9l-1.5 0.1M4.7 33.0l-0.2 1.5M147.2 39.5l-0.1 1.0M138.5 6.8l-0.6 0.1M57.1 72.0l-0.9 1.3M149.5 17.5l0.0 0.5M133.1 63.2l-1.0 0.2M74.5 42.7l1.0 0.9" stroke="#000060" stroke-width="1.6"/>
<path d="M98.9 12.6l-0.0 0.0M17.8 28.2l0.8 0.2M111.7 54.8l0.2 0.4M9.9 8.9l-0.5 0.3M121.3 47.4l0.9 0.2M2.2 35.6l-1.0 0.4" stroke="#0000b0" stroke-width="1.1"/>
<path d="M52.8 3.0l0.1 0.0M140.2 25.0l0.9 1.0M150.1 0.6l-0.0 1.3M13.3 7.5l-0.5 0.8M91.9 50.5l-0.5 0.1M79.5 37.0l-1.0 0.9M67.2 32.1l0.1 0.0M130.5 56.5l0.2 0.8M56.5 86.2l-0.1 0.2M10.0 61.8l0.6 0.4M131.4 54.1l-0.3 0.2M55.7 69.4l-0.1 0.8M97.5 22.2l-1.3 1.3M103.6 49.4l0.6 0.6M157.4 37.2l0.1 0.1M29.7 71.8l1.2 0.3M81.6 57.7l0.3 0.3M95.9 82.1l0.2 1.5M147.1 30.3l-0.1 0.1" stroke="#0000f0" stroke-width="1.8"/>
<path d="M124.7 11.7l0.8 0.2M153.3 59.7l-1.1 0.4M67.9 74.0l0.0 0.1M102.6 72.7l-2.1 0.1M0.7 42.1l0.7 0.4M167.0 44.7l-0.6 1.4M124.2 69.4l0.3 0.9M73.6 33.7l-0.0 2.4" stroke="#000080" stroke-width="2.3"/>
<path d="M108.2 89.4l0.6 1.7M36.9 89.9l0.2 0.2M107.0 17.2l0.1 0.0M50.4 60.3l-0.3 0.4M116.6 32.8l1.1 1.4M164.8 87.7l0.3 1.3M22.4 12.2l1.8 0.4M53.5 5.8l-1.0 1.0M142.5 47.8l-2.0 1.2M144.5 87.3l1.3 0.4M133.9 23.9l0.0 0.4M68.1 84.5l-0.9 1.0" stroke="#0000b0" stroke-width="2.2"/>
<path d="M117.5 41.2l-0.1 1.0M122.4 22.0l-0.2 0.9M115.6 24.6l0.9 0.1M72.9 0.8l0.4 0.6M24.6 54.5l-1.0 0.0M28.4 15.2l0.6 0.3M21.3 49.7l0.1 0.3M58.8 57.8l-1.1 0.2M111.2 52.9l0.7 0.2M87.3 36.9l-0.4 0.6M28.4 45.6l0.3 0.2" stroke="#000060" stroke-width="1.7"/>
<path d="M114.7 18.2l-0.6 1.1M45.6 42.6l-0.5 0.3M123.6 27.3l-1.3 0.4M23.5 18.5l0.1 1.0M128.3 32.7l-0.7 0.5M31.8 46.3l0.1 0.3M102.0 62.5l-0.1 0.2M146.4 87.9l0.2 0.3M150.0 15.8l-0.6 0.6M135.0 12.6l0.0 0.0M82.5 25.9l0.1 0.3M107.3 51.0l0.2 0.1M71.7 38.4l-1.0 0.5M111.3 25.0l0.2 0.3M154.6 1.8l-0.1 0.2" stroke="#000080" stroke-width="1.3"/>
<path d="M148.9 34.6l0.6 0.3M57.2 59.4l0.4 1.0M98.6 63.1l1.4 0.1M52.5 85.8l1.4 1.1M132.9 78.6l-0.8 1.7M69.2 7.8l-0.1 0.5M163.6 18.3l0.3 0.0M160.5 14.8l-0.2 0.2M42.1 15.4l0.1 0.8M81.5 25.3l-0.1 0.1M30.3 64.5l-1.1 0.8M106.3 76.9l0.0 0.5M25.1 70.9l1.9 0.1M14.3 83.8l-0.6 0.1" stroke="#000080" stroke-width="1.8"/>
<path d="M59.3 80.6l-0.1 0.0M111.3 21.4l0.2 0.5M38.1 64.0l0.0 1.1M65.5 32.3l0.0 0.1M15.7 56.0l0.8 0.4M146.0 18.0l0.6 0.7" stroke="#0000a0" stroke-width="1.1"/>
<path d="M83.6 28.4l0.3 2.2M168.2 39.9l1.4 0.9M63.4 53.4l0.6 0.7M167.5 73.4l1.4 0.7M79.3 1.4l-2.1 0.7M163.0 62.4l-0.4 0.3M55.5 28.6l-0.8 1.6M74.9 7.6l-0.5 0.3M90.0 10.1l-1.2 1.4M96.4 71.0l0.2 0.1M125.7 89.2l0.3 0.0M126.8 50.9l0.1 1.0M6.8 71.8l0.3 1.9M87.5 78.6l0.7 0.7M50.5 24.4l-0.4 2.2" stroke="#0000d0" stroke-width="2.1"/>
<path d="M52.3 71.2l0.0 0.2M69.6 10.3l-0.1 0.5M52.5 46.3l-0.3 0.0M103.6 5.7l0.4 0.2M126.4 8.7l-0.4 0.0M67.3 9.2l0.8 0.8M13.0 47.1l-0.7 0.4" stroke="#0000d0" stroke-width="1.1"/>
<path d="M75.5 56.7l-1.7 0.2M105.5 64.6l1.8 0.1M21.3 36.3l0.0 0.0M19.0 39.2l0.8 0.8M92.0 12.2l-0.4 0.4M64.0 73.5l-1.7 0.3M29.2 7.5l-0.2 0.2M31.5 55.8l0.9 0.5M156.7 58.2l0.6 0.8M111.3 42.4l0.4 1.3M111.1 26.5l-0.3 0.1M67.6 46.9l-0.3 0.1M63.4 29.4l-1.4 1.5M123.3 50.8l0.7 0.3M51.4 19.6l-0.8 1.5M47.4 76.5l-0.4 0.4M61.4 14.3l-0.0 0.6M64.5 50.6l1.2 0.9M45.6 40.5l0.1 0.6" stroke="#0000b0" stroke-width="1.9"/>
<path d="M33.5 74.1l-0.8 0.8M120.8 16.1l-0.3 0.4M63.6 8.9l-0.2 1.4M161.2 66.1l-0.2 0.1M105.7 32.3l-0.2 1.0M68.1 63.5l1.4 0.1M34.6 3.1l-0.1 0.1M84.3 70.6l0.9 0.9M149.9 6.7l-0.1 0.3M150.5 25.0l0.5 0.6M131.1 27.7l-0.4 0.1M131.8 69.1l-0.6 0.5M31.3 47.0l0.7 0.9M112.8 12.7l-0.0 0.1M63.4 89.1l0.3 0.5M75.1 37.1l0.7 1.1M105.7 60.4l0.4 0.6M121.8 89.4l0.6 1.0" stroke="#000060" stroke-width="1.4"/>
<path d="M14.8 83.9l0.0 0.3M10.8 49.2l0.2 0.0M23.7 76.3l1.1 0.0M58.3 35.8l1.1 1.1M66.3 55.6l0.7 2.0M107.9 5.9l0.0 0.5M56.7 13.0l0.2 0.0M109.6 60.1l0.2 0.3M83.5 30.9l-0.9 0.7M33.2 23.7l0.9 0.4M72.6 56.9l-1.4 1.0M147.6 47.7l-0.1 1.8M27.0 35.1l-1.2 0.4M98.1 47.8l-0.1 1.3M12.1 1.9l1.9 1.2M64.7 52.0l-0.9 0.8M142.7 1.6l-1.7 1.0" stroke="#0000b0" stroke-width="2.0"/>
<path d="M78.5 58.6l-0.9 0.6M133.3 12.6l-0.5 0.6M69.9 47.6l-0.1 0.3M165.3 80.6l0.3 0.1M125.5 7.5l-0.3 0.9M108.9 54.7l-0.0 0.0M142.9 49.1l0.4 0.9M86.4 5.3l-0.5 0.7M138.8 53.2l-0.6 1.0M35.8 49.5l0.8 0.1M45.2 16.8l-0.0 0.1M0.7 31.7l-1.3 0.4M43.2 6.5l-0.2 0.9M128.9 78.4l0.3 0.8" stroke="#0000b0" stroke-width="1.3"/>
<path d="M156.4 11.1l0.6 0.2M138.4 86.5l-0.6 0.2M20.4 62.2l-0.0 1.1M81.6 32.9l0.1 0.0M129.8 23.8l0.0 1.4M7.0 25.0l-0.2 0.5M92.6 36.0l0.1 0.1M62.8 86.2l0.5 0.4M29.7 13.5l-0.6 0.5M82.9 43.4l-0.0 1.3M75.2 64.6l0.5 1.1M73.5 52.1l0.5 1.4M132.3 11.1l-0.1 0.7M153.6 8.2l-0.2 1.3M103.3 46.0l0.0 0.2M124.1 81.8l-0.3 0.3M126.7 35.9l-1.3 0.6" stroke="#0000f0" stroke-width="1.4"/>
<path d="M90.9 71.2l-1.3 0.7M60.5 73.9l-0.5 1.1M34.6 38.2l1.6 0.3M52.6 6.8l-0.5 0.6M134.8 13.7l0.2 0.0M15.0 32.7l-0.6 1.0M79.1 43.9l0.2 0.8M91.6 4.6l1.5 0.3M68.5 69.5l0.7 0.1M147.8 16.2l-0.3 0.9M84.5 72.2l-1.0 0.8M2.9 2.5l0.7 0.0M39.1 71.5l0.1 0.5M21.7 15.8l-0.2 0.1M74.1 26.9l0.4 0.2" stroke="#0000f0" stroke-width="1.5"/>
<path d="M85.4 3.3l0.5 0.5M23.9 35.4l0.7 0.2M4.8 9.9l-0.7 1.4M139.4 43.1l-1.0 0.3M73.9 10.6l1.2 0.3M92.0 46.3l-0.1 1.4M30.2 44.5l-0.5 0.4M32.2 45.1l-0.5 1.1M22.5 16.9l-0.7 0.4M29.6 31.4l0.0 0.1M166.7 7.3l0.2 0.5" stroke="#0000d0" stroke-width="1.5"/>
<path d="M36.9 78.1l-0.0 0.1M88.8 9.8l0.0 0.0M14.9 34.9l-0.2 1.6M18.3 21.3l-0.7 0.6M110.0 46.0l0.0 0.4M47.3 14.3l0.7 0.4M165.2 89.3l-0.7 1.3M148.7 59.1l0.3 1.1M90.7 14.6l-0.6 0.4M21.0 53.8l0.7 1.2M48.0 89.1l-0.3 0.1M60.9 67.0l-0.0 1.2M103.1 11.7l-0.0 0.2M63.5 33.0l0.1 0.0" stroke="#0000b0" stroke-width="1.6"/>
<path d="M74.4 50.3l1.1 0.6M58.2 67.0l0.2 0.1M19.2 69.5l-1.2 1.5M169.1 65.8l-0.1 0.8M36.6 25.4l-0.9 0.5M81.9 37.3l0.9 0.2M158.3 58.7l-2.2 0.6M87.8 78.4l-1.6 0.6M61.5 0.4l-1.4 0.1M41.3 35.4l-0.0 0.0M88.9 40.2l-0.7 0.6M142.3 82.5l0.0 0.8M144.7 75.6l-0.1 0.5M153.1 43.4l-0.6 0.2M133.6 32.9l1.6 1.0" stroke="#000060" stroke-width="2.1"/>
<path d="M142.7 50.4l-0.6 0.3M60.4 13.9l0.1 0.2M41.3 26.9l-0.1 0.0M42.6 64.4l-0.4 0.4M106.1 40.5l-0.1 0.1M57.5 86.3l-1.3 0.6M4.7 88.5l0.5 0.2M84.0 58.0l0.5 0.3M98.2 11.5l-1.1 1.0M95.8 20.0l0.2 1.1M13.7 50.4l-0.0 0.0M4.2 3.5l-1.2 0.9" stroke="#000060" stroke-width="1.5"/>
<path d="M35.2 76.6l-0.3 1.3M44.2 18.2l0.0 0.1M18.6 5.2l-1.3 1.0M103.6 77.7l1.0 0.0M50.4 27.1l0.9 0.5M124.1 52.7l-0.2 1.5" stroke="#0000a0" stroke-width="2.3"/>
<path d="M87.3 36.1l0.0 1.3M70.3 46.9l0.0 0.2M11.8 6.6l0.6 2.2M19.0 67.1l-0.8 1.3M56.8 2.0l-0.4 1.6M4.8 73.7l-0.3 0.4M48.3 17.2l-1.1 1.6M43.3 41.0l2.1 0.4M19.0 57.0l0.5 0.9M111.3 82.0l-1.1 0.9M167.7 81.9l-1.5 1.7M101.9 37.0l2.2 0.4M153.7 40.7l0.6 1.1M26.2 85.4l-2.1 0.5" stroke="#0000b0" stroke-width="2.1"/>
<path d="M131.9 2.1l-0.2 0.3M159.0 51.3l0.4 0.7M154.9 22.1l-0.5 0.8M120.7 54.5l0.1 0.2M94.0 7.8l0.5 0.2M124.8 31.0l0.2 0.1M49.6 22.8l0.5 0.5M158.9 6.4l0.5 0.1M144.3 79.4l-0.7 0.0M16.9 69.9l0.7 0.8M74.6 34.8l0.5 0.9M46.1 82.9l0.8 0.9M78.6 66.7l-0.2 0.5" stroke="#0000f0" stroke-width="1.3"/>
<path d="M36.9 19.5l1.1 0.5M136.2 6.5l-0.1 0.1M103.6 46.2l-0.4 0.1M55.0 54.7l-0.0 1.6M98.0 65.0l0.0 0.1M106.4 45.4l-0.2 0.1M144.6 54.8l-0.2 1.4M57.0 76.3l1.0 1.0M30.8 88.8l-0.4 0.0M141.7 35.2l-1.0 1.0M114.6 17.1l-1.6 0.7M143.6 73.9l-0.1 0.1M33.5 3.1l-0.4 0.1M160.2 11.0l-0.9 1.4M92.8 60.0l-0.1 0.2M40.1 87.9l0.5 0.5M126.9 12.3l-0.4 0.5M153.2 47.5l0.1 0.1M92.1 66.0l0.8 0.5M79.7 10.2l0.2 0.1M136.3 58.4l-0.5 0.9" stroke="#0000b0" stroke-width="1.8"/>
<path d="M85.1 61.7l0.1 0.0M74.7 50.1l0.3 0.4M42.2 29.2l0.7 0.3M130.6 43.3l-1.1 0.5M35.0 59.6l0.5 0.4M95.6 21.5l1.0 0.3M26.2 30.0l0.9 1.1M64.0 10.5l-0.9 0.3M40.8 40.4l-0.7 0.0M73.6 21.1l0.1 0.2M152.6 0.6l-0.0 0.7M148.3 86.3l-0.5 1.3M166.6 82.2l-0.3 0.1M6.6 48.1l-0.4 0.4M22.5 42.2l-0.2 0.5M164.9 2.8l-1.0 0.8" stroke="#0000d0" stroke-width="1.3"/>
<path d="M87.2 38.7l-0.0 0.0M68.1 75.3l0.1 0.1M105.4 65.4l-0.5 0.4M138.8 76.5l1.0 0.3M74.8 73.1l-1.2 0.0M70.7 81.8l1.1 0.2M120.7 76.1l0.5 1.1M87.3 3.5l-0.8 1.5M133.7 61.3l0.7 0.7M6.3 33.9l-0.4 1.5M13.4 82.4l-0.3 0.2M62.7 67.5l-0.5 0.1M53.7 46.5l-1.0 0.5M53.2 24.9l1.0 0.5" stroke="#0000a0" stroke-width="1.8"/>
<path d="M30.7 40.9l0.7 0.5M47.3 10.5l-0.3 0.1M12.9 53.8l-0.1 0.0M36.8 21.2l1.0 0.8M90.5 13.6l-0.0 0.0M63.7 29.0l-1.8 0.7M8.9 87.1l1.9 0.7M64.9 82.1l0.0 0.0M145.8 86.6l0.2 0.1M102.0 63.0l0.2 0.2M49.3 55.3l0.4 0.5M118.3 16.9l-1.7 0.9M40.7 66.4l-0.7 0.3" stroke="#0000a0" stroke-width="2.0"/>
<path d="M16.0 71.3l-0.1 0.1M139.3 0.8l-0.5 1.4M36.3 42.1l-0.7 0.0M49.7 37.3l0.0 1.1M37.3 57.6l-0.1 0.5M166.2 9.9l-0.3 0.1M31.2 47.4l0.7 0.5M162.5 83.8l1.4 0.7M129.5 84.0l0.3 0.9M52.5 86.2l-0.0 0.4M120.9 66.3l-1.6 0.2M116.9 42.1l-0.7 0.8M11.5 86.8l-1.6 0.3M130.1 45.8l-0.5 0.0M87.8 16.0l-0.1 0.4" stroke="#0000b0" stroke-width="1.5"/>
<path d="M151.7 79.2l-1.2 1.1M161.5 26.4l1.0 1.0M130.4 13.3l0.8 0.2M109.8 67.4l0.3 0.9M165.8 60.3l-0.5 0.6M126.9 70.6l1.6 1.1M49.2 1.5l0.0 0.7M99.0 58.2l0.1 0.1M100.0 81.9l0.2 0.5M83.7 37.6l0.1 1.2M140.1 14.5l-0.3 0.5M6.3 20.2l0.9 1.2M105.1 72.5l0.2 0.2M90.9 47.0l0.7 0.2" stroke="#000080" stroke-width="1.9"/>
<path d="M35.0 16.6l0.7 0.2M2.9 43.3l0.6 0.4M105.6 50.5l1.1 1.9M132.0 79.9l0.1 0.2M36.1 53.1l-1.0 2.0M117.1 62.1l0.6 0.7M167.7 82.5l0.1 0.1M109.1 88.6l-1.4 1.5M135.3 60.9l-0.4 0.8M49.0 38.8l-1.6 1.5M69.7 8.3l-0.4 0.8M23.9 11.6l0.4 1.8M54.1 15.9l-0.7 0.9M122.5 38.5l-0.3 0.0M81.9 83.3l2.2 0.2M22.0 27.7l-0.0 0.0" stroke="#0000f0" stroke-width="2.1"/>
<path d="M167.6 81.2l-0.4 0.0M48.1 4.2l-0.0 0.4M58.3 38.4l-0.5 0.2M0.2 49.3l1.1 0.3M155.9 3.8l-0.6 1.0M113.0 39.3l0.2 0.3" stroke="#0000f0" stroke-width="1.2"/>
<path d="M108.7 63.1l2.2 0.2M167.1 39.0l-0.6 0.4M24.5 41.0l0.1 0.1M15.9 30.1l-0.3 0.3M134.9 9.9l0.5 0.7M136.3 8.8l0.4 0.3M132.4 30.4l0.5 0.7M19.9 42.8l-0.1 0.1M69.6 27.3l0.1 1.0M142.1 89.0l-0.1 0.3M8.5 43.2l0.5 1.5M132.9 22.3l0.2 0.1M4.6 47.3l-0.8 0.3M122.8 62.3l-1.5 0.4M16.4 47.9l0.9 0.3M14.9 77.6l-0.3 0.6M25.9 32.9l-1.4 0.6" stroke="#000060" stroke-width="2.0"/>
<path d="M159.9 37.9l0.5 1.0M6.3 37.2l-1.8 0.2M93.4 21.8l0.7 1.6M30.7 43.8l0.8 0.1M136.6 40.9l1.3 0.9M60.8 85.6l-0.7 0.7M59.5 14.4l0.2 0.9M108.0 9.4l-0.5 1.6M97.9 46.2l0.2 0.7M117.7 29.0l-0.1 0.5M118.9 78.5l-0.5 1.0M38.6 22.0l-0.4 1.1M79.7 12.7l-0.1 1.0M23.3 45.7l-0.1 0.4M62.6 82.2l1.3 0.8M99.8 62.7l0.4 1.1M93.4 14.4l-0.8 1.3M132.6 69.9l-0.0 0.2" stroke="#0000f0" stroke-width="1.7"/>
<path d="M8.9 28.4l-0.7 0.8M23.1 43.0l0.6 0.2M117.8 84.4l0.1 0.1M168.9 75.5l0.5 1.4M140.2 51.1l-0.5 1.2M169.2 44.1l0.1 0.1M100.1 46.8l-0.9 0.5M41.4 19.6l0.7 1.6M27.0 52.3l-0.9 0.4M39.9 11.1l-1.5 0.3M28.5 60.0l0.2 0.3M125.8 40.6l-0.1 1.4" stroke="#0000f0" stroke-width="1.6"/>
<path d="M102.1 10.4l0.7 0.5M119.6 84.2l-0.0 0.0M17.8 81.9l-1.3 0.2M165.8 0.3l-1.2 1.1M18.4 37.2l-1.5 1.2M116.5 46.8l-1.2 0.9M84.0 24.2l0.1 1.2M42.3 17.9l0.2 0.4M144.2 43.8l-0.6 0.0M106.0 75.1l0.4 0.0M10.6 75.7l1.1 0.3M1.2 36.9l0.2 0.2M7.9 76.2l1.8 0.2M24.3 36.3l-0.2 0.2M81.2 18.9l0.0 1.5M103.0 65.9l0.3 0.6M83.9 15.4l0.1 0.9M140.3 37.6l0.4 0.9M8.5 2.6l-0.2 1.2M67.6 64.9l0.7 0.3M8.8 17.9l1.4 0.4M160.0 6.1l1.1 0.9M31.9 88.8l-0.2 0.2M15.6 84.9l1.4 1.4" stroke="#0000d0" stroke-width="1.8"/>
<path d="M32.2 25.1l-0.0 1.5M4.6 3.4l-0.3 0.3M29.4 46.8l0.4 0.8M96.0 58.5l0.2 0.0M64.0 57.9l-0.9 0.3M148.4 16.6l0.2 0.4M54.1 3.9l0.8 0.7M31.9 71.7l0.1 0.2M104.1 80.7l0.9 0.4M102.5 48.8l-0.2 0.6M100.7 23.6l-1.0 0.4M80.1 18.1l0.4 0.5M33.1 47.8l0.0 0.0M8.5 63.2l-0.9 0.5M123.2 50.6l-0.2 0.2M37.7 56.2l0.0 0.0M152.9 68.0l-0.4 0.4M67.7 43.7l0.0 0.4M135.4 16.1l-0.1 0.4M85.5 78.3l-0.1 0.0M67.9 27.4l0.7 0.1M50.4 22.7l-0.8 0.4M149.1 46.9l-0.8 0.4M111.1 24.7l-0.3 1.5" stroke="#0000b0" stroke-width="1.4"/>
<path d="M154.9 79.1l0.0 0.1M26.8 37.1l0.6 0.2M61.4 24.7l0.1 0.2M130.8 29.2l-0.5 0.9M32.7 30.2l-0.3 1.0M5.0 43.3l0.5 1.0M41.6 24.1l-0.5 0.3M79.2 47.9l-1.0 0.5" stroke="#000080" stroke-width="1.1"/>
<path d="M27.2 21.1l0.5 1.1M5.4 16.2l-1.1 2.1M103.0 71.6l-1.4 0.5M155.7 54.1l2.0 1.2M125.4 56.1l-1.8 1.6M146.1 49.2l0.0 0.1" stroke="#0000f0" stroke-width="2.3"/>
<path d="M62.4 58.8l-0.1 0.8M75.7 77.1l0.3 0.6M38.9 69.0l-1.1 0.6M150.9 59.2l1.0 1.4M22.0 79.4l-0.7 0.6M45.4 34.3l-1.0 2.2M145.4 80.0l-0.0 0.2M4.9 32.4l0.6 0.7M10.2 85.6l1.6 0.7M80.5 15.9l0.5 0.3" stroke="#0000b0" stroke-width="2.3"/>
<path d="M139.8 16.5l0.1 1.2M51.4 65.2l0.5 0.3M34.3 77.3l0.1 0.1M164.8 42.5l-1.6 0.4M33.2 89.5l0.7 1.4M68.1 25.7l-0.2 0.0M118.9 53.0l0.1 0.6M46.2 16.9l-1.4 0.3M3.0 19.8l0.4 0.1M49.0 25.7l-0.3 0.2M58.9 8.4l-1.7 0.5M167.6 40.2l-0.8 1.1M79.1 32.9l-0.6 0.5M47.9 7.7l0.1 0.1M64.5 67.3l-0.8 0.1M13.8 40.7l-0.5 0.1M61.8 2.5l-0.2 0.1" stroke="#0000f0" stroke-width="1.9"/>
<path d="M61.2 32.9l0.2 0.6M51.5 18.5l0.1 0.2M61.2 41.8l-0.4 1.0M149.9 60.1l-1.2 0.3M141.7 2.7l0.3 0.5M146.1 61.9l0.0 0.1M143.0 19.7l0.8 1.1" stroke="#0000a0" stroke-width="1.5"/>
<path d="M9.8 14.3l-0.0 0.0M20.7 69.7l0.9 0.9M113.4 0.4l-0.2 0.1M168.0 66.4l-1.2 0.0M86.2 27.8l-0.1 0.4M56.5 10.5l0.8 0.4M162.9 69.7l-0.0 0.5M91.2 88.2l1.2 0.1M92.9 54.2l-1.0 0.3M67.1 1.0l-0.6 0.0M35.4 66.4l0.3 0.2M3.9 84.3l-0.2 1.3M131.0 18.6l-0.4 0.1" stroke="#000080" stroke-width="1.5"/>
<path d="M66.7 30.4l0.0 1.7M118.7 48.0l0.4 2.4M65.1 51.2l-0.4 0.1M161.0 78.8l1.6 0.8M141.5 46.4l-2.0 1.2M32.2 0.1l-1.9 0.1M51.2 49.6l-0.5 2.2M18.8 62.1l-0.1 0.2M151.1 36.6l-0.0 1.6M140.4 49.8l2.4 0.8M114.5 32.8l1.7 0.8" stroke="#000060" stroke-width="2.3"/>
<path d="M108.3 47.1l0.4 1.7M120.5 46.8l-1.6 1.2M135.9 74.5l2.1 0.7M95.5 25.2l-0.6 0.3M64.1 62.4l0.6 2.0M10.0 88.7l-0.5 0.6M81.1 25.8l0.7 0.9M127.5 75.3l0.1 0.1M4.0 78.6l0.8 1.4M125.6 32.2l1.4 0.3M58.1 37.9l-0.0 0.1M58.6 69.2l-1.5 0.7M144.7 58.0l0.6 0.1" stroke="#000080" stroke-width="2.0"/>
<path d="M135.6 34.6l0.6 0.7M53.2 55.9l-0.1 0.5M158.0 22.6l0.1 0.2M87.6 52.6l-0.1 1.6M53.3 44.8l1.4 0.2M157.9 7.8l1.8 0.2M43.1 81.3l-0.1 0.8M100.4 68.6l0.3 0.9M81.9 35.8l-0.7 0.0M33.8 34.1l-0.1 0.1M76.5 32.0l1.0 1.1M49.3 44.0l-0.1 0.5M137.0 58.7l1.4 0.3M50.3 70.6l0.4 0.9M136.1 35.1l-1.5 0.3M121.5 22.7l-0.5 1.4M69.9 63.8l-0.2 0.1" stroke="#0000d0" stroke-width="1.7"/>
<path d="M139.1 7.4l1.1 0.3M150.9 50.9l0.9 0.6M65.9 27.0l-0.4 0.7M54.4 52.4l-0.7 0.4M67.5 79.8l-0.7 1.0M52.5 53.3l-0.2 0.1M146.4 30.8l0.8 0.3M114.6 87.7l-0.5 1.1M144.7 33.2l-0.4 1.1M146.0 49.9l0.9 0.6M125.1 33.8l0.6 0.3M17.5 83.1l-0.2 0.9M73.0 79.8l0.6 1.1M94.6 10.4l1.0 0.4M163.7 24.2l0.1 0.0" stroke="#000080" stroke-width="1.4"/>
<path d="M133.6 37.5l-0.2 0.1M52.1 44.9l0.2 2.4M115.8 46.8l-0.3 0.3M124.8 51.1l-2.1 0.5M65.0 30.7l-0.0 0.1M143.7 55.5l-0.2 0.0M94.7 87.8l0.0 1.1M168.1 17.7l-0.0 0.1M164.5 32.4l-0.5 2.0M27.8 20.8l0.2 2.2M60.6 14.9l-0.3 0.3" stroke="#0000a0" stroke-width="2.2"/>
<path d="M12.6 12.6l-1.0 1.0M18.7 84.6l-0.1 0.0M161.0 85.0l0.2 0.1M35.8 65.7l1.7 0.8M2.5 76.1l-0.2 0.9M100.4 41.2l0.9 0.0M154.1 15.6l-1.2 0.1M109.7 12.1l1.8 0.4M22.1 38.6l0.8 0.6M97.3 52.1l-1.4 0.5M61.5 13.4l-0.6 0.8" stroke="#0000d0" stroke-width="1.9"/>
<path d="M25.7 56.5l-1.8 0.3M19.9 10.3l-0.1 0.8M90.1 28.5l-0.4 2.3M54.8 12.6l0.2 0.3M64.4 5.9l0.3 0.2M76.9 33.8l-1.8 1.5M107.5 55.4l-0.0 0.1M123.8 5.5l1.3 0.1M26.4 88.8l1.8 0.8M82.5 42.5l0.9 1.5M168.2 33.7l-1.2 0.1M76.7 19.2l0.2 0.2M67.1 71.5l-0.2 0.4" stroke="#000080" stroke-width="2.2"/>
<path d="M133.8 33.5l-0.5 1.8M116.3 37.7l-0.8 0.2M156.4 9.7l0.3 0.4M78.3 42.7l-0.1 0.5M125.0 14.0l0.2 0.2M98.8 36.6l0.7 0.8M41.3 85.7l-0.2 0.3M82.1 75.8l-0.2 0.3M78.1 40.1l-0.4 1.6M78.3 83.5l-0.2 2.0M15.0 81.8l-0.0 0.0M158.2 52.0l0.3 0.7M60.9 23.2l-0.0 0.2M121.5 62.6l1.7 0.9M162.7 72.9l1.4 1.0" stroke="#0000a0" stroke-width="1.9"/>
<path d="M44.5 71.9l-0.3 1.2M130.2 18.0l0.1 0.3M166.1 83.4l0.6 0.6M160.3 25.6l0.4 0.8M54.1 57.5l0.2 0.0M62.8 85.0l0.5 0.4M33.9 72.4l0.1 0.4M141.8 3.9l0.0 1.0M140.0 47.9l-0.0 0.0M46.3 52.9l0.3 0.2M85.8 62.3l-0.8 0.2M82.9 39.5l-0.0 0.2M133.9 87.9l-0.6 0.6M122.8 25.2l0.2 0.2" stroke="#000060" stroke-width="1.2"/>
<path d="M130.4 46.7l0.4 0.4M12.2 44.7l-1.1 0.1M70.7 44.3l-0.2 0.1M51.0 45.7l0.7 0.3M77.3 38.9l-0.6 0.1M50.5 11.3l0.2 1.0M81.2 18.8l-0.0 0.5M10.6 10.8l0.5 0.2M45.4 46.8l-0.6 0.8M63.1 21.9l0.3 0.6M141.0 85.1l-0.1 0.9M8.4 31.5l1.1 0.5M112.5 86.3l-0.5 0.8" stroke="#0000d0" stroke-width="1.2"/>
<path d="M91.1 72.1l-1.4 0.8M18.3 88.9l1.3 1.1M43.7 33.1l0.4 0.8M5.3 38.9l-1.2 0.3M48.2 26.7l1.1 0.1M70.9 14.2l0.3 0.1M134.2 70.4l-0.4 0.0M122.0 37.3l0.3 0.2M7.3 49.6l1.1 0.7M61.4 47.5l0.0 0.5M148.9 83.7l1.3 0.3M140.3 32.0l-0.9 1.5" stroke="#000080" stroke-width="1.6"/>
<path d="M142.1 68.5l0.2 0.0M56.8 31.2l0.6 0.7M0.2 0.1l0.3 0.3M4.3 20.6l0.2 0.0M152.9 71.5l0.6 0.3M84.0 40.2l0.8 0.1M150.7 73.8l-0.2 0.1M65.1 7.8l-0.5 0.6M92.2 89.5l0.2 0.2" stroke="#000060" stroke-width="1.1"/>
<path d="M68.8 87.0l-0.7 0.1M55.6 4.9l-0.2 0.6M70.4 86.1l0.3 0.0M133.9 25.2l1.0 0.2M5.8 80.0l-0.9 0.1M109.2 51.6l-0.0 0.2" stroke="#0000f0" stroke-width="1.1"/>
</g></svg>
<svg x="21.8" y="487.4" width="169.2" height="88.2" viewBox="0 0 169.2 88.2" overflow="hidden">
<rect width="169.2" height="88.2" fill="#000"/>
<filter id="b12" x="-10%" y="-10%" width="120%" height="120%"><feGaussianBlur stdDeviation="0.55"/></filter><g filter="url(#b12)" fill="none" stroke-linecap="round">
<path d="M80.3 58.0l0.3 0.0M151.2 45.6l-0.4 0.9M156.0 53.4l-0.1 0.6M161.6 56.9l-1.4 0.5M132.5 50.8l-1.2 0.1M140.6 88.1l0.5 0.1M29.0 40.6l0.8 0.0M74.6 62.0l-1.3 0.1M113.1 21.6l0.3 0.4M107.2 34.8l0.3 0.3M28.8 43.2l1.1 0.7M53.4 52.6l0.4 1.0M129.6 35.7l-0.2 0.3M164.9 52.4l-1.7 0.4M148.0 14.7l-0.2 1.6M89.9 74.7l0.4 1.7M117.0 52.1l0.0 0.3M35.7 9.2l-0.0 0.8M131.0 46.7l-0.2 0.2M148.4 75.2l-0.5 0.1M153.2 24.2l1.3 0.3" stroke="#0000e8" stroke-width="1.7"/>
<path d="M81.6 56.7l1.1 0.9M111.9 12.8l-0.3 0.1M28.0 37.2l-0.1 0.1M75.5 53.1l1.1 0.3M54.8 7.5l0.0 0.2M163.2 76.0l-0.6 0.2M72.9 13.5l0.9 0.4M85.1 74.9l-0.1 0.6M162.1 75.6l-0.8 0.0M5.5 84.8l-1.6 0.2M154.8 7.6l1.1 0.2M95.7 45.0l0.4 0.0M66.6 77.9l0.3 0.3M106.1 25.3l0.5 0.4M23.8 68.1l0.0 0.3M150.3 10.6l-0.5 1.2M26.2 79.1l-0.1 1.0M129.4 86.1l-0.0 1.0M132.3 77.0l-0.4 0.1M158.0 21.9l-0.4 1.5M118.1 22.3l-0.0 1.5M14.5 9.2l-0.5 0.1M130.1 70.6l-0.1 0.6" stroke="#0000c8" stroke-width="1.5"/>
<path d="M97.5 17.6l-0.8 1.2M101.4 59.9l0.1 0.1M60.6 80.9l-0.6 0.5M5.3 67.4l1.6 0.1M85.1 43.5l-1.4 0.0M103.3 6.3l-0.9 0.8M10.9 51.0l0.6 0.5M126.7 58.4l0.0 0.1M108.6 42.0l-0.1 0.1M84.8 2.4l0.0 0.5M97.9 28.1l-0.0 0.1M86.7 22.7l-0.1 0.2M163.6 14.6l0.0 0.0M97.4 22.6l-0.3 0.1M86.9 43.5l-0.7 1.0M96.0 13.2l-0.5 0.6M127.1 63.7l-1.4 0.5M162.9 14.0l-0.6 1.2M140.8 72.2l-1.2 0.3M107.9 69.4l-0.0 0.9M126.1 38.5l0.8 0.3M8.3 2.8l0.1 0.1M98.6 5.9l1.5 0.8M82.2 6.1l0.5 0.2M5.6 20.5l0.5 0.0" stroke="#0000c8" stroke-width="1.6"/>
<path d="M3.1 5.4l1.1 0.3M2.9 68.4l1.2 0.7M21.5 47.7l1.2 1.2M73.2 38.6l-1.2 0.6M97.0 19.3l1.0 1.2M62.0 30.3l0.0 1.5M118.0 86.0l1.3 1.4M147.0 30.9l-0.8 0.5M44.7 77.6l0.1 0.1M28.5 62.1l-0.0 0.0M127.9 21.9l0.5 0.2M120.3 21.9l-0.3 1.2M3.7 45.6l-0.8 0.4M110.3 61.4l-0.8 0.9M123.3 62.9l-0.9 0.6M55.3 22.9l-0.0 0.0M26.6 26.6l-0.2 0.0M155.9 86.8l1.1 0.5M83.7 37.6l0.3 0.6M124.2 48.1l-0.3 0.1M125.5 23.6l-0.1 1.1M43.4 65.2l1.2 0.5M43.4 4.7l2.0 0.1" stroke="#000078" stroke-width="2.0"/>
<path d="M160.2 9.9l0.1 0.2M34.3 83.8l0.9 0.6M138.6 72.0l0.3 1.1M26.0 86.6l-0.9 0.2M107.0 78.2l-0.4 0.3M119.6 80.8l1.2 1.0M150.1 65.1l0.1 1.1M121.4 56.9l-0.3 1.2M35.5 85.2l-0.1 1.5M50.4 14.3l-1.4 0.2M87.4 34.9l0.2 0.0M24.3 52.2l1.3 0.8M71.4 8.4l0.5 0.1M46.1 12.9l-0.3 0.6M103.1 55.5l0.1 0.0M58.1 85.3l0.2 1.6M163.3 43.4l-0.7 1.1M10.0 8.2l-1.1 0.8M68.7 18.5l0.3 0.8M22.0 84.6l0.5 0.6M55.7 43.3l0.2 0.4M16.1 69.9l-0.1 0.0" stroke="#000058" stroke-width="1.5"/>
<path d="M94.4 86.1l-0.0 1.2M10.1 11.9l-1.6 0.1M70.9 27.5l-1.3 0.8M20.5 67.2l0.4 0.8M6.0 20.4l0.1 2.0M99.1 48.9l0.4 0.5M60.6 42.8l-0.6 1.3M103.4 67.6l-0.4 1.5M45.3 51.5l0.9 2.0M110.5 38.8l-0.6 0.9M25.5 84.0l0.3 0.1M3.4 42.6l0.7 0.8M27.5 53.1l0.2 1.1M135.7 18.0l-0.1 0.2M138.8 43.0l0.4 0.8M81.9 17.4l-0.0 0.1M154.4 61.2l0.9 0.6M93.7 24.7l-0.0 1.1M45.1 51.9l-0.8 0.3M113.2 31.0l-1.6 0.2M120.6 46.3l1.2 0.6M2.6 87.9l-1.4 1.6M134.6 70.4l-0.4 1.1M26.1 33.9l0.4 0.6" stroke="#0000c8" stroke-width="2.0"/>
<path d="M67.8 36.9l0.3 0.8M82.1 5.0l-0.8 0.3M142.0 16.3l0.7 1.2M34.7 7.5l-0.1 0.3M123.7 33.1l0.1 1.6M4.3 68.8l1.6 0.2M125.2 81.5l-0.9 1.6M107.5 15.3l0.1 1.1M69.9 38.3l0.7 0.9M2.2 16.6l1.0 0.7M148.1 25.6l-0.3 0.9M140.1 76.8l-0.3 0.0" stroke="#0000c8" stroke-width="1.7"/>
<path d="M108.4 7.3l0.7 0.8M17.4 48.5l0.9 0.1M140.8 1.7l0.1 0.6M110.0 57.3l0.6 0.4M52.0 55.6l0.7 0.8M65.8 55.8l-0.2 0.7M19.4 63.7l-0.2 1.1M99.0 87.2l-0.2 0.2M127.5 65.1l0.1 0.4M16.8 27.4l-0.9 0.9M156.1 68.8l0.2 0.1M118.7 60.5l-0.6 0.3M88.5 19.4l0.4 0.1M129.2 33.4l0.1 0.1M148.6 60.2l-0.5 0.5M28.0 34.0l-0.1 0.1M60.3 5.0l-0.6 0.4M112.8 56.2l-0.1 1.3" stroke="#0000e8" stroke-width="1.2"/>
<path d="M146.5 34.0l0.2 0.3M38.2 48.0l-0.1 0.0M27.6 63.1l0.2 0.1M169.0 9.3l-0.9 0.4M9.7 45.3l0.5 0.0M101.8 78.9l-0.4 0.2M57.4 44.8l0.9 0.1M166.6 68.0l-0.6 0.8M166.7 2.0l-0.1 0.1M94.4 79.5l0.1 0.6M3.6 30.9l-0.6 0.8M15.3 7.3l0.0 0.1M104.2 20.4l0.0 1.2M153.6 6.6l-0.9 0.3M114.7 46.4l0.3 0.1M17.2 75.5l-0.1 0.3" stroke="#0000e8" stroke-width="1.3"/>
<path d="M86.5 71.5l-0.0 0.0M108.0 56.2l-0.8 0.1M163.1 68.6l0.1 1.1M129.2 55.2l-0.0 0.2M16.8 26.6l-1.0 0.9M18.8 47.4l-0.0 0.0M63.1 59.2l0.2 0.2M9.8 47.9l0.5 1.0M98.3 71.5l0.9 1.2M1.5 37.0l-1.0 0.8M65.3 47.8l-0.0 0.1M163.1 36.0l-1.3 0.6M81.3 35.6l0.8 1.1M130.2 73.0l0.4 1.3M138.6 55.4l0.8 0.9M39.7 43.4l-0.5 1.6M95.0 29.5l0.4 1.0M25.5 70.2l-0.1 0.4M35.9 25.1l-0.7 0.3M160.4 20.8l-0.3 0.0" stroke="#000078" stroke-width="1.6"/>
<path d="M5.5 2.3l0.1 0.0M76.3 8.0l1.5 0.9M125.5 17.4l-0.0 0.0M80.1 54.1l1.7 0.7M135.8 12.7l-1.1 0.9M122.0 46.5l0.9 0.2M132.4 6.4l1.4 1.0M99.4 20.5l-0.2 0.1M69.7 64.5l0.7 0.7M50.6 16.6l0.1 0.1M158.7 1.3l-1.6 0.3M87.1 74.2l-0.3 0.3M93.6 6.0l-0.7 0.6M45.4 26.5l-0.1 0.0M90.5 82.9l1.1 1.4M39.2 81.9l-0.9 1.2M126.0 22.0l-0.5 0.1M101.3 26.4l-0.3 1.0M128.2 60.6l0.0 0.0M16.9 66.9l0.5 0.7M154.1 63.8l-0.2 1.7M85.8 14.3l-1.2 1.4M5.7 65.3l0.4 1.1" stroke="#000058" stroke-width="1.7"/>
<path d="M84.3 53.1l0.4 0.9M62.3 32.4l-0.9 0.9M4.6 47.0l-0.1 0.8M98.3 46.9l-0.9 0.2M110.0 75.9l0.2 0.0M146.8 17.2l0.3 0.7M141.1 44.8l-0.4 0.3M24.8 15.4l0.0 0.2M19.5 29.6l-1.6 0.6M92.2 28.8l1.5 0.4M133.9 69.1l1.5 0.5M51.9 86.1l0.3 0.9M86.9 10.6l1.4 1.2M90.4 36.1l-0.7 1.0M97.7 59.5l0.9 0.2M83.4 81.2l-0.7 0.4M103.4 51.1l0.2 0.2M36.2 22.9l0.2 1.0M21.9 13.7l-0.9 0.3M63.2 67.6l0.3 1.5M59.0 28.3l-0.1 0.3M159.8 87.7l1.5 1.3" stroke="#0000e8" stroke-width="1.8"/>
<path d="M47.7 42.0l-1.1 0.2M67.0 48.5l0.4 1.1M49.6 60.0l-0.1 1.2M69.1 78.9l0.4 0.0M145.7 66.1l0.3 2.1M164.5 84.0l0.1 0.0M0.7 45.7l-0.8 1.5M43.9 61.3l-0.1 0.7M110.2 34.1l-0.0 0.0M82.3 46.7l0.9 1.1M85.8 73.9l0.1 0.1" stroke="#000098" stroke-width="2.1"/>
<path d="M78.6 48.4l0.8 0.6M50.1 45.5l0.6 1.0M117.9 58.5l-1.1 0.4M37.8 53.6l-0.3 0.3M130.0 86.8l0.4 1.2M23.1 33.1l-0.0 0.3M18.7 75.1l-0.2 0.1M167.2 0.0l-0.2 0.4M27.0 11.5l0.3 0.6M137.1 31.8l0.4 0.3M85.9 79.8l0.3 0.5M157.7 60.5l0.8 0.2M48.4 50.9l-1.1 0.4M47.9 62.8l-0.2 0.5M143.0 48.8l-0.1 0.2M98.4 50.2l-0.0 0.0M94.3 51.1l0.9 0.1M98.1 25.7l0.3 0.2M129.3 62.5l-0.3 0.4M70.4 78.0l0.9 0.7" stroke="#000058" stroke-width="1.2"/>
<path d="M1.1 23.7l0.5 0.5M140.6 46.3l0.2 0.9M40.2 47.6l0.9 1.0M150.4 46.4l-0.7 1.5M28.1 72.7l0.1 0.1M162.3 77.2l-1.8 0.2M95.8 29.4l-1.5 0.5M104.2 17.2l1.8 0.0M60.4 57.1l-0.1 1.3M151.6 51.0l-0.1 0.2M4.2 50.7l0.4 0.2M148.0 29.9l0.7 0.6M59.7 24.7l0.0 0.0M47.7 58.1l-0.5 0.1M116.6 78.4l1.4 0.2M49.3 73.4l-0.1 0.2M127.3 52.3l0.4 1.1M61.9 85.0l0.9 1.2M72.1 34.2l0.6 0.3" stroke="#0000c8" stroke-width="1.8"/>
<path d="M84.8 21.8l-0.1 0.4M115.6 61.2l0.3 1.0M30.7 72.2l-0.0 0.2M1.9 49.3l-0.0 0.0M49.6 74.1l0.4 0.0M96.7 62.6l0.3 0.9M27.9 39.8l0.2 0.1M22.1 55.4l0.2 0.2M166.4 49.4l-0.5 0.1M168.3 48.0l0.7 0.3M58.0 63.5l1.0 0.2M64.3 9.6l0.3 0.1M142.8 81.0l0.0 0.1M127.9 80.0l0.7 0.6M69.9 41.3l0.1 0.1M119.5 86.2l-1.1 0.5M96.3 72.2l-0.1 0.0M134.2 15.0l0.4 1.0M75.1 50.5l-0.2 0.2M32.0 3.0l-0.0 0.4M106.4 84.3l0.7 0.9M8.7 5.5l-0.2 0.4" stroke="#000098" stroke-width="1.1"/>
<path d="M4.0 28.4l-0.7 1.6M57.1 5.2l-1.4 0.1M17.1 22.1l-1.1 1.8M90.1 15.6l-1.8 0.1M157.1 68.4l-1.2 0.5M162.6 32.7l-1.5 1.3M35.4 50.2l-0.5 0.3M111.0 80.3l-0.2 0.0M114.7 36.7l0.5 0.2M116.7 75.4l-1.4 0.3M118.4 66.9l-0.2 0.5M56.7 22.5l-0.1 1.8M72.2 67.9l-0.2 1.3M44.8 59.6l-0.9 0.4M4.4 27.6l-1.0 0.2M5.0 86.4l-0.8 0.2M41.4 79.4l0.0 1.5M152.0 71.2l0.1 0.5M147.1 6.1l-0.6 0.3M26.8 32.0l-0.0 0.4M56.0 18.3l-0.0 0.1M15.3 31.3l-0.2 0.4" stroke="#000098" stroke-width="1.9"/>
<path d="M132.7 44.3l-0.3 0.5M31.5 13.3l0.2 0.0M103.8 46.1l-0.1 0.3M131.8 36.7l-1.0 0.0M128.2 55.3l-0.7 0.8M86.1 77.3l-0.0 0.1M163.3 65.6l0.2 0.3M120.6 66.1l0.0 0.4M100.6 68.2l1.0 0.1M112.2 72.7l-0.2 0.7M20.4 2.7l0.2 0.5M53.5 88.0l-0.7 0.4M139.0 62.7l1.0 0.9M42.6 67.9l0.2 0.2M22.6 53.3l0.0 0.3" stroke="#000078" stroke-width="1.5"/>
<path d="M151.3 14.3l0.8 1.0M69.1 55.3l-0.9 0.7M71.7 47.9l0.3 0.1M76.7 46.8l-0.2 0.2M139.8 27.4l0.1 0.1M113.6 22.8l0.4 1.1M39.6 55.8l0.1 0.0M28.3 60.8l0.3 0.5M23.8 1.5l0.3 0.1M74.2 73.7l0.3 0.7M87.4 28.8l0.3 0.7M134.6 22.1l0.6 0.3M14.1 76.2l-0.4 0.6M64.0 66.6l-0.1 0.6M144.1 42.5l1.1 0.5M33.2 63.8l-0.1 0.5M77.7 69.4l-1.2 0.6M82.6 16.2l0.2 0.4M78.5 82.1l0.0 0.0M9.9 35.8l0.2 0.9M13.6 41.1l-0.0 1.2M90.7 85.6l-0.5 0.1M28.3 58.4l0.4 1.3M159.0 34.4l0.8 0.3" stroke="#000058" stroke-width="1.3"/>
<path d="M108.3 39.3l-0.1 1.5M78.6 53.5l0.1 0.5M49.6 31.4l-1.7 0.6M21.3 18.3l0.2 0.2M84.9 54.3l-0.2 0.0M136.6 79.4l-1.1 1.0M46.2 69.5l0.6 0.4M8.8 62.9l-0.1 0.0M9.9 6.2l-0.1 1.5M131.6 68.9l-0.9 1.7M63.9 29.5l0.1 0.2M135.5 49.1l0.5 0.9M127.1 39.8l-1.3 1.4M58.5 9.4l1.1 0.9M114.0 7.8l-0.7 1.2M99.4 66.2l0.1 0.8M28.4 72.1l-0.3 0.3M11.2 78.1l0.1 0.0M61.7 61.1l-1.0 0.9M168.8 59.2l0.4 0.6M102.3 32.2l1.9 0.5M104.8 50.3l-0.2 0.2M160.7 69.7l0.2 0.1" stroke="#0000c8" stroke-width="1.9"/>
<path d="M33.9 41.6l-0.4 0.5M159.6 52.8l-0.7 0.3M134.2 20.2l0.7 0.5M163.7 54.9l-0.1 0.1M85.4 55.4l-0.4 0.3M162.9 22.6l0.4 0.9M10.9 79.1l0.2 1.2M107.1 24.2l-1.0 0.2M114.7 85.9l-1.0 0.4M91.2 60.2l0.2 0.2M33.7 18.0l0.4 1.1M8.2 25.7l-0.6 0.7M32.1 27.8l-1.1 0.1M50.9 50.4l-1.0 0.0M90.4 56.6l-0.6 0.4M22.9 68.7l-0.7 0.7M126.1 35.6l-1.0 0.0M10.0 34.5l0.3 0.2M83.0 22.1l-0.5 1.1M132.7 49.2l0.8 0.5" stroke="#0000e8" stroke-width="1.1"/>
<path d="M128.7 36.8l-1.3 1.0M158.0 60.8l1.0 0.4M142.4 7.5l0.2 1.6M129.0 0.3l0.9 0.6M94.3 15.5l-0.4 0.9M50.7 13.6l0.6 0.1M80.9 3.0l0.8 1.4M5.6 60.9l-0.7 0.1M158.2 57.2l0.1 0.0M121.7 0.1l0.2 0.4M90.7 63.5l0.5 0.4M157.5 84.9l0.2 0.1M49.8 40.6l-1.0 0.1M97.7 0.1l-0.5 0.3M3.5 42.3l-1.6 0.3M3.8 26.6l1.1 0.6M36.1 4.1l-1.1 0.5M161.2 30.9l0.5 0.5M86.6 2.6l-0.6 0.3M79.1 40.8l-0.6 0.6M79.4 21.1l1.0 0.8M156.7 69.2l0.6 0.2" stroke="#000058" stroke-width="1.6"/>
<path d="M94.2 86.4l0.6 0.3M75.9 46.5l-0.0 1.5M72.7 68.6l-0.0 0.0M161.8 7.8l-0.2 1.2M66.2 15.7l-0.2 0.1M79.6 57.3l1.1 1.0M120.8 35.3l0.1 1.0M70.6 32.8l0.3 0.8M68.4 55.7l-0.4 0.8M97.2 15.9l1.5 0.3M46.0 30.7l-0.9 0.7M72.6 39.6l0.5 0.1M28.5 60.2l0.1 1.0M51.4 68.9l0.8 0.1M122.6 60.9l0.1 0.1M25.0 37.9l0.6 0.6M77.2 63.4l-0.1 1.0M166.8 60.8l-0.2 0.9" stroke="#0000a8" stroke-width="1.7"/>
<path d="M120.2 79.7l-1.8 0.5M139.6 10.1l0.1 0.1M17.5 83.7l-0.3 0.4M123.0 35.9l-0.9 0.8M38.6 45.1l0.0 0.1M57.1 23.5l-1.6 0.8M53.1 32.4l0.9 1.3M146.4 58.7l0.9 1.2M157.8 45.2l0.1 0.3M137.3 69.0l-0.0 0.0M37.7 70.3l-1.7 0.3M106.3 40.3l-0.6 0.0M168.5 20.0l0.5 1.0M104.1 20.5l0.7 1.2M120.6 50.1l-0.2 0.4M34.1 86.5l0.4 0.1M82.2 61.6l0.9 0.3M81.4 9.6l0.0 0.7M121.1 65.8l-0.1 0.0M92.6 53.8l-1.0 1.3M163.8 14.9l0.1 0.5M34.5 14.2l0.6 0.4M97.6 56.9l1.2 1.5M31.2 62.4l1.1 1.3" stroke="#000058" stroke-width="1.9"/>
<path d="M33.9 81.8l1.2 0.8M17.4 74.4l-1.1 0.1M100.4 51.8l0.2 1.3M56.5 22.7l-0.5 1.1M92.1 48.3l0.6 0.4M165.9 76.7l0.1 0.1M78.6 86.5l-0.7 0.5M108.7 40.8l-0.1 0.7M25.5 4.8l-0.6 0.4M46.4 6.6l0.0 0.2M46.8 70.2l-0.3 1.5M156.6 32.8l0.7 0.1M165.1 80.8l-0.6 0.3M70.3 42.7l-0.4 0.1M166.7 68.4l-0.5 0.0M3.3 32.3l-0.8 1.8M128.4 29.3l0.5 0.3M51.0 87.4l-0.0 0.0M72.8 27.8l0.7 0.8M58.0 53.4l-0.5 0.6M30.7 7.5l0.7 1.5M64.1 3.5l0.2 1.1" stroke="#0000e8" stroke-width="1.9"/>
<path d="M115.9 12.5l-0.2 0.3M74.4 4.6l0.4 0.6M164.3 46.1l-0.9 0.4M151.2 78.0l-0.4 1.1M150.5 14.0l-0.4 1.1M124.9 20.0l-0.7 1.0M82.3 74.6l0.1 1.1M155.4 62.4l0.3 0.2M160.4 27.3l-0.2 1.2M80.5 86.3l0.7 0.2M15.5 10.5l-0.2 0.7M17.3 31.9l-0.1 0.3M85.6 0.6l0.5 0.1M146.4 53.6l-1.0 0.5M70.2 32.5l-0.3 0.2M41.8 49.3l-0.1 0.6M94.2 2.7l-0.2 0.1M108.1 55.6l-0.1 0.0M54.8 28.0l0.0 0.2M115.8 24.1l0.1 0.4M112.5 23.4l-0.0 1.0M125.0 7.1l0.0 0.0" stroke="#0000a8" stroke-width="1.1"/>
<path d="M111.6 82.4l0.0 0.0M159.7 0.7l0.3 0.3M97.9 48.3l-0.3 0.9M13.4 38.4l0.4 1.2M2.5 25.2l-0.1 0.7M67.1 49.0l1.1 0.2M86.2 36.7l0.5 0.4M162.9 2.0l-0.0 0.0M33.5 33.1l-1.0 1.2M45.8 57.4l0.6 0.5M79.9 8.1l-0.1 0.0M39.0 10.0l0.7 0.6M57.4 39.8l-0.0 0.1M123.7 43.0l1.1 0.2M142.2 66.6l-1.0 0.9M45.5 66.4l-1.3 0.8" stroke="#000078" stroke-width="1.4"/>
<path d="M140.7 20.1l0.4 1.3M38.4 62.2l0.2 0.7M110.2 64.7l0.6 0.0M111.2 7.9l-1.2 0.9M122.6 61.9l0.2 1.4M142.7 49.7l0.1 0.1M39.5 5.2l-0.1 0.0M65.0 32.0l-0.7 0.3M99.7 46.6l0.8 1.1M153.6 14.3l-0.3 0.1M150.5 5.4l-1.4 0.9M126.2 87.7l-0.9 0.5M70.3 54.2l0.1 0.3M109.1 58.9l0.6 0.1M14.0 73.2l-1.4 0.6M24.0 17.2l-0.0 0.1M29.8 40.1l1.1 0.3M84.2 88.0l0.2 0.0M116.7 16.0l0.1 1.6M78.4 81.9l0.3 0.3M40.9 49.0l0.1 0.0M60.4 25.6l0.0 0.0M71.7 24.3l-0.1 0.4" stroke="#0000a8" stroke-width="1.6"/>
<path d="M54.3 11.1l-0.5 1.5M134.7 46.5l1.4 1.2M72.9 72.3l-1.4 1.2M38.7 82.3l-1.6 0.4M45.4 42.4l0.6 1.0M48.6 50.5l-0.4 0.0M116.7 1.2l-0.4 0.3M152.4 60.0l0.5 0.9M117.8 43.7l0.1 0.2M142.3 13.5l0.4 0.8M71.9 53.8l-1.3 1.2M40.5 12.4l0.0 0.9M137.4 71.5l0.1 0.2M114.3 29.2l-0.4 0.1M29.5 75.0l-0.6 0.4M166.1 68.6l-0.6 0.3M120.5 49.3l0.3 0.3M167.1 76.1l-0.2 0.1M43.5 1.1l0.9 1.5" stroke="#000078" stroke-width="1.7"/>
<path d="M69.8 54.5l0.2 0.5M8.8 71.2l0.2 0.0M145.1 6.2l-0.2 0.6M141.6 13.0l-0.1 0.6M130.5 72.1l0.5 0.3M132.9 82.9l0.2 0.8M24.8 81.7l-1.0 0.8M90.8 9.3l0.9 0.8M52.6 70.3l-0.7 1.1M33.4 56.1l0.9 0.0M66.5 73.4l-0.0 0.0M2.0 69.8l-0.5 0.7M120.3 86.1l-0.5 0.5M53.3 14.7l-0.0 0.0M114.1 13.8l0.1 0.5M62.1 26.8l-0.3 0.4" stroke="#000078" stroke-width="1.3"/>
<path d="M159.0 71.9l-0.9 0.5M111.7 42.3l0.3 0.1M73.6 76.1l-0.1 0.0M100.6 68.7l-0.9 0.6M93.2 33.3l0.3 0.4M93.6 37.6l0.5 0.7M158.4 80.7l-0.4 0.0M22.6 62.0l-0.3 0.3M36.3 71.2l0.4 0.2M148.0 66.2l-0.3 0.0M154.4 22.2l-0.8 0.8M142.1 31.9l0.2 0.0M64.1 27.0l-0.2 0.1M23.6 43.6l1.0 0.1M48.8 27.8l-0.0 1.3M26.0 75.2l0.7 0.5M102.8 8.0l0.1 0.8M51.8 77.1l0.7 1.0M116.9 21.1l-0.1 0.4M77.0 71.4l0.7 0.2M13.6 19.8l1.0 0.2M13.4 25.2l-0.3 0.4M76.7 66.9l-0.9 0.7M8.1 84.0l-0.2 0.0M139.7 61.4l0.6 0.6M104.0 48.6l0.3 1.2M109.5 53.5l0.8 0.3M52.7 62.4l0.0 0.0" stroke="#0000c8" stroke-width="1.2"/>
<path d="M60.7 64.8l-0.2 0.1M64.3 46.6l-1.2 0.7M155.6 4.1l-0.0 0.1M26.9 35.3l0.0 0.1M84.0 35.2l1.3 0.4M6.1 79.4l-0.5 0.7M163.2 45.5l0.1 0.3M88.7 46.2l0.1 0.1M21.3 28.2l0.4 0.5M150.3 68.0l-0.7 0.0M7.7 59.3l-0.2 0.3M55.4 57.8l-1.0 0.4M9.4 33.2l0.9 0.1M46.8 78.3l0.4 0.8M16.4 77.8l0.0 0.1M69.0 24.3l0.4 0.3M55.4 15.1l0.0 0.1" stroke="#000098" stroke-width="1.3"/>
<path d="M126.7 75.8l-0.1 0.0M167.6 10.5l0.4 0.8M52.1 12.9l-0.5 0.5M65.3 35.2l-0.2 0.2M69.0 65.7l0.0 0.8M118.2 24.8l-1.1 0.9M89.6 56.0l0.2 0.1M125.5 70.4l1.2 1.2M74.1 78.6l-1.7 0.1M95.9 39.6l-1.1 0.8M57.1 19.1l1.0 0.5M157.1 79.1l0.4 0.9M82.3 9.3l-0.3 1.3M164.4 9.6l0.1 0.6M60.5 38.4l-0.1 0.1M159.6 25.7l-0.1 0.7M100.7 15.7l-1.2 0.2M67.9 58.0l-1.4 0.2M119.1 58.2l-0.1 1.2M163.1 28.2l-1.0 0.5" stroke="#000098" stroke-width="1.6"/>
<path d="M92.4 1.9l0.0 0.8M95.1 20.2l-1.7 1.3M160.5 51.0l0.2 1.1M57.0 55.5l-0.1 1.8M135.4 44.3l0.7 0.3M104.0 66.5l-0.9 0.5M18.2 84.2l0.1 0.4M69.7 55.5l0.9 0.6M25.9 45.0l-0.2 0.1M163.5 27.4l-0.3 0.3M42.6 36.0l1.5 0.4M147.1 73.0l0.6 0.5M3.8 80.2l-0.8 1.6M151.2 49.8l0.3 1.9M3.6 17.8l-1.2 1.1" stroke="#000098" stroke-width="2.0"/>
<path d="M121.0 24.6l-1.0 0.5M131.3 67.3l1.5 0.2M109.4 61.8l0.8 0.8M116.2 61.2l-0.0 0.0M20.3 63.5l2.1 0.1M161.6 53.8l2.0 0.2M156.8 34.2l-1.3 1.2M20.7 8.6l-1.7 0.9M46.4 19.0l0.2 0.5M162.8 66.8l0.6 0.1M52.1 37.1l1.5 1.6M10.8 85.0l0.1 0.1M37.7 68.1l-0.1 1.2M113.4 7.3l-0.6 1.4M114.9 5.1l-0.1 0.8M63.5 54.2l0.7 1.8M117.1 68.2l0.4 0.2" stroke="#0000a8" stroke-width="2.0"/>
<path d="M127.6 74.0l0.1 0.0M49.7 42.1l0.8 0.3M168.6 43.9l0.0 0.2M46.8 73.4l0.7 0.0M18.4 75.4l0.3 0.2M61.4 26.0l-0.3 0.1M124.4 34.0l0.1 0.6M127.1 41.5l0.3 0.3M12.0 88.1l-0.0 0.4M151.7 4.1l0.3 0.1M92.3 80.1l-0.4 0.1M39.1 47.7l-0.3 0.0M89.2 71.4l0.0 0.2" stroke="#0000c8" stroke-width="1.1"/>
<path d="M136.3 73.8l-0.0 0.1M34.9 84.2l0.5 0.6M28.8 49.4l0.7 0.6M84.0 60.2l2.2 0.1M48.1 29.6l0.9 0.2M83.7 23.8l-0.2 1.9M61.6 17.8l1.6 0.8M148.9 7.4l-1.5 1.3M9.9 10.4l1.3 1.6M132.6 48.4l1.3 0.1M78.2 63.6l0.0 0.0M23.2 85.3l0.0 0.6M163.3 52.5l0.4 1.7M53.7 81.2l1.4 0.8M55.4 25.6l0.4 1.8M119.5 1.5l0.4 0.0M53.8 15.8l0.1 0.1M60.5 27.9l1.3 0.2M77.0 56.3l-0.5 0.6M20.5 78.4l-1.8 0.2M94.5 2.8l-0.3 0.1M36.4 41.1l-0.0 0.3M101.5 38.9l-0.6 0.4M57.3 56.0l1.3 1.1M55.0 8.9l1.2 0.7M117.1 0.8l-1.4 0.2M72.3 67.4l-0.1 1.1M107.8 8.5l-1.1 1.0M28.7 51.9l0.4 0.3M31.2 24.1l0.9 1.6M72.0 16.4l0.0 0.0M101.8 14.9l0.4 0.4M146.3 26.4l-1.5 0.2" stroke="#000058" stroke-width="2.0"/>
<path d="M104.2 85.2l-1.7 0.3M22.8 43.2l1.4 0.2M20.8 87.4l1.5 0.9M74.4 65.5l-0.0 1.2M120.0 8.1l0.2 0.1M76.3 14.5l-0.1 0.4M92.7 3.7l0.4 0.6M39.5 45.9l0.7 0.3M118.7 35.3l0.8 1.1M3.4 44.7l-1.6 0.3M167.0 12.8l0.7 1.4M165.3 79.4l0.2 1.0M114.7 46.9l0.6 2.0" stroke="#0000c8" stroke-width="2.1"/>
<path d="M50.5 81.5l1.3 0.0M64.2 43.2l1.6 0.8M29.6 52.1l-0.6 1.5M70.9 67.3l0.1 0.2M137.2 23.6l-0.6 1.0M34.0 21.1l-0.6 1.2M86.1 4.5l-0.8 0.4M116.4 82.5l0.3 0.3M103.9 5.4l0.0 0.1M59.5 85.1l-0.2 0.1M40.6 73.9l1.5 0.9M45.0 37.7l-0.1 0.2M159.3 14.7l-0.1 0.0M26.5 52.6l1.5 0.0M6.7 30.7l0.5 0.6M37.2 52.4l0.2 0.5M130.8 71.1l0.4 0.6M156.1 18.0l1.5 0.1M154.9 80.3l0.0 1.1M167.5 53.7l0.8 0.5M168.1 10.4l0.1 0.1M2.4 80.4l0.6 0.6" stroke="#000098" stroke-width="1.7"/>
<path d="M20.8 38.4l0.3 0.5M108.7 3.8l-0.7 0.4M82.9 36.6l-0.1 0.9M133.9 68.0l-0.2 0.7M88.4 64.4l-0.1 1.5M153.6 32.1l-1.2 0.7M139.6 64.8l0.6 1.1M115.1 24.9l0.9 1.0M25.3 11.3l-0.3 1.0M70.9 14.3l-0.1 0.1M70.9 82.7l0.1 1.4M54.2 2.0l-0.7 0.6M44.7 62.1l0.9 1.0M160.6 78.9l0.1 0.1M116.0 11.0l-0.8 0.7M75.0 7.9l-1.0 0.8M58.5 84.9l0.3 0.4M139.2 78.7l0.8 0.7M121.8 78.9l0.7 0.4M167.8 78.4l-0.8 0.1M104.4 73.3l0.2 0.4M54.7 54.7l1.3 0.7M157.3 65.7l0.8 0.7" stroke="#000058" stroke-width="1.4"/>
<path d="M64.6 76.1l0.9 0.6M133.6 34.4l1.9 1.0M102.8 14.8l0.3 1.9M115.1 13.6l-2.1 0.1M115.9 45.0l-1.1 0.9M8.6 29.9l-0.5 0.3M145.9 37.7l-1.5 0.1M19.4 1.3l0.7 0.0M67.9 87.7l-1.0 0.2M83.9 34.7l-1.6 0.2M82.6 38.1l-0.8 0.3M141.5 75.5l-0.6 0.3M94.0 8.6l-0.2 0.4M113.7 16.5l0.0 0.0" stroke="#000058" stroke-width="2.1"/>
<path d="M107.5 54.6l0.3 0.3M90.3 80.0l0.6 0.4M11.0 66.3l0.2 0.1M163.8 50.7l0.1 0.4M163.3 17.3l0.0 0.3M77.0 59.1l-0.1 0.0M164.5 50.8l-0.2 0.7M87.4 68.2l-0.3 0.0M24.3 78.7l0.0 0.3M17.7 5.4l-0.4 0.0M12.9 21.4l-0.2 0.1M164.6 53.9l-0.2 0.2M58.8 41.2l0.2 0.5M65.6 50.3l-0.1 1.0M151.8 84.7l-0.6 0.7M77.1 76.7l0.1 0.2M17.0 32.1l-0.0 0.5M96.4 65.2l0.0 0.1" stroke="#000058" stroke-width="1.1"/>
<path d="M100.8 50.9l0.2 0.4M37.1 33.0l-1.0 0.0M22.1 53.3l0.2 0.2M34.4 68.5l1.0 0.6M97.2 76.0l-0.3 0.4M49.6 59.0l0.3 0.0M56.8 86.7l-0.2 0.0M83.9 19.2l-1.3 0.4M150.6 34.6l0.9 0.4M134.6 36.9l0.8 0.8M44.4 23.0l-0.2 0.1M137.9 46.1l0.3 0.2M136.6 27.5l0.3 0.1M82.1 82.9l0.4 0.7M138.3 52.9l-0.0 0.0M40.9 35.3l0.6 1.3M93.7 43.0l1.3 0.4" stroke="#0000e8" stroke-width="1.4"/>
<path d="M105.0 54.3l0.1 0.3M75.7 59.9l0.5 0.4M1.2 84.3l-1.6 0.9M44.1 77.4l0.2 0.3M93.2 34.3l-0.8 1.0M152.7 61.8l0.5 1.0M73.9 88.0l-0.2 0.3M135.3 57.3l-1.3 1.1M16.1 48.4l0.9 1.4M57.8 4.8l-0.9 0.0M156.1 30.2l-0.0 0.4M3.9 35.7l-0.4 0.1M134.8 33.5l0.2 0.1M110.6 5.4l0.3 0.4M164.5 84.1l0.0 1.6M126.8 4.3l-1.0 0.1M113.9 45.6l-0.7 0.7M28.1 75.1l1.1 0.1M45.1 72.7l1.6 0.8M96.3 87.7l1.0 0.3M128.7 8.0l0.1 0.1M45.4 87.4l0.0 0.1M73.1 22.2l0.1 0.6M33.4 69.0l-0.5 0.0M135.3 64.1l0.7 0.3M62.2 80.3l-2.1 0.2M18.0 21.8l-0.2 0.1M61.8 35.7l-1.2 0.1M60.6 44.8l1.6 0.6M129.0 73.8l0.1 0.7M135.1 65.7l0.6 1.1M21.3 39.0l-0.3 0.5" stroke="#0000a8" stroke-width="1.9"/>
<path d="M22.4 42.7l0.4 0.5M99.9 14.9l0.7 0.3M156.3 18.3l-0.6 0.5M149.8 11.8l-0.3 0.6M59.3 28.6l0.2 0.2M80.6 42.6l-1.1 1.2M71.7 23.2l1.2 0.5M54.3 18.8l-0.3 1.4M107.0 43.5l-0.0 0.0M74.0 34.7l-0.3 0.0M94.6 62.9l-0.8 1.3M120.7 14.2l0.3 0.3M46.7 46.2l0.3 0.5M44.8 63.0l0.6 0.4M135.8 78.8l0.1 0.9M158.1 27.0l-0.0 0.0M164.7 17.7l1.2 1.1M104.7 5.8l1.2 0.3M158.6 74.2l-0.9 1.0M71.7 2.9l0.6 1.5" stroke="#000098" stroke-width="1.5"/>
<path d="M40.5 46.4l-0.5 0.9M130.8 29.1l0.0 0.5M0.9 56.4l-0.2 1.7M141.3 31.9l1.4 1.2M144.0 81.7l-0.6 0.7M69.9 41.1l0.4 0.3M30.4 55.7l-0.8 0.5M89.6 67.0l-0.0 0.2M162.6 87.7l-0.6 0.1M146.1 85.9l0.3 0.5M11.7 33.1l-0.1 0.1M71.2 13.3l-0.2 0.2M80.0 3.1l-1.0 0.6M42.9 69.5l0.9 1.0M60.4 51.3l1.5 1.2M47.1 72.6l0.1 0.4M98.0 66.4l0.5 0.6M73.7 16.4l0.1 0.4M54.8 42.9l0.0 0.4M167.5 74.8l0.9 1.1M164.9 78.5l-0.2 1.2M133.0 42.4l0.5 0.2" stroke="#000058" stroke-width="1.8"/>
<path d="M143.7 30.0l0.2 0.0M20.7 47.0l0.8 0.2M11.7 22.2l0.0 0.1M16.7 30.0l-1.0 0.2M91.1 80.0l-0.5 0.8M22.1 69.8l-0.2 0.1M73.8 82.3l-1.0 0.7M114.6 72.6l-0.3 0.5M32.4 5.7l0.2 0.3M115.7 14.4l0.6 0.6M43.5 62.1l0.5 0.0M72.8 85.9l-0.5 0.2M50.7 36.2l0.7 0.5M167.7 67.4l0.2 0.3M54.8 83.4l-1.1 0.4M14.4 86.4l0.2 0.2M1.8 62.5l-0.2 0.1M81.1 7.1l0.1 0.1M122.7 23.6l0.7 0.5M9.1 81.4l-0.8 0.1M125.0 48.4l0.1 0.3M133.7 16.3l0.7 1.0M157.5 88.0l0.0 0.4M74.1 80.4l1.2 0.2M129.7 65.1l0.1 0.4M65.6 42.4l0.3 0.2M167.4 9.1l-0.1 0.1" stroke="#0000a8" stroke-width="1.4"/>
<path d="M71.2 27.7l0.6 0.1M148.7 63.3l-0.3 0.4M132.5 22.4l0.9 1.0M139.5 57.6l0.6 0.1M85.5 5.1l0.1 0.5M58.4 54.4l-0.0 0.4M148.1 8.1l0.0 0.0M153.6 38.3l-0.4 0.1M15.6 73.4l-0.4 0.8M156.7 15.2l-0.2 0.1M149.4 50.1l-0.0 0.0M134.1 24.4l0.7 0.6M108.5 56.4l-0.0 0.0M37.1 6.7l-0.0 0.0M45.7 4.5l-0.4 1.3M134.1 1.5l-0.4 0.1M95.6 14.8l-0.0 1.3M47.6 68.4l0.9 0.5" stroke="#0000c8" stroke-width="1.3"/>
<path d="M142.0 56.8l0.0 0.0M153.6 23.4l0.5 0.2M80.5 77.2l-1.0 0.9M31.0 1.1l0.6 0.3M65.5 63.3l-1.2 0.6M23.3 68.7l-0.4 0.9M126.3 54.2l0.6 1.2M112.0 75.1l0.9 1.0M32.4 56.0l0.2 0.5M67.5 50.7l-0.4 1.3M114.2 33.2l0.7 0.1M103.0 74.0l0.2 1.4M91.9 15.0l0.1 0.0M110.2 65.5l1.2 0.2M26.1 64.8l0.0 0.4M123.4 54.4l0.1 0.2M84.1 60.0l-0.7 0.1M4.2 60.7l-0.3 0.9M30.5 26.8l0.5 0.4" stroke="#0000e8" stroke-width="1.5"/>
<path d="M67.6 0.7l0.7 0.3M155.9 74.1l0.1 0.1M164.8 70.2l1.1 1.3M48.0 79.7l-0.3 0.3M4.2 46.1l1.0 0.7M76.1 21.1l0.8 1.3M11.4 25.9l-0.7 0.8M101.2 67.1l-0.0 0.3M23.9 25.5l-0.3 1.4M127.9 2.7l0.2 0.4M153.9 1.6l-0.7 0.9M121.7 58.4l0.4 0.0M9.1 21.2l0.2 0.1M11.6 40.5l0.3 1.4M60.6 86.2l0.3 0.6M143.2 43.9l-0.4 1.2M34.8 22.7l0.2 0.8M135.3 40.7l0.5 1.5M121.8 54.2l-0.5 1.3M12.5 68.7l0.1 0.8" stroke="#0000e8" stroke-width="1.6"/>
<path d="M47.4 45.4l-0.1 0.1M147.1 57.3l0.4 0.1M11.7 14.4l-1.3 0.1M130.6 84.2l-0.6 0.9M160.6 2.5l0.2 0.1M113.1 2.6l-0.4 0.3M59.1 29.5l0.7 1.2M42.8 69.3l-0.4 0.0M86.2 27.7l0.0 0.1M1.5 44.2l-0.1 0.4M145.4 15.1l-0.7 0.7M135.8 62.5l0.1 0.9M53.8 7.4l0.4 0.1M52.2 0.6l0.6 1.1M76.8 44.4l-0.3 0.0M137.7 50.5l-1.5 0.3M153.6 85.6l-0.9 1.1M41.6 79.5l0.8 0.1M75.0 83.1l0.2 0.9" stroke="#0000c8" stroke-width="1.4"/>
<path d="M127.2 72.7l-0.4 0.4M72.1 58.8l0.3 0.4M128.3 3.9l0.6 0.4M114.3 81.9l-1.1 1.4M109.9 16.6l0.5 1.6M93.2 80.0l0.4 0.4M126.0 71.2l-0.5 0.9M88.1 86.9l0.2 0.4M123.6 18.0l0.4 0.1M66.5 34.7l0.6 0.8M83.9 40.7l-1.8 0.3M153.5 14.5l0.9 0.9M99.7 67.4l-1.1 1.5M14.0 44.7l1.0 1.1M23.5 53.4l-0.3 0.1" stroke="#000078" stroke-width="1.8"/>
<path d="M105.2 48.9l-0.1 0.7M12.8 29.8l0.3 0.3M149.4 28.5l0.2 0.2M108.1 32.3l0.5 0.2M85.5 51.5l-0.5 0.2M67.2 36.4l-0.5 0.1M145.5 21.9l-0.2 1.1" stroke="#000098" stroke-width="1.0"/>
<path d="M158.5 5.1l-0.6 1.2M110.0 18.8l0.0 0.1M13.4 14.4l-1.3 0.5M25.5 7.0l0.9 0.9M87.1 57.1l0.2 0.0M139.4 27.4l1.0 0.2M46.7 30.6l0.0 0.8M90.3 74.7l0.3 1.1M47.2 33.5l-0.0 0.2M102.2 61.3l0.6 0.5M103.6 41.8l1.3 0.3M112.9 11.2l0.2 0.2M4.7 38.1l-0.1 0.2M4.1 27.2l-1.0 0.1M160.9 60.9l0.1 1.1M89.7 21.1l-0.7 0.5M55.8 49.9l0.0 0.1M18.8 30.7l0.9 0.7M59.5 3.6l-1.2 0.5M106.1 85.9l0.4 1.1M20.4 64.8l0.1 0.1M156.4 66.9l-0.3 0.1" stroke="#0000a8" stroke-width="1.3"/>
<path d="M113.2 43.5l0.3 0.2M13.5 30.3l1.6 0.3M135.3 67.8l-1.8 0.7M120.0 9.4l-0.9 0.8M105.5 21.9l0.7 0.3M160.0 5.4l-0.4 1.1M91.1 72.0l-0.4 0.4M58.7 23.9l-0.1 0.0M13.3 52.7l-0.9 1.0M42.7 8.5l0.5 0.2M102.2 64.8l0.3 0.1M8.2 13.7l1.2 0.3M73.0 84.5l-0.6 1.5M4.1 62.3l-0.6 0.6M113.0 80.0l0.4 1.6M64.3 58.8l1.9 0.7M99.1 69.8l1.0 0.5M155.0 5.5l0.1 0.8M117.5 15.7l0.8 0.8M104.0 1.0l0.7 0.4M23.4 60.5l-1.0 0.7M89.3 25.6l-1.0 0.5M61.9 38.2l-0.9 1.3M51.8 12.2l0.3 0.6" stroke="#000078" stroke-width="1.9"/>
<path d="M90.3 34.4l-0.3 0.1M131.6 42.3l0.1 0.2M149.8 67.5l-0.1 0.0M119.7 1.9l0.5 1.2M105.9 71.7l-1.4 0.1M30.9 15.2l-0.5 0.9M33.1 47.8l-0.1 0.1M127.5 74.7l-0.8 0.9M40.4 55.9l-0.2 0.2M51.6 86.8l-0.1 0.1M141.6 87.0l0.5 0.1M65.3 80.3l-0.2 0.4M83.9 42.1l0.1 1.4M140.3 72.8l0.8 0.5M97.6 52.0l-0.2 0.2M115.9 18.6l1.2 0.2M96.7 47.4l-0.2 0.5M100.5 87.5l-0.5 0.7M3.7 4.0l0.6 0.7M150.8 8.6l0.0 0.0M122.0 81.6l-0.5 0.7M41.9 16.1l0.1 0.3M126.8 52.3l-0.6 0.7" stroke="#000098" stroke-width="1.4"/>
<path d="M105.9 58.5l-0.5 0.2M13.4 83.5l0.2 0.3M43.4 24.2l0.4 0.8M144.3 53.3l-0.2 0.2M6.6 74.8l-0.4 0.1M105.0 1.1l-1.1 0.1" stroke="#0000a8" stroke-width="1.0"/>
<path d="M5.0 52.9l-0.9 0.1M74.6 64.1l-0.0 0.3M63.8 78.6l-0.9 0.4M131.7 67.6l-0.4 0.8M99.1 81.7l-0.1 1.5M103.0 9.6l-1.2 0.2M46.7 83.3l0.7 1.3M142.2 68.2l0.1 0.6M129.9 24.8l0.7 0.5M125.6 72.6l-0.2 0.1M163.2 55.4l0.1 0.3" stroke="#0000a8" stroke-width="1.5"/>
<path d="M148.7 38.5l-0.9 0.1M22.2 55.0l0.0 0.0M161.2 77.9l0.1 0.1M67.8 28.3l-0.0 0.7M58.8 29.9l-0.8 0.3M60.6 29.4l-0.1 0.3M144.0 21.6l0.8 0.7M136.7 39.8l1.9 0.7" stroke="#0000e8" stroke-width="2.1"/>
<path d="M50.4 64.2l0.6 0.9M84.0 59.0l0.2 0.2M91.7 62.2l-0.3 0.5M78.8 65.9l0.3 0.5M154.2 79.2l0.6 0.1M139.9 46.4l-0.1 0.0M57.3 1.2l-1.0 0.1M47.5 54.1l-0.4 0.0M77.6 30.2l-0.2 0.3M109.9 63.8l0.1 0.2M76.1 38.4l0.8 0.3M4.1 61.9l0.8 0.3M72.6 50.0l0.1 0.0M143.2 65.8l-0.1 0.2M158.9 42.3l0.1 0.4M167.3 32.1l-0.2 0.1M96.9 81.7l0.8 0.2" stroke="#000078" stroke-width="1.1"/>
<path d="M94.9 66.7l-1.7 1.2M77.8 20.0l-0.2 0.4M163.8 21.7l0.1 0.8M109.7 17.8l-0.0 0.1M63.0 33.1l0.5 0.5M8.3 47.3l1.1 1.6M87.5 7.8l-1.1 1.1M88.2 6.9l-0.2 0.3M43.1 41.0l-0.4 0.8M7.4 56.8l-0.4 1.9M89.3 51.2l0.2 0.0" stroke="#000078" stroke-width="2.1"/>
<path d="M7.3 30.8l0.3 0.4M81.2 61.0l-0.8 0.0M129.3 60.0l-0.4 0.4M61.7 74.9l-0.8 0.1M159.5 73.4l-0.5 0.7M105.1 18.8l-0.3 0.9M32.5 67.9l-0.4 0.1M154.3 43.1l-0.9 0.4M73.7 75.3l0.0 0.3M62.4 20.9l0.3 0.1M159.8 8.9l-0.4 0.7M96.8 42.7l-0.0 0.6M22.3 20.3l-0.5 0.6M75.7 52.4l0.9 0.9M23.2 85.9l0.0 0.0M30.8 49.5l0.1 0.9M37.1 70.9l0.8 0.2M79.3 8.9l-0.4 0.2M127.3 19.9l0.0 0.0M28.7 20.6l0.2 0.5M51.1 18.6l-0.2 0.5" stroke="#0000a8" stroke-width="1.2"/>
<path d="M152.5 31.3l-0.3 1.0M164.2 49.0l-0.5 0.9M91.1 36.8l0.2 0.6M48.9 75.2l-1.8 0.4M79.2 64.0l0.8 0.2M41.8 43.3l0.4 0.5M131.7 71.3l0.1 1.8M58.7 52.4l-0.3 0.1M156.3 17.3l-0.1 0.5M61.5 55.4l-0.2 1.2M42.2 47.9l-0.5 0.1M14.1 77.4l-1.3 1.0M159.2 4.9l-0.8 0.3M106.5 79.0l-0.2 0.8M57.4 49.9l-1.0 1.3M73.5 78.5l-1.1 1.5M89.1 20.9l1.9 0.5" stroke="#0000a8" stroke-width="1.8"/>
<path d="M98.3 57.5l-0.0 0.2M148.6 34.3l0.1 0.5M15.4 75.0l-0.1 1.3M68.0 8.5l0.9 1.4M23.5 73.4l-0.1 0.1M118.9 54.9l0.5 0.1M41.4 65.7l-0.6 0.9M64.4 68.1l-0.6 0.1M128.1 72.4l1.9 0.2M133.5 18.5l0.9 1.7M28.0 17.8l-0.2 1.7M143.9 71.5l-0.2 0.6M119.2 29.1l0.1 0.1M49.4 67.3l-1.6 1.0M95.9 60.0l0.4 0.3M77.5 17.2l-0.4 0.2M28.3 57.1l-1.8 0.4M158.3 46.5l-0.1 0.3M41.8 80.1l0.1 1.2M78.6 40.7l-2.1 0.0" stroke="#0000e8" stroke-width="2.0"/>
<path d="M71.6 49.1l0.4 1.1M102.7 0.0l0.7 0.7M51.2 22.2l0.0 0.0M42.7 22.1l-0.1 0.9M146.4 32.6l0.9 0.8M68.1 82.5l0.1 0.0M34.3 77.5l0.5 0.2M23.0 71.2l1.0 0.9M142.2 37.3l-0.2 0.6M158.9 32.9l0.2 1.0M167.2 17.0l-1.0 0.7M12.6 83.6l1.0 0.3M47.0 16.6l-0.2 0.7M2.3 35.0l-0.4 0.9M59.4 21.4l0.9 0.8M19.5 0.7l0.1 0.6M75.0 56.4l1.1 0.2M32.3 53.0l0.7 1.0M130.8 77.7l-0.5 0.0M115.6 35.4l0.2 0.3M52.4 76.7l0.2 0.4M64.1 13.9l-0.2 1.0M12.4 86.0l-1.0 0.9M155.7 19.8l0.7 0.3M15.1 0.2l-0.0 0.0" stroke="#000078" stroke-width="1.2"/>
<path d="M80.6 79.4l0.3 0.0M86.2 57.2l1.3 0.0M112.0 25.0l1.2 0.7M48.5 70.6l-0.0 0.1M94.4 20.3l-1.8 0.2M17.8 9.7l-0.8 0.5M70.6 87.5l-0.0 0.3M0.2 40.6l0.4 0.4M75.2 30.3l0.2 0.1M137.3 3.9l0.1 0.1M130.7 16.4l-0.6 0.6M118.0 38.8l0.1 0.3M46.1 27.9l-1.1 0.7M130.6 64.4l0.1 0.1M4.4 22.9l1.7 0.5M55.4 81.6l-0.4 1.1M24.8 55.3l-0.8 1.2M128.9 31.2l1.5 0.3M120.0 48.3l0.1 0.3M35.3 71.8l-1.1 0.7M61.4 80.3l1.3 0.4M86.1 76.9l-1.1 0.5M43.7 78.0l-0.1 0.6M78.3 26.3l-1.2 0.1M45.9 35.3l0.8 0.6M152.8 84.1l0.1 0.2M82.3 71.0l-0.9 0.1" stroke="#000098" stroke-width="1.8"/>
<path d="M54.3 30.1l-0.0 0.1M69.3 3.7l-0.8 0.4M154.5 74.8l-0.2 0.0M3.3 31.1l-0.5 0.6M145.1 28.6l-0.7 0.7M65.4 23.0l0.1 0.9M111.8 8.9l-0.2 0.0M13.3 61.6l0.0 0.0M136.4 1.0l0.3 0.0M57.6 32.7l-0.2 1.0" stroke="#000078" stroke-width="1.0"/>
<path d="M81.0 1.3l1.0 0.2M169.0 29.4l-0.0 0.1M157.9 0.1l0.2 0.0M122.7 73.6l0.1 0.0M111.9 71.1l-0.3 1.0M136.5 48.2l-0.3 0.0M93.5 20.8l-0.3 0.9M52.8 41.3l-0.4 0.3M5.9 56.6l0.1 0.7M44.6 86.0l0.0 0.1M39.4 80.4l0.1 0.7" stroke="#0000e8" stroke-width="1.0"/>
<path d="M60.6 1.8l0.5 0.9M77.5 76.5l1.1 1.7M15.7 34.8l0.8 1.0M27.4 2.2l0.5 0.3M168.9 74.4l-1.5 0.0M106.8 46.3l-0.7 0.5M19.5 19.8l-0.4 0.1M105.3 43.4l1.4 0.3M30.0 50.6l-0.5 0.3M44.7 38.5l0.5 1.5M52.2 9.1l-0.0 0.5M158.1 67.2l1.2 1.5M168.5 15.2l0.6 0.3M42.1 3.9l-0.1 0.0" stroke="#0000a8" stroke-width="2.1"/>
<path d="M89.3 53.0l-0.0 0.1M87.4 2.5l0.0 0.1M57.3 24.7l-0.8 0.7M106.4 49.5l-0.1 0.2M63.2 13.9l-0.3 0.9M154.8 19.7l-0.1 0.2M124.3 73.5l0.3 0.1M21.7 42.2l-0.2 0.4M28.2 72.3l0.3 0.8M62.6 4.2l-0.1 0.1M1.3 59.9l-0.3 0.1M0.5 1.2l0.2 0.1M96.9 45.0l0.7 0.6M121.2 14.5l-0.5 0.6M31.8 12.7l-0.0 0.3M39.4 13.0l-1.1 0.1M104.4 17.9l0.3 0.8M162.0 9.0l0.6 0.4M19.7 1.6l0.6 0.5M83.9 26.2l0.6 0.2M24.3 58.1l-0.2 0.5" stroke="#000098" stroke-width="1.2"/>
<path d="M153.4 11.5l-0.8 0.3M41.2 30.6l0.5 0.5M68.9 78.3l-0.2 0.0M48.3 71.8l0.1 0.0" stroke="#000058" stroke-width="1.0"/>
<path d="M6.1 14.7l0.4 0.4M134.8 81.5l-0.2 0.3" stroke="#0000c8" stroke-width="1.0"/>
</g></svg>
<svg x="191.6" y="396.1" width="169.6" height="90.0" viewBox="0 0 169.6 90.0" overflow="hidden">
<rect width="169.6" height="90.0" fill="#000"/>
<filter id="b13" x="-10%" y="-10%" width="120%" height="120%"><feGaussianBlur stdDeviation="0.35"/></filter><g filter="url(#b13)" fill="none" stroke-linecap="round">
<path d="M43.9 61.7l1.2 0.8M105.5 75.0l-0.4 0.3M115.6 64.9l0.7 0.7M111.8 63.8l-1.2 0.6M124.8 60.1l0.0 0.1M168.2 52.7l0.5 0.3" stroke="#2a2a00" stroke-width="1.5"/>
<path d="M113.0 78.2l0.3 0.1M47.5 80.0l-0.2 0.8M14.7 68.2l-0.0 0.0M75.9 36.9l1.1 0.3M111.3 86.0l0.5 0.8M17.7 63.4l-0.4 0.5M24.2 56.6l0.2 0.1M18.6 32.8l-1.0 0.3M89.1 10.8l-1.2 0.7" stroke="#2a2a00" stroke-width="1.4"/>
<path d="M126.3 2.7l-0.7 0.0M136.5 46.2l-0.1 0.8M119.8 56.9l0.1 0.3M22.4 86.3l-0.3 0.9M147.9 82.4l-0.1 0.4" stroke="#45450a" stroke-width="0.9"/>
<path d="M141.5 7.6l1.1 1.1M126.3 85.4l-0.4 0.2M8.0 21.4l-0.3 0.3M94.2 36.1l-0.2 1.0M78.9 3.2l-0.2 0.3M128.7 87.0l-1.4 0.5M28.7 44.7l0.2 0.3" stroke="#45450a" stroke-width="1.6"/>
<path d="M152.3 49.5l-1.2 0.5M76.0 55.0l-0.6 0.7" stroke="#202000" stroke-width="1.8"/>
<path d="M53.2 10.6l-1.4 0.1M23.3 48.0l0.6 0.8M3.3 32.6l1.2 0.4M74.7 48.3l-0.9 0.9" stroke="#202000" stroke-width="1.6"/>
<path d="M30.0 18.2l0.0 0.4M110.7 54.7l1.0 1.0" stroke="#202000" stroke-width="1.3"/>
<path d="M119.0 11.8l0.1 0.8M76.2 89.2l-0.0 0.1M25.4 43.1l-0.4 0.3M16.1 36.5l0.5 0.2M136.7 64.4l-0.3 0.3M135.6 35.8l0.4 1.1M96.1 77.6l0.2 0.5M40.8 46.6l-0.4 1.0" stroke="#2a2a00" stroke-width="1.2"/>
<path d="M121.9 84.0l-0.1 0.1M7.4 65.0l0.8 0.1M142.7 56.8l0.5 0.4" stroke="#45450a" stroke-width="0.8"/>
<path d="M108.4 14.4l-1.1 0.4M161.8 85.7l-0.2 0.1M29.6 63.5l0.4 0.4M27.1 15.2l-0.1 0.0M27.1 69.4l0.7 0.1M71.5 35.9l0.5 0.3M113.3 56.9l-0.8 0.4" stroke="#45450a" stroke-width="1.2"/>
<path d="M34.4 76.8l0.9 0.4M25.2 4.7l0.1 0.2M132.5 52.2l0.1 0.3M20.1 13.9l0.0 0.4M149.8 67.1l-0.1 0.2M38.2 29.2l1.0 0.5" stroke="#202000" stroke-width="1.2"/>
<path d="M102.4 65.0l-0.2 0.7M94.2 81.1l-0.1 0.5" stroke="#202000" stroke-width="1.0"/>
<path d="M6.6 52.5l0.2 0.2M25.4 89.7l0.0 0.2M126.6 43.7l0.9 0.0M72.3 6.4l0.3 0.1M75.0 26.5l0.0 0.1M59.9 74.7l0.4 0.9M47.1 57.1l0.4 0.3" stroke="#202000" stroke-width="1.4"/>
<path d="M117.9 87.4l-0.1 1.1M17.2 71.8l0.2 0.8" stroke="#2a2a00" stroke-width="1.6"/>
<path d="M169.2 10.9l-0.1 0.3M116.0 76.4l0.3 0.6M113.8 73.4l0.1 0.9M57.2 77.7l0.1 0.2M162.3 40.0l0.3 0.0M120.5 40.5l0.7 0.0" stroke="#2a2a00" stroke-width="1.1"/>
<path d="M159.2 47.0l0.0 0.1M125.6 9.0l-1.5 0.9M57.4 60.5l0.5 1.2M129.6 77.2l-1.1 0.2M157.2 73.2l-0.1 0.2M75.7 26.4l0.7 0.8M82.4 70.4l0.9 0.4" stroke="#2a2a00" stroke-width="1.7"/>
<path d="M84.2 87.3l-0.3 0.6M167.9 3.9l-0.2 0.1M26.1 4.8l0.9 1.0M146.2 32.9l0.1 0.2M81.4 54.3l-0.8 0.9M43.0 37.7l0.2 0.0M19.4 65.2l0.2 0.1" stroke="#45450a" stroke-width="1.3"/>
<path d="M135.5 33.9l0.2 0.1M13.8 48.1l-0.0 0.0M95.9 26.5l-0.8 1.4M55.8 71.8l0.3 1.2M65.1 26.9l0.8 0.1M164.6 5.9l0.4 0.1M7.6 5.2l0.1 0.1" stroke="#45450a" stroke-width="1.5"/>
<path d="M100.4 38.5l0.4 0.5M69.4 14.0l0.2 1.5M30.3 9.3l-0.4 0.2M130.6 44.3l-0.5 1.2M69.0 80.0l-0.0 0.0M34.4 82.8l0.1 1.5" stroke="#45450a" stroke-width="1.4"/>
<path d="M65.9 3.0l0.1 0.4M33.1 35.4l0.5 0.1M96.9 65.2l-0.7 0.2M21.3 16.1l0.5 0.2M18.9 31.4l-0.6 0.5M81.1 75.7l0.0 0.7M0.3 64.5l0.8 0.2M22.7 86.5l-0.1 0.1M100.5 28.7l0.1 0.3" stroke="#202000" stroke-width="0.9"/>
<path d="M28.3 79.8l-1.4 0.5M118.6 40.2l0.3 1.0M98.3 84.4l-0.8 1.1M16.7 58.1l1.1 1.1M26.8 52.0l-0.2 0.3" stroke="#202000" stroke-width="1.5"/>
<path d="M50.5 7.8l-0.0 0.0M88.9 24.4l-0.1 0.3M27.1 16.7l-0.4 0.0M108.4 21.6l-0.4 0.1M56.6 15.2l0.2 0.6" stroke="#2a2a00" stroke-width="0.9"/>
<path d="M76.4 0.3l0.1 0.2M67.8 9.0l0.3 0.0M59.6 37.4l0.2 0.1M134.5 76.2l0.1 0.1M78.3 86.8l-0.1 0.0" stroke="#2a2a00" stroke-width="0.8"/>
<path d="M121.1 74.8l0.0 0.8M72.7 86.3l0.7 0.3M48.6 69.4l0.1 0.7" stroke="#202000" stroke-width="0.8"/>
<path d="M3.6 8.5l-0.1 0.6M121.5 86.2l0.4 0.8M85.8 26.6l-0.2 0.9M4.3 53.0l0.5 0.3" stroke="#45450a" stroke-width="1.1"/>
<path d="M86.8 69.8l-0.6 0.4" stroke="#45450a" stroke-width="1.7"/>
<path d="M129.9 83.9l1.1 0.1M152.5 3.8l0.1 0.9M117.0 29.1l-0.3 0.5M139.7 44.8l-0.1 0.2M89.5 37.4l0.3 0.2M55.2 89.6l-0.0 0.1" stroke="#202000" stroke-width="1.1"/>
<path d="M0.5 47.9l-0.2 1.7M64.8 18.5l-0.7 0.5" stroke="#45450a" stroke-width="1.8"/>
<path d="M158.3 26.5l1.0 0.3M37.6 59.6l0.8 0.6M89.2 13.4l-0.9 0.1M11.2 47.4l0.6 0.1" stroke="#2a2a00" stroke-width="1.0"/>
<path d="M16.4 58.7l-0.9 0.1M122.4 46.1l0.5 0.5M137.7 37.6l-0.1 0.2M167.7 5.0l-0.4 0.1M77.0 66.8l0.7 0.3M93.7 7.5l-0.4 0.3M58.5 55.3l-0.6 0.2" stroke="#45450a" stroke-width="1.0"/>
<path d="M95.0 54.5l-1.3 0.4" stroke="#202000" stroke-width="1.7"/>
<path d="M51.2 7.0l0.3 0.0M38.6 39.1l0.3 0.1M132.6 33.8l-0.7 0.2M5.2 83.5l0.0 0.0M98.6 67.0l0.4 0.4" stroke="#2a2a00" stroke-width="1.3"/>
</g></svg>
<svg x="191.6" y="487.4" width="169.6" height="88.2" viewBox="0 0 169.6 88.2" overflow="hidden">
<rect width="169.6" height="88.2" fill="#000"/>
<filter id="b14" x="-10%" y="-10%" width="120%" height="120%"><feGaussianBlur stdDeviation="0.5"/></filter><g filter="url(#b14)" fill="none" stroke-linecap="round">
<path d="M18.1 62.0l1.1 1.2M50.9 76.9l-0.3 1.1M93.6 44.6l-1.5 0.4M66.9 47.5l-0.2 0.0M143.5 1.1l1.3 0.7M76.0 86.8l-0.8 0.7M141.5 48.7l-0.2 1.5M5.6 7.4l-0.3 1.7M109.5 3.8l0.1 0.3M37.5 52.4l0.0 1.1M82.8 18.8l0.8 0.0M62.0 29.5l-1.0 0.5M117.0 33.3l0.8 0.5M144.4 32.9l0.5 1.6M88.1 28.6l-1.4 0.3M78.9 62.8l0.9 0.0M35.4 32.3l-0.4 0.2M99.4 76.8l0.2 1.1M70.7 75.9l-0.1 0.7M124.9 40.7l-0.9 0.3M106.1 61.9l-1.2 1.3M70.1 5.3l0.0 0.4M148.3 78.0l0.0 0.0M92.8 27.2l-0.1 0.2M158.2 56.3l0.1 0.6M37.0 22.7l1.4 0.0M95.9 69.6l0.6 0.3M145.5 59.1l-0.8 0.3M71.1 55.4l1.1 1.2" stroke="#3c3c0c" stroke-width="1.6"/>
<path d="M49.4 6.4l-0.6 0.3M122.9 0.7l0.1 0.1M169.4 30.0l0.6 0.6M129.1 53.4l0.5 0.2M129.9 57.6l0.2 0.8M30.2 15.0l0.2 0.0M57.4 26.7l-0.1 0.4M129.4 19.0l1.1 0.5M113.9 1.0l-0.4 0.1M1.4 15.6l0.3 0.1M16.2 11.6l-0.3 0.2M117.3 67.0l1.3 0.0M142.3 80.4l-0.1 0.3M34.9 76.0l0.7 0.6M93.6 42.3l0.0 0.8M15.6 19.4l0.7 0.2M164.2 7.9l-1.3 0.5M71.4 75.6l0.3 0.2M89.4 55.6l-0.6 0.7M85.8 60.4l-0.7 0.0M56.1 35.7l-0.9 0.0M42.4 68.2l0.0 0.0M50.7 53.3l0.2 0.1M60.0 76.0l0.0 0.2M113.9 81.6l0.1 0.1M43.4 57.0l0.9 0.3M36.0 58.5l-1.2 0.2M147.2 36.4l0.3 0.9M80.3 15.2l-0.1 0.6M42.7 9.1l0.4 1.1M140.6 40.5l0.2 0.6M81.9 60.0l1.2 0.7M144.2 80.5l-1.1 0.5M151.6 39.5l-0.6 1.3M46.4 28.6l0.9 0.4M103.8 9.5l0.2 0.3M121.6 65.0l-0.7 0.8" stroke="#1e1e00" stroke-width="1.3"/>
<path d="M131.9 10.4l0.5 1.0M24.9 58.9l-0.4 0.7M139.6 71.6l-0.3 0.1M155.4 37.6l0.3 1.1M107.0 79.1l-0.2 0.8M67.0 23.7l0.8 0.2M32.8 43.2l-1.1 0.1M146.7 54.6l0.0 0.0M55.2 64.0l0.7 0.5M120.1 13.3l-0.0 0.0M74.9 85.9l1.2 0.2M139.4 62.7l-0.1 0.3M26.5 68.0l1.1 0.3M29.5 46.3l1.0 0.6M108.2 36.3l0.2 0.1M145.9 14.5l-0.1 0.0M22.0 38.4l-0.3 0.6M147.3 33.3l-0.5 0.1M1.2 85.5l0.3 0.0M79.6 10.3l0.2 0.3M130.4 46.0l0.3 0.2M145.0 51.1l-0.3 0.0M136.8 52.0l0.7 0.2M9.2 44.6l-0.9 0.3M13.2 64.0l0.3 0.7M108.6 53.7l-0.7 0.4M30.0 42.9l0.4 1.0M163.9 0.7l0.3 1.0M96.9 14.1l-0.1 0.4M126.5 78.9l-0.2 1.1M13.2 74.8l1.1 0.2M104.1 8.0l-0.1 0.2M46.0 79.5l-0.0 0.0M91.4 82.7l0.9 0.5M67.1 56.6l0.8 0.6M77.8 51.9l0.7 0.4" stroke="#3c3c0c" stroke-width="1.1"/>
<path d="M61.2 55.8l-0.1 0.2M0.3 22.1l0.2 0.2M43.9 39.5l-0.5 0.4M90.5 13.6l0.0 1.1M61.0 75.9l0.4 1.1M114.9 69.3l0.0 1.2M122.7 71.7l1.4 0.2M43.5 63.1l0.1 0.0M95.5 16.3l0.6 0.4M69.9 22.8l0.0 0.3M61.7 12.3l0.0 1.2M47.6 32.7l-0.1 0.2M36.0 25.1l0.1 1.5M145.1 34.4l0.1 0.3M51.2 22.9l1.0 0.2M37.8 5.1l0.1 0.2M142.1 67.3l1.0 0.3M69.2 12.8l-0.7 1.2M89.6 16.8l0.1 0.1M89.2 85.3l-0.8 0.2M165.1 56.9l0.3 1.1M154.1 43.0l-0.5 1.1M7.1 3.5l-0.4 0.8M138.3 32.9l-0.0 1.0M168.5 24.7l0.3 0.3M60.8 86.6l0.8 1.2M59.1 75.3l0.8 0.6M93.9 8.0l-1.2 0.5M142.8 31.4l0.3 0.6M20.5 38.3l0.5 1.4M91.3 68.0l1.1 0.8M118.3 7.6l-0.5 0.2M109.2 41.8l-1.1 0.9M122.5 15.7l-0.4 0.8M40.7 39.2l0.1 0.4" stroke="#3c3c0c" stroke-width="1.4"/>
<path d="M28.0 57.5l0.4 0.1M148.0 60.6l-0.3 0.6M15.2 71.2l-0.1 0.0M167.2 14.2l0.0 0.4M131.6 30.3l-0.0 0.0M4.9 1.5l-0.1 0.1M3.1 42.8l-0.0 0.0M127.2 62.5l0.4 0.1M126.4 43.3l-0.6 0.1M11.2 26.1l0.6 0.5M131.5 39.8l0.1 0.5M105.3 34.5l-0.7 0.2M7.7 84.7l0.8 0.7M92.1 27.6l-0.2 0.4M143.5 15.3l0.7 0.4M94.6 83.9l-1.0 0.2M52.5 61.6l0.3 0.0M65.6 6.3l-0.2 0.0M116.7 24.1l1.0 0.4M130.6 61.9l-0.1 0.2M115.0 74.7l0.2 0.3M31.1 40.2l1.1 0.2M123.3 19.5l0.4 0.5M12.0 36.2l0.5 0.1M128.8 0.4l-0.1 0.0M64.2 19.0l-0.3 0.2M147.9 9.2l-0.3 0.3M6.1 32.6l-0.4 0.2M64.0 50.7l0.1 0.3M142.6 74.7l0.9 0.3M164.2 11.2l-0.4 0.3" stroke="#26260a" stroke-width="1.0"/>
<path d="M144.9 33.7l-1.5 0.5M138.2 47.6l0.4 1.4M149.1 67.1l0.7 1.0M138.0 22.8l-0.2 0.3M136.3 44.3l-0.8 0.8M127.6 21.8l0.2 0.4M80.2 49.0l0.7 0.8M22.8 24.4l0.1 0.8M28.2 72.1l-1.5 0.1M5.3 70.7l0.2 0.8M153.2 38.3l1.1 0.4M113.8 21.0l-0.1 0.0M30.7 57.7l0.5 0.1M163.9 87.7l-1.2 0.0M141.6 67.5l0.2 0.2M56.8 79.2l-0.1 0.0M109.2 80.6l-0.9 0.1M99.1 2.3l-0.0 0.0M32.4 9.8l1.1 1.2M129.0 62.6l0.3 0.8M87.2 30.9l-0.3 0.1M89.9 54.4l0.0 0.0M71.0 82.9l0.5 0.8M118.8 51.2l-0.2 0.6M93.6 77.4l-1.0 1.1M71.4 26.1l-0.7 1.4M81.6 87.8l0.4 0.6M167.6 65.6l-0.4 0.7M48.1 29.6l1.1 0.4M59.3 86.7l-0.6 0.2M1.6 14.8l-0.6 1.0M93.8 43.5l0.2 0.2" stroke="#303000" stroke-width="1.5"/>
<path d="M146.7 65.9l0.7 0.8M128.0 30.7l0.7 1.1M26.0 83.2l0.6 0.9M158.2 3.6l0.2 0.1M44.8 23.3l-0.3 0.2M156.7 39.9l0.9 0.0M34.2 14.8l0.3 0.3M139.7 76.3l1.1 0.6M36.2 71.0l0.7 0.8M85.9 55.1l0.3 0.6M10.4 24.7l-1.0 0.1M127.0 80.4l0.2 0.5M159.5 14.1l0.9 1.0M155.5 69.2l-0.9 0.9M24.8 0.3l1.3 0.4M142.9 38.1l0.7 0.4M98.1 61.8l-0.0 1.4M14.5 76.6l-0.3 0.1M35.7 74.0l0.5 1.2M98.4 9.4l0.7 0.6M53.7 2.6l-0.4 1.1M1.1 48.7l0.0 0.0M64.3 68.5l0.7 0.2M34.3 21.2l-0.4 0.2M159.6 81.9l-0.9 0.5M160.1 73.8l-0.1 1.0M48.7 59.9l0.1 0.2M33.9 53.6l-0.1 0.0M67.3 19.5l0.2 1.4M109.4 78.8l-1.0 0.4" stroke="#26260a" stroke-width="1.4"/>
<path d="M82.2 24.8l-0.2 0.0M160.1 37.3l-0.7 0.1M65.8 3.1l-0.3 1.3M22.7 49.0l-0.3 0.6M34.7 18.8l0.3 0.0M49.9 65.9l-0.9 0.5M160.6 81.1l-1.2 0.3M28.3 52.9l0.9 0.5M135.6 70.5l0.7 0.2M59.7 0.8l-0.9 0.9M0.5 17.0l-0.1 0.1M10.1 18.8l0.1 0.6M50.7 14.2l0.1 0.2M44.6 61.1l-0.8 0.2M165.3 63.2l-0.8 0.8M18.1 31.7l-0.6 1.0M19.2 16.8l-0.0 0.0M35.0 56.7l0.6 0.0M102.2 1.2l-0.2 0.4M160.2 39.9l-0.1 0.1M115.3 20.3l-0.2 0.3M47.2 14.9l0.6 0.1M29.3 61.9l0.7 0.0M33.8 6.9l-1.2 0.3M50.2 67.9l0.3 1.2M95.8 60.8l-0.2 0.8M109.4 68.5l0.5 0.1M24.9 23.5l0.4 0.0M91.6 52.0l-1.2 0.0M8.3 30.0l-0.4 0.8M104.3 47.0l-0.2 0.2M138.2 86.1l-0.0 1.1M132.7 24.2l0.5 1.1M161.9 71.7l0.1 0.2M139.7 25.0l0.2 0.1" stroke="#3c3c0c" stroke-width="1.2"/>
<path d="M47.6 2.5l-0.0 0.2M136.7 19.1l0.8 0.8M14.8 71.0l-0.1 0.1M82.3 66.3l0.9 0.6M78.2 75.2l1.7 0.6M139.9 77.7l0.7 0.5M160.5 58.1l-0.5 0.2M108.7 51.9l1.3 0.3M40.0 38.3l0.1 0.0M158.3 54.8l-1.6 0.5M67.0 63.9l1.1 0.1M92.0 16.4l-0.1 0.0M101.8 74.1l-0.0 0.6M67.4 75.9l-0.3 0.2M6.3 53.3l-0.3 0.2M68.2 35.4l-0.9 1.3M157.3 9.8l-0.2 1.5M101.7 76.7l0.1 0.2M96.0 27.6l-0.5 0.2M159.8 77.4l-0.9 0.3M46.5 14.6l1.5 0.0M126.6 9.4l-0.0 0.1M149.7 24.5l-0.4 0.8M32.8 61.5l0.6 1.6M42.4 74.1l-0.2 1.4M30.5 63.0l0.1 0.5M48.6 29.3l0.5 0.6M100.4 53.5l-0.4 0.7M145.3 62.6l-0.1 0.1M150.0 29.0l-1.3 0.8M151.9 54.1l-0.0 1.0" stroke="#303000" stroke-width="1.6"/>
<path d="M72.1 85.9l0.3 0.4M169.1 77.3l-0.9 0.5M160.4 39.8l-0.1 0.0M48.2 83.4l0.2 0.0M16.7 66.3l0.9 0.3M113.3 14.5l0.6 0.0M86.1 78.3l-0.1 0.6M102.1 25.9l0.6 0.8M48.5 4.4l-1.0 0.6M87.2 21.0l-0.1 0.6M63.2 20.0l0.1 0.6M96.7 14.8l-0.1 0.1M106.8 68.0l-0.1 0.1M151.9 28.1l0.7 0.2M140.7 63.5l-0.0 0.2M88.0 67.3l0.7 0.9M90.5 4.8l0.6 1.0M54.9 20.7l0.1 0.0M27.3 74.6l0.0 0.1M17.7 53.8l0.0 0.2M10.3 29.5l-0.2 0.5M166.6 38.7l0.3 0.6M129.1 16.3l-0.8 0.6M48.0 62.6l0.0 0.0M150.6 39.1l-0.5 0.4M168.1 10.7l0.9 0.5M143.1 12.9l-0.2 0.6M161.4 39.6l0.0 0.0M83.7 65.9l0.5 0.8M41.9 45.9l0.2 0.8M154.1 71.3l-0.1 0.3M50.3 20.0l0.6 0.6M83.6 85.0l0.3 0.3M54.2 24.2l0.0 0.6M155.3 7.1l0.0 0.1M138.0 70.0l0.3 0.0M64.4 25.3l-0.2 0.5M85.7 73.9l0.5 0.2M160.4 24.5l0.1 0.1" stroke="#1e1e00" stroke-width="1.1"/>
<path d="M74.1 52.5l0.4 0.4M144.5 6.8l0.5 0.4M88.2 22.7l-0.5 0.2M23.8 27.6l0.7 0.4M129.0 20.8l-0.2 0.2M106.6 32.5l-0.5 0.4M155.5 34.1l-0.1 0.1M127.4 57.6l0.0 0.1M161.3 23.5l-0.0 0.5M108.9 85.7l0.9 0.4M8.1 48.9l-0.4 0.9M91.9 18.2l0.2 0.5M83.8 51.3l0.3 0.8M116.8 61.6l0.5 0.4M21.0 56.6l0.3 0.3M23.7 36.7l-1.1 0.1M22.0 24.0l0.8 0.6M135.6 39.5l0.6 0.5M83.0 62.4l-0.3 0.1M58.7 67.6l-1.0 0.0M167.8 51.6l0.5 0.2M158.9 4.8l0.1 0.1M90.5 23.8l0.4 0.8M27.8 20.2l0.3 0.4M41.8 38.1l-0.2 0.3M5.2 0.3l-0.7 0.8M82.3 11.7l-0.0 0.1M60.8 66.4l0.6 0.6M75.6 13.6l0.1 0.2M87.1 0.6l-0.6 0.3" stroke="#1e1e00" stroke-width="1.0"/>
<path d="M11.3 12.6l1.0 0.1M43.0 45.7l0.9 0.1M28.4 54.3l0.2 1.0M39.4 54.7l-0.3 1.2M114.9 14.8l-1.1 0.3M123.8 72.5l-0.2 0.7M155.6 38.1l1.0 0.5M142.6 57.5l-0.0 0.1M164.1 73.8l-1.0 0.1M164.7 22.7l0.4 0.3M167.3 11.5l-0.2 0.0M143.1 12.0l-0.6 1.0M24.4 26.8l-1.3 1.2M80.5 9.5l0.6 0.5M136.2 69.4l0.4 0.2M95.9 44.2l0.8 1.4M45.2 46.4l0.6 0.6M27.4 34.1l-0.2 0.8M159.3 8.7l0.1 0.5M55.7 51.0l0.7 0.9M74.6 77.5l-0.5 1.5M135.5 3.0l1.5 0.2M124.0 8.8l1.4 0.9M23.5 52.6l-0.0 1.2M94.3 22.8l-0.9 1.3M167.9 30.8l-1.1 0.8M55.0 67.2l-0.2 1.6M52.8 24.6l1.1 0.3M89.1 2.0l-0.6 0.6M46.6 71.0l-0.8 1.0M116.0 77.8l0.5 0.5M47.9 12.3l1.0 0.5M125.6 64.1l-0.2 0.0M43.0 42.6l-1.1 0.5M84.7 43.2l1.2 1.1M36.8 64.1l-0.0 0.3M11.5 69.0l1.5 0.7M165.4 10.1l-0.9 1.0M104.4 71.9l-0.3 1.3M81.3 10.1l-1.4 0.8M169.3 63.2l0.1 0.3M158.7 84.3l0.0 0.1M38.8 38.3l-0.2 0.3M39.0 54.5l1.1 0.3M32.4 71.4l-0.1 0.0M64.2 37.4l0.0 0.8M114.8 42.4l-1.2 0.3M90.4 28.0l0.2 1.5M20.9 19.0l-0.0 0.0" stroke="#1e1e00" stroke-width="1.6"/>
<path d="M60.3 46.8l-0.4 0.3M130.6 84.1l0.1 0.0M155.5 46.8l0.2 0.9M48.8 14.1l-0.5 0.5M151.1 35.9l-0.7 0.5M107.0 11.7l0.6 0.6M123.3 5.9l-0.2 0.8M98.0 88.1l0.6 0.2M140.1 54.7l0.5 0.2M54.9 13.5l-0.3 0.8M85.3 0.6l0.8 0.1M150.8 62.0l0.0 0.4M111.0 26.2l-0.3 0.1M5.0 72.8l0.1 0.1M86.1 71.9l-0.1 0.1M146.2 28.9l0.5 0.8M24.6 29.7l-0.1 0.3M7.5 18.3l-0.0 0.3M88.0 1.0l-0.1 0.1" stroke="#303000" stroke-width="0.9"/>
<path d="M88.5 71.0l-0.2 0.0M32.5 11.6l0.6 1.8M77.0 64.6l0.2 1.1M111.0 51.0l-0.1 0.4M125.5 14.7l1.5 0.6M33.7 33.7l0.2 1.0M15.4 61.6l0.7 1.9M94.5 85.2l-1.1 0.9M70.1 44.5l-1.6 0.1M12.7 76.3l1.7 0.3M107.8 54.6l0.8 1.0M59.0 8.9l1.5 0.4M12.6 53.2l-1.0 0.1M159.3 28.6l-1.2 1.3M158.0 35.4l0.3 1.8M25.6 50.6l-1.4 0.7M134.9 16.1l-1.1 1.7M105.7 35.6l-0.0 0.0M139.8 55.9l-0.8 1.2" stroke="#26260a" stroke-width="1.9"/>
<path d="M49.4 67.2l-0.2 0.8M119.4 47.7l0.6 0.2M34.4 47.6l-1.0 0.2M50.8 82.9l-0.8 1.0M96.4 61.7l0.2 0.0M121.1 61.8l-0.3 0.3M104.3 1.6l-0.0 0.1M63.3 43.6l-0.3 0.6M74.0 47.5l1.3 0.2M127.2 40.4l-0.9 0.2M57.8 48.1l-0.0 0.0M59.3 58.4l-1.2 0.2M46.0 16.4l-0.4 0.8M50.7 78.4l0.2 0.0M47.0 41.4l-0.5 0.0M7.6 44.4l-1.3 0.2M56.1 58.6l-0.9 0.9M84.1 34.3l-0.7 0.9M129.4 21.0l-1.0 0.5M19.5 78.5l0.5 0.4M58.8 41.4l-0.1 0.3M36.7 10.0l-0.2 1.3M28.6 66.8l0.1 0.6M26.8 41.8l-0.0 0.0M88.7 27.1l-0.6 1.3M16.3 52.0l0.9 0.4M38.4 37.1l0.7 0.9M22.5 65.1l-0.7 0.2M77.8 87.9l-0.3 0.7M44.3 29.1l1.2 0.7" stroke="#26260a" stroke-width="1.3"/>
<path d="M86.2 74.2l-0.5 0.1M140.8 56.9l0.0 0.6M49.5 74.0l0.6 0.3M77.1 86.1l-0.9 0.4M43.4 61.4l-0.6 0.6M60.0 21.8l0.7 0.3M47.6 44.0l0.3 0.1M106.6 75.2l-0.0 0.5M3.1 65.6l0.1 0.0M52.5 73.2l0.6 0.5M152.1 29.5l1.3 0.2M100.9 10.0l0.2 0.1M117.0 1.8l-0.1 0.0M95.0 72.3l1.1 0.7M60.2 72.6l0.6 0.4M143.2 26.1l0.3 0.4M76.3 64.8l-0.4 0.7M131.6 56.3l0.9 0.1M147.8 19.5l-0.6 0.3M139.2 47.0l-0.1 0.0M160.5 15.4l0.7 1.0M51.2 42.5l-0.3 0.1M29.3 18.5l0.5 0.4M5.3 77.9l-0.8 1.1M68.5 34.3l-0.5 0.3M148.9 2.2l0.5 0.1M42.7 67.3l0.7 0.6M163.2 34.0l-1.3 0.2M137.3 55.9l0.4 0.5M145.0 9.6l0.2 0.8M21.0 3.2l0.2 1.2M14.1 55.3l0.9 1.0M164.1 5.2l0.0 0.0M126.4 26.7l-0.0 0.1M27.9 74.7l-1.4 0.2M80.4 26.7l0.8 0.8M116.3 42.5l-0.5 0.3M77.3 16.1l-0.1 0.3" stroke="#3c3c0c" stroke-width="1.3"/>
<path d="M82.8 84.0l0.1 0.6M137.3 72.0l0.2 0.8M59.7 66.4l-0.4 0.0M165.9 37.2l-0.7 0.2M12.3 32.2l0.5 0.2M75.1 45.9l-0.1 0.1M102.1 60.7l0.1 0.8M89.0 57.5l0.0 0.2M155.6 2.3l-0.3 0.9M111.1 14.0l0.7 0.4M152.4 37.4l-0.3 0.1M22.6 41.5l0.1 0.6M17.6 66.8l-0.0 0.1M13.8 70.4l0.0 0.3M118.9 0.0l-0.1 0.6M34.3 50.8l0.1 0.5" stroke="#3c3c0c" stroke-width="0.9"/>
<path d="M168.7 52.5l-0.3 1.3M47.1 36.5l-0.0 0.2M144.9 34.8l-0.0 0.0M124.0 34.3l0.4 0.2M60.7 84.8l1.6 0.6M142.0 5.1l0.1 0.3M126.0 29.5l1.2 1.0M69.7 78.1l-0.5 1.0M115.8 11.0l0.1 0.9M59.7 56.0l-0.2 0.2M72.8 28.0l-0.4 0.4M108.4 22.4l0.9 0.6M158.6 38.9l1.2 1.4M45.3 35.2l0.0 1.1M166.8 75.5l-1.3 1.4M130.0 83.8l-0.2 1.1M51.4 63.7l-0.5 0.6M40.0 27.0l-0.6 1.2M163.8 84.9l0.9 1.1M169.2 44.7l1.0 1.5M36.1 13.6l-1.8 0.1M161.4 22.8l-0.0 0.0" stroke="#1e1e00" stroke-width="1.7"/>
<path d="M45.1 41.4l1.7 0.3M120.2 25.8l-1.2 1.0M82.7 28.0l1.5 1.3M158.9 4.8l-1.1 0.8M122.7 21.8l1.2 0.1M35.4 73.2l0.6 0.4M101.5 74.0l0.6 1.2M152.0 39.3l-0.5 0.4M125.3 77.2l0.3 1.3M84.4 12.7l0.5 0.9M65.2 18.5l-0.0 0.5M82.4 7.5l-0.3 0.5M95.2 7.0l1.5 0.7M97.0 66.5l-0.2 0.6M61.7 40.6l-0.8 0.2M165.3 83.9l-1.5 0.4M98.3 74.0l0.8 1.2M138.4 42.8l0.3 0.8M147.6 25.8l0.7 1.1M155.8 71.9l-0.4 0.1M49.2 15.7l1.6 1.1M154.5 88.0l-0.8 1.8M90.9 28.3l-1.1 0.6M61.2 60.0l1.0 1.4M139.6 57.1l0.4 0.8M14.0 80.1l-0.4 1.4M58.7 56.6l0.7 0.0M95.3 71.7l-0.2 0.0M103.4 17.5l0.3 1.0M40.1 80.1l-0.9 0.7" stroke="#303000" stroke-width="1.8"/>
<path d="M156.1 6.1l0.2 0.0M29.1 17.5l-0.2 0.1M7.1 64.1l0.8 1.2M46.8 23.2l0.4 0.6M100.2 86.3l0.1 1.0M112.5 80.2l-0.4 0.8M138.4 8.6l-0.6 0.1M164.2 9.8l-0.2 1.0M145.1 67.2l0.4 0.6M114.3 9.0l-0.8 0.3M48.6 28.8l-1.2 0.7M96.5 9.5l-0.7 1.5M70.6 77.4l-0.1 0.6M127.9 29.2l1.4 0.9M108.1 34.0l0.6 0.1M30.2 17.1l1.0 1.0M64.2 69.0l-0.0 0.2M45.1 79.0l-0.0 0.7M163.2 65.5l-0.1 0.1M78.9 74.7l-0.0 0.1M59.9 47.5l-0.2 0.3M48.9 56.3l0.2 0.8M17.0 38.4l1.1 0.1M128.4 65.2l-0.2 1.0M112.6 57.4l-0.4 1.3M28.9 76.8l-1.5 0.3M51.6 24.7l-0.3 1.4M85.3 57.3l-0.2 0.2M163.3 5.2l0.8 0.7M70.8 75.7l-1.8 0.0M76.9 81.5l-1.6 0.4M159.8 66.9l0.8 1.2M153.3 66.5l0.8 0.9M100.5 87.3l1.5 0.4M147.9 32.4l0.6 1.2M48.5 31.3l1.8 0.4M48.9 23.1l0.0 0.0M41.0 24.0l-0.2 0.8" stroke="#26260a" stroke-width="1.7"/>
<path d="M11.6 70.0l0.1 0.2M13.8 23.9l-0.0 0.8M35.6 64.4l-1.3 0.1M74.1 80.0l-0.4 0.1M146.4 60.0l0.6 0.3M79.0 15.0l-0.0 0.1M80.9 63.6l-0.0 0.0M122.4 6.8l0.0 0.1M10.5 22.1l-0.0 0.2M89.6 67.0l0.1 0.4M132.8 54.4l0.1 0.0M120.4 56.1l0.5 0.2M29.3 57.0l0.3 1.2M83.1 53.5l0.4 0.5M122.6 58.7l0.8 0.3M9.1 70.3l0.8 0.6M159.6 28.5l1.0 0.6M144.2 47.0l0.3 0.5M97.1 55.1l-0.3 0.3M31.6 77.4l0.4 0.1M30.7 74.6l-0.2 0.3M103.6 50.8l-0.9 0.8M107.1 55.7l-1.3 0.1M51.3 51.9l-0.6 0.5M92.6 56.2l-0.6 1.1M122.6 32.6l-0.3 0.7M94.9 78.5l-0.6 1.1M141.0 76.1l-0.8 1.1M90.4 53.9l-0.1 1.3M161.3 69.7l0.8 0.4M151.6 42.1l0.7 0.4M10.2 43.1l0.7 0.3M31.1 87.2l0.5 0.8M120.2 71.4l0.2 0.0" stroke="#26260a" stroke-width="1.2"/>
<path d="M0.8 39.7l-0.1 0.9M82.6 40.3l0.3 0.4M67.4 16.6l0.0 0.3M52.8 38.6l-0.6 1.1M29.3 11.7l1.0 1.3M63.4 31.0l-1.6 1.0M113.4 1.0l-0.0 0.6M97.3 77.7l-0.9 0.3M104.5 78.9l-1.1 0.4M105.0 44.1l0.2 1.5M69.3 57.5l-0.0 0.0M65.7 23.0l-0.1 0.4M99.1 37.2l-0.4 0.4M44.9 50.0l-1.0 0.5M45.2 55.3l-0.8 1.0M38.7 27.7l1.1 0.3M101.9 26.3l0.1 0.6M6.2 42.3l1.1 0.2M62.6 66.8l-0.3 0.4M48.9 62.6l-1.3 1.0M128.8 54.9l-0.0 0.0M8.2 55.8l-0.0 1.7M130.9 17.5l0.1 0.1M32.4 16.2l0.7 0.8M2.6 38.6l0.0 0.0M27.3 8.8l0.2 1.1M90.5 31.2l-0.1 1.6M48.8 16.4l-0.0 1.7M123.5 42.3l1.2 0.9M131.6 27.2l0.3 0.9" stroke="#3c3c0c" stroke-width="1.7"/>
<path d="M75.5 30.5l0.1 0.0M103.4 40.7l0.1 1.6M161.3 70.9l-0.7 0.5M33.3 32.8l1.9 0.1M162.7 18.2l-1.9 0.0M106.2 86.7l-0.1 1.9M122.0 1.1l-0.7 1.8M100.5 57.6l-0.0 0.0M79.3 31.7l-0.9 0.8M83.9 63.3l0.2 0.2M21.3 24.9l1.4 0.6M58.9 39.5l1.3 0.7M126.2 7.7l-0.3 0.9M88.3 41.9l-0.6 0.2M31.7 2.8l-0.1 0.0M5.8 75.0l0.2 1.1M90.7 15.7l0.5 0.2M59.2 70.1l-1.9 0.4M140.8 62.2l0.1 1.0M105.8 63.3l0.3 1.6M91.9 38.2l0.5 0.8M134.5 27.5l-1.8 0.7M15.2 77.1l0.6 0.4M103.2 78.7l-1.1 0.9M140.7 11.2l-0.6 0.1M32.0 44.0l-1.3 0.5M24.4 58.5l-1.9 0.0M104.9 51.7l-0.3 1.4M132.1 2.6l0.3 0.0M55.8 7.4l1.1 0.7M140.7 30.2l-1.0 1.0M36.1 58.1l0.7 0.8M50.9 71.5l-0.2 1.5" stroke="#3c3c0c" stroke-width="1.8"/>
<path d="M164.2 46.2l-0.8 0.3M20.7 44.6l0.0 0.3M94.5 68.0l0.9 0.5M56.9 50.3l-1.0 0.6M32.6 52.6l0.1 0.2M13.8 42.4l-0.1 0.0M62.7 42.9l1.2 1.4M90.3 40.1l-1.1 0.6M39.2 44.6l-0.1 0.8M112.5 71.0l0.0 0.0M162.3 17.7l-0.1 1.5M1.0 9.9l0.6 0.7M127.5 46.5l-1.1 0.4M54.6 68.7l-0.1 0.4M58.9 9.1l-1.0 0.6M128.3 69.0l-0.1 0.1M92.0 60.0l-0.3 1.7M68.6 84.5l0.7 0.2M75.2 39.7l-1.7 0.5M159.1 29.8l-0.1 0.2M72.0 83.6l0.3 0.3M60.5 34.8l-0.9 0.4M63.3 26.1l-0.1 0.0M107.3 58.1l-0.0 0.0M158.1 28.1l-1.7 0.7M168.9 49.1l-0.1 0.2M145.7 74.2l0.2 0.5M74.4 47.9l0.7 1.2M40.2 55.8l0.0 0.7M12.8 35.9l0.1 0.4M89.7 40.7l-0.2 0.8M165.1 81.9l1.1 1.3M71.9 39.4l1.1 0.4M22.2 84.0l-0.3 1.8M123.2 34.4l1.8 0.0M79.6 41.1l-0.1 0.1M61.4 63.4l-0.1 0.3M78.8 29.9l-0.0 0.0M44.8 64.7l1.0 0.1" stroke="#303000" stroke-width="1.7"/>
<path d="M164.8 69.0l0.7 0.7M158.1 24.8l0.5 0.2M33.0 7.1l0.1 1.4M18.7 78.3l-0.5 0.1M59.5 76.8l0.8 0.1M146.1 29.4l0.2 0.5M75.0 33.4l-0.8 1.2M142.8 25.9l-0.7 1.1M23.2 38.4l0.5 1.2M83.6 58.3l-0.9 0.6M89.8 61.2l-0.0 0.5M102.4 54.0l-0.3 0.4M99.7 13.6l-0.9 0.1M52.7 15.2l-1.1 0.0M10.2 75.3l1.2 0.1M91.8 69.7l-0.2 0.2M100.1 44.9l0.7 0.3M59.5 38.0l0.2 0.2M115.7 78.4l0.5 0.8M121.1 15.3l-0.1 0.2M161.2 28.4l-0.8 0.3M30.9 27.3l-1.2 0.4M36.8 79.7l-0.5 0.1M104.9 32.1l0.9 0.4M167.4 82.9l-0.5 0.1M55.6 30.4l-1.0 0.6M17.0 26.0l0.9 0.4M43.9 6.8l0.5 0.5M115.7 12.8l-0.4 0.8M81.0 22.1l-0.2 0.2M101.8 55.6l0.1 0.0" stroke="#303000" stroke-width="1.3"/>
<path d="M128.9 73.0l1.0 0.2M62.6 84.6l1.0 0.1M5.9 24.3l0.4 0.2M100.9 76.6l0.0 0.0M97.5 60.8l0.3 0.5M102.1 80.9l-0.9 0.1M63.0 60.5l-0.1 0.3M50.4 74.3l-1.2 0.2M9.6 74.9l-0.3 0.6M129.0 82.2l0.2 0.1M10.0 36.2l-0.0 0.0M99.0 45.5l0.5 1.1M102.5 78.9l-0.3 1.0M126.6 51.1l-1.0 0.5M76.6 49.4l0.1 0.2M23.7 59.8l-0.2 0.3M12.4 24.9l0.5 0.4M32.5 12.0l-0.9 0.8M22.5 27.7l0.3 0.0M55.7 39.1l-0.7 0.3M65.9 23.8l-0.7 0.1M162.7 72.1l0.7 0.1M90.8 5.6l-0.0 0.4M165.1 19.0l0.0 0.0M2.0 73.4l0.3 0.1M15.3 24.0l-0.7 0.2M60.7 45.7l-0.5 0.3M87.2 7.2l0.0 1.1M168.1 74.5l1.1 0.1M161.5 34.2l-0.1 0.3M102.5 43.0l-1.0 0.0M41.6 42.5l0.5 0.4M23.1 19.2l-0.7 0.4M41.1 45.4l-0.1 0.4M95.0 63.7l0.2 0.1M147.4 79.8l0.1 0.2" stroke="#303000" stroke-width="1.1"/>
<path d="M76.9 58.4l-0.2 0.1M102.6 6.3l-0.0 0.0M150.2 45.0l-0.1 0.1M64.8 19.6l0.2 0.3M141.7 20.6l0.4 0.1M29.9 22.4l-0.3 0.1M99.7 78.9l0.4 0.1M160.8 86.4l0.1 0.1M67.8 43.9l-0.2 0.1M54.9 83.1l-0.1 0.5M158.0 12.3l-0.5 0.6M16.8 51.6l-1.0 0.0M70.7 38.3l0.2 0.1M27.3 51.6l-0.0 0.0M150.6 79.1l0.3 0.6M6.2 33.3l0.4 0.3M7.9 17.2l-0.0 0.0M151.4 40.9l-0.3 0.1M151.1 52.9l-0.7 0.6M87.0 16.6l-0.1 0.9M46.6 19.5l0.1 0.1M102.3 69.3l-0.0 0.2M162.1 78.8l-0.2 0.3M144.7 16.4l-0.0 0.0M3.9 53.3l-0.0 0.2M59.0 40.1l-0.6 0.5M44.7 37.4l0.1 0.0M146.8 18.6l0.2 0.5M135.7 36.8l0.2 0.4M115.5 15.9l0.8 0.4M118.4 27.2l0.1 0.0M156.3 21.4l0.3 1.0M10.3 85.8l0.1 0.1" stroke="#3c3c0c" stroke-width="1.0"/>
<path d="M131.4 37.4l-0.3 0.8M121.8 40.7l0.1 0.1M99.0 57.3l-0.1 0.1M29.8 73.4l1.1 0.2M124.5 61.8l-0.9 0.2M138.6 11.9l-0.2 0.4M69.3 34.2l0.7 0.2M165.9 18.0l-0.2 0.4M49.7 34.8l-0.1 0.1M127.0 53.1l-0.1 0.3M93.6 82.5l0.0 0.0M149.1 1.3l0.7 0.9M118.4 43.2l-0.3 0.1M14.8 30.1l0.3 0.1M97.4 20.2l-0.4 0.4M87.4 33.0l-0.2 0.0M2.0 72.8l1.1 0.4M20.7 82.9l-0.7 0.4M72.5 37.4l-0.1 0.1M144.5 36.0l-0.1 0.0M37.1 28.7l0.1 0.5M78.6 77.3l0.0 0.6M47.0 69.9l-0.4 0.0M145.7 40.0l0.1 0.0M134.7 49.3l-0.1 0.1M80.2 37.5l0.3 0.3M10.8 16.7l-0.2 0.2M120.9 40.0l-0.2 0.3M138.0 35.1l-0.7 0.3M159.6 15.4l0.4 0.6M54.4 36.7l0.7 0.2M13.6 12.4l0.6 0.1M3.8 39.3l-0.2 0.2M101.6 25.8l-0.4 0.4M132.0 32.9l0.7 0.1M120.9 39.9l-0.8 0.3M150.4 8.2l0.1 0.6" stroke="#26260a" stroke-width="1.1"/>
<path d="M56.9 46.0l0.2 0.0M54.3 20.6l0.3 1.8M147.5 16.2l-0.2 1.6M11.0 6.7l-0.0 0.2M138.9 26.7l0.5 0.9M10.3 84.7l-1.6 0.7M149.9 52.1l-1.8 0.1M94.3 46.5l-0.2 0.5M74.7 49.6l1.2 0.3M69.4 7.4l-1.7 0.5M16.3 22.1l-0.1 0.0M38.7 47.6l-1.4 0.5M119.4 65.8l1.0 0.7M1.2 76.6l-1.7 1.1M48.0 18.6l0.3 0.1M91.1 11.0l0.1 0.9M128.9 23.6l1.4 0.1M134.3 54.2l1.1 0.1M73.4 0.6l-0.4 1.4M155.9 24.3l0.1 0.2M51.5 75.2l0.1 0.1M49.3 57.6l0.8 0.5M34.4 14.0l0.1 0.1M99.2 52.9l0.4 0.4M146.7 7.1l-0.6 0.4" stroke="#3c3c0c" stroke-width="1.9"/>
<path d="M119.5 48.1l-0.0 0.1M81.7 16.7l-1.6 0.6M106.1 42.3l-0.1 0.0M48.1 24.1l0.8 0.5M127.7 53.2l-1.2 0.8M17.7 72.3l0.1 0.5M146.0 74.0l-1.4 0.3M62.9 33.6l-1.8 0.4M105.1 42.3l-0.5 0.2M33.9 40.5l0.8 0.2M169.2 44.2l-0.1 0.8M99.6 12.8l-0.5 0.1M87.2 1.0l0.9 0.4M102.9 26.1l-1.3 0.1M160.9 48.9l0.8 1.1M130.7 46.1l0.5 0.1M147.0 63.2l-0.8 1.2M91.0 35.0l1.8 0.3M110.4 57.0l0.2 0.5M124.0 41.3l-0.6 0.6M104.3 61.0l0.2 1.2M1.0 17.3l0.0 0.1M69.1 49.2l1.1 0.3M128.9 53.1l1.2 0.0M149.7 24.3l-0.9 1.7M109.5 55.1l-0.4 0.2M153.7 59.8l-0.5 0.3M44.6 18.9l-0.5 1.1M121.2 40.1l-1.0 1.1M59.6 50.7l0.6 0.8M152.1 46.6l-1.3 0.8M99.0 31.1l0.7 1.2M56.6 71.2l0.4 0.1" stroke="#1e1e00" stroke-width="1.8"/>
<path d="M13.7 65.7l0.5 0.4M43.4 42.4l-0.4 0.4M67.3 49.9l-0.0 0.0M1.0 34.4l-0.0 0.3M97.7 23.9l-0.1 0.1M159.3 68.4l-0.2 0.3M146.4 58.9l0.0 0.8M86.6 70.3l0.4 0.7M112.5 80.0l-0.0 0.4M161.3 54.5l0.7 0.4M141.6 80.7l-0.4 0.0M153.7 72.2l-0.0 0.0M74.4 1.5l0.2 0.6M30.7 14.1l0.8 0.7M37.7 18.3l0.0 0.7M86.9 2.6l0.5 0.6M53.0 8.6l1.0 0.4M100.1 11.0l-0.1 0.1M82.4 12.6l-0.0 0.0M80.1 2.6l-0.2 0.4M29.0 51.8l-0.0 0.1M98.7 33.5l-0.0 0.2M64.9 37.9l0.8 0.7M137.9 38.0l0.0 0.0M58.6 31.7l0.8 0.6M59.1 51.6l-0.4 0.1M152.4 36.5l0.5 0.8M86.4 72.2l-0.9 0.5M40.3 48.8l-0.1 0.4" stroke="#303000" stroke-width="1.0"/>
<path d="M107.3 3.5l0.0 0.0M49.9 5.7l-1.0 1.0M3.5 66.0l0.7 0.8M144.2 35.0l-0.1 0.8M164.0 29.0l0.1 0.2M9.1 76.4l0.4 1.1M63.6 82.0l-0.6 1.0M146.4 12.3l0.1 0.0M145.2 64.7l-0.3 1.1M63.2 10.0l-0.0 0.5M133.6 71.0l-0.4 0.9M166.3 16.9l-0.5 0.9M26.8 33.4l0.4 0.9M80.8 86.4l-0.7 0.6M168.7 0.5l-0.5 0.3M98.1 87.6l0.2 1.1M147.6 67.5l1.2 0.1M36.5 86.3l-0.4 0.4M87.0 34.3l0.9 1.2M20.2 3.1l-0.2 0.2M37.6 25.8l0.3 0.0M132.4 24.9l1.2 0.0M84.9 31.1l-1.2 0.3M110.1 39.6l0.2 0.2M17.7 16.0l0.4 0.1M57.2 31.2l0.0 0.0M132.9 49.8l0.3 1.1M122.7 59.0l0.7 0.1M41.6 64.3l0.9 1.0M144.9 33.0l-0.2 0.0" stroke="#1e1e00" stroke-width="1.4"/>
<path d="M85.6 80.3l-0.1 0.1M4.1 83.7l0.0 0.0M91.7 70.2l0.6 0.0M78.6 86.5l-0.4 0.2M165.8 63.3l-0.0 0.1M56.5 32.0l0.3 1.0M112.5 9.2l0.1 0.3M81.7 47.4l0.3 0.7M95.5 63.9l0.1 0.4M118.9 82.5l-0.9 0.0M94.4 17.5l0.5 0.3M120.5 76.3l0.6 1.0M5.9 87.2l0.8 0.1M92.9 49.4l0.3 0.2M85.0 86.1l-0.5 0.9M30.2 34.2l-1.0 0.2M112.8 67.3l-1.1 0.3M15.8 82.1l-0.6 0.1M22.8 46.2l-0.4 0.1M123.2 61.6l0.8 0.8M43.0 19.8l-0.8 0.1M0.4 76.4l-0.4 0.1M93.2 10.4l-0.0 0.1M141.4 3.2l0.3 0.9" stroke="#303000" stroke-width="1.2"/>
<path d="M81.1 46.9l-0.1 0.7M55.6 5.7l1.9 0.1M5.8 67.7l-0.4 0.1M107.3 75.0l0.5 0.9M17.2 37.9l0.5 1.0M29.7 76.3l-1.2 0.0M158.5 65.7l-1.1 1.1M68.4 80.2l-0.1 0.0M156.0 15.9l0.2 0.8M45.4 28.3l-0.8 0.9M137.2 25.9l-0.1 1.0M17.2 5.2l0.4 0.7M166.7 86.7l-0.0 0.2M158.5 28.1l-1.3 0.5M11.6 13.3l0.0 0.1" stroke="#303000" stroke-width="1.9"/>
<path d="M135.9 1.3l-0.3 0.0M134.5 46.4l-1.2 0.2M54.8 20.7l1.1 0.6M3.2 58.5l0.1 0.2M34.1 11.6l0.7 0.2M130.5 43.4l0.1 0.3M61.8 78.3l0.2 0.1M37.0 37.9l0.4 0.6M153.4 58.9l0.0 0.5M153.7 51.6l0.1 0.2M138.6 66.4l-0.3 0.8M134.5 58.0l-0.2 0.0M59.0 4.3l-0.4 0.5M168.9 51.9l0.6 0.3M74.4 53.9l-0.8 0.4M5.2 64.9l0.1 0.5M79.5 77.2l0.2 0.1M74.8 41.0l0.4 1.0M79.4 83.7l-0.7 0.3M33.7 63.6l0.3 0.5M25.7 56.9l-1.1 0.5M162.0 18.4l0.3 0.1M123.8 87.1l0.2 0.9M121.6 4.8l-1.0 0.1M135.7 58.6l-0.2 0.1" stroke="#1e1e00" stroke-width="1.2"/>
<path d="M42.6 43.7l1.3 0.0M7.8 79.2l0.5 0.4M11.5 28.2l0.8 1.1M126.4 44.3l0.3 0.2M75.4 4.5l0.4 1.0M42.5 52.1l1.0 1.1M65.7 53.4l-0.3 1.2M72.5 57.0l1.4 0.8M105.8 60.4l-1.5 0.1M56.2 44.8l-0.6 0.2M45.3 73.2l-0.0 0.5M152.9 0.8l0.8 0.0M117.4 55.7l1.1 1.1M59.4 4.2l0.4 0.6M16.0 54.2l0.4 0.6M67.9 77.8l0.6 0.4M153.5 61.5l-0.2 0.1M18.7 31.0l-1.6 0.6M93.4 17.8l-0.2 1.0M18.8 72.4l0.4 0.0M49.4 62.1l-1.1 0.4M62.6 27.5l1.5 0.3M100.8 64.8l0.7 1.4M120.2 35.7l0.5 1.2M167.0 33.0l-0.0 0.0M81.2 37.7l-0.2 1.4M99.8 25.3l0.2 0.9M47.8 0.8l0.8 0.9M19.1 31.1l-0.1 0.5M62.0 32.7l0.1 0.2M128.4 36.5l-0.5 0.4M66.8 28.6l0.3 0.4M134.6 3.3l0.9 0.4M36.6 4.0l-0.6 0.3M148.1 80.2l1.6 0.1M53.3 65.0l0.1 0.6M76.7 76.7l-0.9 0.7" stroke="#26260a" stroke-width="1.6"/>
<path d="M31.4 11.2l-0.2 0.1M168.8 49.3l-0.5 0.1M124.1 12.0l0.2 0.6M100.0 42.7l1.2 0.0M160.1 0.9l-0.7 0.5M163.6 20.7l0.2 1.3M16.7 15.1l-0.3 0.0M85.7 36.5l-1.1 0.5M53.5 37.4l0.1 0.3M64.0 0.7l0.4 0.7M151.7 43.8l0.2 0.4M133.6 74.1l-0.1 0.1M24.1 77.0l-0.6 0.1M22.7 78.1l0.9 0.8M98.7 42.3l-1.3 0.3" stroke="#1e1e00" stroke-width="1.9"/>
<path d="M112.5 20.5l0.0 0.1M134.3 40.4l0.9 0.5M154.3 23.0l0.3 1.1M70.8 73.8l-0.2 0.4M108.2 76.6l-0.3 1.3M0.6 4.6l0.1 0.1M114.5 38.2l-0.5 0.6M151.3 4.8l-0.2 0.4M36.3 33.3l0.8 0.2M147.7 38.3l0.1 0.4M124.7 34.4l1.2 1.0M77.9 82.4l1.0 0.3M108.4 62.5l0.8 0.1M54.1 49.4l-0.3 1.3M38.9 15.3l-0.0 0.1M54.0 54.4l-0.1 0.1M54.8 65.6l-1.5 0.2M43.4 50.0l0.7 0.5M132.9 57.7l0.5 0.1M0.2 2.8l0.0 0.1M164.4 80.6l-0.0 0.1M138.0 9.2l0.2 0.4M147.5 67.5l0.1 0.8M79.0 41.6l-0.6 1.1M125.1 85.9l-0.6 0.0M113.3 32.5l-1.8 0.1M29.5 54.0l0.7 1.7M69.7 3.1l0.2 0.0M48.9 83.3l-0.0 0.4M139.0 34.4l-1.2 0.7M23.7 43.4l0.4 0.7M50.6 38.4l0.3 0.8" stroke="#26260a" stroke-width="1.8"/>
<path d="M26.4 23.7l0.7 0.4M30.5 74.3l1.1 1.2M145.5 55.5l1.3 0.0M144.4 80.8l0.1 0.4M120.7 15.9l0.0 0.1M29.7 75.7l0.2 0.5M25.1 68.9l0.2 0.1M68.9 0.0l-0.3 1.5M149.8 55.1l0.3 0.6M87.4 35.4l0.8 0.4M29.3 23.3l0.3 0.6M94.4 54.3l1.1 1.3M87.1 67.6l0.0 0.2M121.3 67.3l-0.3 0.1M168.5 53.4l-0.5 0.5M118.1 41.2l0.0 1.1M102.3 27.9l0.1 0.1M119.6 68.3l-0.1 0.7M159.7 21.8l0.1 0.0" stroke="#26260a" stroke-width="1.5"/>
<path d="M145.2 67.3l0.1 0.5M5.9 41.8l-0.4 0.8M116.3 43.6l-0.4 0.1M145.7 3.7l0.0 0.4M12.8 13.8l-1.1 0.8M105.0 70.4l0.9 0.4M71.6 79.4l-0.3 0.3M59.8 77.4l-1.1 0.4M54.3 3.7l-1.2 0.6M64.3 74.1l0.0 0.0M28.1 39.5l0.3 0.5M102.2 36.9l0.8 0.7M138.1 28.5l-0.6 0.2M141.8 43.3l0.2 0.4M119.5 56.6l0.1 0.4M138.2 72.0l0.6 1.5M46.2 33.9l-0.2 0.7M60.1 7.0l0.2 0.9M10.3 18.2l1.4 0.8M152.6 51.9l-0.1 0.1M19.0 2.6l-1.5 0.1M12.8 49.5l-0.7 0.4M90.5 8.7l0.5 0.8M85.0 49.7l0.5 0.6M76.4 20.5l0.1 0.4M160.9 55.0l0.0 0.0M13.5 47.7l0.1 1.0M94.7 75.7l-0.9 0.6M123.4 6.3l-1.3 0.4M110.6 84.5l0.0 0.0M131.9 44.7l-1.2 0.0M140.1 38.1l0.1 0.7M30.4 51.7l0.1 0.0M18.7 77.6l0.5 0.9M98.6 70.8l-0.7 1.0M28.4 0.3l-0.2 0.9" stroke="#1e1e00" stroke-width="1.5"/>
<path d="M111.8 50.8l1.3 0.3M151.2 10.6l0.6 0.5M107.4 51.8l0.1 0.3M127.1 76.4l-1.3 0.4M134.7 76.6l0.9 0.4M89.7 36.6l-0.0 0.0M145.5 85.3l-0.5 1.0M164.4 69.2l0.1 0.0M9.0 12.4l-0.6 0.2M114.1 44.1l-0.1 0.9M127.0 30.7l-0.0 0.4M101.3 75.2l1.3 0.5M133.6 80.8l0.7 0.5M71.4 15.2l0.7 0.9M73.6 25.5l0.6 1.1M55.0 63.7l0.6 0.3M94.8 67.1l0.2 0.5M29.7 68.7l0.9 0.3M123.5 13.1l0.0 0.3M168.8 4.9l0.4 0.3M10.8 63.8l0.5 1.0M107.8 60.3l-0.3 0.2M152.5 29.6l-0.6 1.3M48.7 53.8l-0.5 0.5M162.4 33.4l0.2 1.3M123.2 25.7l0.5 0.9M116.2 23.8l-0.4 0.3M158.7 52.6l0.9 0.6M61.3 17.4l-0.9 0.4M52.0 79.5l-0.2 0.1M131.3 81.6l1.1 0.7M41.8 73.0l0.0 0.1M103.2 71.0l-1.4 0.4M100.8 20.2l0.3 0.3M115.7 71.5l0.3 0.3M138.9 48.9l0.2 0.3" stroke="#303000" stroke-width="1.4"/>
<path d="M0.0 49.1l0.7 0.1M163.7 70.8l0.8 0.1M85.0 37.0l0.2 0.0M95.6 84.7l0.3 0.1M60.0 27.9l0.6 0.4M162.8 58.8l0.1 0.1M132.5 8.6l0.2 0.0M5.0 17.4l-0.6 0.5M10.4 46.2l0.2 0.3M75.5 85.0l0.6 0.2" stroke="#1e1e00" stroke-width="0.9"/>
<path d="M97.0 64.6l-0.1 0.2M159.1 45.0l-0.3 0.0M158.7 35.0l1.0 0.1M23.5 65.4l0.1 0.0M113.4 3.4l-0.1 0.5M89.1 31.3l0.1 0.8M107.6 43.7l0.5 0.8M29.5 45.4l0.1 0.6M0.2 31.9l-0.3 0.9M23.1 77.9l0.2 0.5M42.6 79.5l-0.7 0.3M96.0 39.6l-0.5 0.3M144.5 43.8l-0.2 0.1" stroke="#26260a" stroke-width="0.9"/>
<path d="M166.3 34.6l0.1 0.3M99.4 60.6l0.9 0.5M41.8 33.8l0.4 1.4M33.5 20.4l1.0 1.3M112.1 48.0l0.6 0.5M20.9 18.8l-0.2 0.4M21.4 65.3l0.8 0.2M28.9 70.3l0.5 1.3M31.0 14.3l0.3 0.6M82.2 38.0l-0.3 0.9M70.0 59.5l-0.2 0.3M47.0 64.3l0.9 0.1M34.4 51.5l-0.6 0.2M145.8 18.5l-1.0 0.1M78.8 13.3l-1.5 0.5M110.4 76.9l-1.4 0.6M148.9 10.0l-0.3 0.1M142.0 38.0l1.1 1.0M7.8 32.7l-0.5 1.5M8.9 27.5l-0.1 0.2M49.8 5.6l-0.3 0.4M60.3 24.1l-1.3 0.3" stroke="#3c3c0c" stroke-width="1.5"/>
</g></svg>
<svg x="361.8" y="396.1" width="170.1" height="90.0" viewBox="0 0 170.1 90.0" overflow="hidden">
<rect width="170.1" height="90.0" fill="#000"/>
<filter id="b15" x="-10%" y="-10%" width="120%" height="120%"><feGaussianBlur stdDeviation="0.45"/></filter><g filter="url(#b15)" fill="none" stroke-linecap="round">
<path d="M2.0 66.2l1.0 0.1M96.4 54.4l-0.2 0.0M98.4 -8.4l-0.0 0.2M118.3 49.4l0.1 0.3M83.6 56.5l0.2 0.0" stroke="#12a012" stroke-width="1.7"/>
<path d="M84.2 34.4l0.2 0.4M146.2 38.5l-0.2 0.5" stroke="#0e8a0e" stroke-width="1.6"/>
<path d="M98.4 103.0l1.1 0.9M110.8 17.2l1.6 0.1M128.0 79.6l0.7 0.6M109.1 54.4l-1.2 1.2M18.9 90.9l0.2 0.3" stroke="#12a012" stroke-width="3.0"/>
<path d="M95.1 82.3l-0.0 0.1M136.7 77.3l-0.2 0.1M97.4 49.9l-0.5 0.2M103.9 62.4l0.3 0.2" stroke="#33ee33" stroke-width="2.2"/>
<path d="M77.3 89.9l-0.8 0.6" stroke="#22dd22" stroke-width="2.2"/>
<path d="M3.0 47.7l-0.8 0.3M65.3 25.6l0.2 1.0" stroke="#0e8a0e" stroke-width="1.7"/>
<path d="M46.9 65.0l-0.0 0.6M83.0 46.1l-0.2 0.3" stroke="#19b519" stroke-width="2.4"/>
<path d="M82.3 56.0l-0.1 0.2M118.0 65.5l-0.6 0.5M161.5 73.1l-0.5 0.2M103.7 68.0l-0.3 1.2M143.0 28.2l-0.3 0.2" stroke="#0e8a0e" stroke-width="2.0"/>
<path d="M57.2 39.7l-0.7 0.5M142.1 39.0l0.5 0.7M124.9 32.7l-0.6 0.4" stroke="#0e8a0e" stroke-width="1.5"/>
<path d="M81.4 34.7l-0.2 0.0M79.8 42.3l0.8 0.2M96.0 83.7l-0.1 0.6" stroke="#22dd22" stroke-width="1.4"/>
<path d="M141.1 69.1l0.0 0.3" stroke="#0e8a0e" stroke-width="3.1"/>
<path d="M84.8 45.0l-0.1 0.0" stroke="#19b519" stroke-width="2.3"/>
<path d="M100.9 62.3l0.1 0.0M96.2 35.5l0.9 0.0M110.5 29.3l-0.4 1.1" stroke="#33ee33" stroke-width="1.9"/>
<path d="M104.9 81.8l0.0 0.2M106.4 44.0l0.1 0.0" stroke="#0a6a0a" stroke-width="1.4"/>
<path d="M123.1 37.1l-0.1 0.4M65.1 38.9l-0.2 0.4M35.6 6.9l-0.0 0.0" stroke="#12a012" stroke-width="2.0"/>
<path d="M134.1 34.7l-0.8 0.1M82.6 29.9l-1.1 0.1" stroke="#12a012" stroke-width="2.6"/>
<path d="M66.2 99.8l0.0 0.1M85.1 43.2l0.1 0.0M85.6 55.1l-0.0 0.0" stroke="#12a012" stroke-width="1.6"/>
<path d="M68.9 35.0l-0.2 0.9M121.0 4.1l0.1 0.0M128.3 40.7l-0.0 0.0" stroke="#22dd22" stroke-width="1.6"/>
<path d="M26.4 59.0l-0.3 1.1" stroke="#0a6a0a" stroke-width="2.9"/>
<path d="M81.3 78.0l-0.5 1.1M135.7 66.2l0.8 0.8M109.7 56.0l0.9 0.8" stroke="#0a6a0a" stroke-width="3.2"/>
<path d="M53.4 32.5l0.2 1.4M52.1 93.7l-0.8 0.9" stroke="#0a6a0a" stroke-width="2.6"/>
<path d="M112.6 36.7l0.1 0.1M104.2 79.0l0.0 0.0M91.1 65.5l-0.1 0.0M75.3 64.5l0.1 0.1M87.3 72.1l-0.0 0.0M99.8 14.0l0.1 0.8" stroke="#19b519" stroke-width="1.9"/>
<path d="M124.1 37.4l-0.1 0.1" stroke="#19b519" stroke-width="2.8"/>
<path d="M24.9 15.6l0.2 1.8M144.6 7.3l-1.1 0.4M58.7 28.2l0.5 1.0" stroke="#19b519" stroke-width="3.2"/>
<path d="M43.7 81.4l-0.5 0.1M54.7 34.3l-0.4 0.6M74.4 37.7l1.5 0.3" stroke="#22dd22" stroke-width="3.2"/>
<path d="M63.2 75.7l0.5 0.0" stroke="#12a012" stroke-width="1.5"/>
<path d="M117.8 61.0l0.4 1.0M106.6 21.7l0.2 0.8M110.0 39.2l0.1 0.3M59.9 83.8l0.7 0.5" stroke="#0e8a0e" stroke-width="2.2"/>
<path d="M85.3 29.9l0.7 0.4M111.6 44.6l0.6 0.4M69.4 50.7l0.1 0.0M142.5 17.6l0.8 0.5" stroke="#0a6a0a" stroke-width="1.6"/>
<path d="M71.9 24.9l-0.5 0.2M123.2 58.3l-1.4 0.3" stroke="#0e8a0e" stroke-width="2.6"/>
<path d="M109.4 48.3l-0.2 0.3M143.2 43.7l-0.5 1.0" stroke="#19b519" stroke-width="2.1"/>
<path d="M43.7 31.3l0.5 0.5" stroke="#19b519" stroke-width="1.7"/>
<path d="M79.9 54.6l-0.2 0.0M86.5 38.3l0.0 0.3M8.3 74.8l-0.2 0.5M157.4 41.4l0.8 0.2M90.0 36.9l-0.3 0.0" stroke="#19b519" stroke-width="1.8"/>
<path d="M84.4 86.3l-0.8 0.5M116.4 101.8l0.4 1.4" stroke="#19b519" stroke-width="2.7"/>
<path d="M95.2 47.8l-0.8 1.0M99.2 46.6l0.1 0.3" stroke="#0a6a0a" stroke-width="2.8"/>
<path d="M76.7 45.2l-0.0 0.0" stroke="#33ee33" stroke-width="1.5"/>
<path d="M139.0 58.4l-0.6 1.4M141.4 33.3l1.3 0.0M95.0 49.4l-0.7 1.4" stroke="#0e8a0e" stroke-width="3.0"/>
<path d="M57.5 29.9l0.1 0.2M90.1 54.1l-0.6 0.4M67.4 61.9l-0.3 0.2" stroke="#22dd22" stroke-width="2.0"/>
<path d="M9.2 47.1l-0.0 0.6M74.5 20.3l-0.4 0.6M103.1 65.2l0.1 0.5" stroke="#0e8a0e" stroke-width="1.9"/>
<path d="M111.5 81.2l-0.5 0.7" stroke="#12a012" stroke-width="2.8"/>
<path d="M37.0 4.1l-0.2 0.3M84.0 87.0l0.1 0.2" stroke="#0e8a0e" stroke-width="2.8"/>
<path d="M125.6 33.7l0.1 0.1M44.1 56.4l0.1 0.1M104.8 59.5l0.7 0.9" stroke="#19b519" stroke-width="2.9"/>
<path d="M110.4 57.4l0.6 0.8M164.1 81.4l-0.2 1.0" stroke="#22dd22" stroke-width="1.7"/>
<path d="M98.9 70.3l-0.2 0.2M69.5 43.8l-0.3 0.4M118.6 29.8l-0.2 0.4" stroke="#19b519" stroke-width="1.6"/>
<path d="M84.7 68.6l-0.1 0.6M147.0 55.3l0.1 0.8M118.5 9.8l0.1 0.0" stroke="#12a012" stroke-width="2.9"/>
<path d="M62.7 67.7l-1.1 0.6" stroke="#33ee33" stroke-width="3.0"/>
<path d="M114.4 84.5l0.9 0.3M148.9 76.1l-0.3 0.3M97.5 63.4l-1.5 0.3" stroke="#19b519" stroke-width="2.5"/>
<path d="M68.3 48.5l1.2 0.1M79.7 87.3l-0.2 0.3" stroke="#22dd22" stroke-width="2.4"/>
<path d="M158.8 35.3l-0.0 0.4" stroke="#12a012" stroke-width="2.3"/>
<path d="M85.5 85.8l-0.5 0.2M96.6 41.2l-0.1 0.0" stroke="#0a6a0a" stroke-width="2.0"/>
<path d="M104.5 61.6l0.0 0.7M83.7 38.6l-0.1 0.1" stroke="#0e8a0e" stroke-width="2.1"/>
<path d="M100.8 40.9l1.4 0.1M17.2 38.9l-0.3 0.3" stroke="#19b519" stroke-width="2.6"/>
<path d="M126.9 84.0l-0.2 0.6M126.8 69.1l0.0 0.3" stroke="#33ee33" stroke-width="1.6"/>
<path d="M90.3 104.9l-0.7 0.2M20.0 82.3l1.1 1.0" stroke="#0a6a0a" stroke-width="2.7"/>
<path d="M110.8 56.9l-0.1 0.1M78.8 56.6l-1.8 0.5M111.5 10.0l1.2 1.4" stroke="#0a6a0a" stroke-width="3.1"/>
<path d="M102.5 41.8l0.6 0.3M92.7 75.1l-0.2 0.6" stroke="#12a012" stroke-width="1.9"/>
<path d="M31.9 78.3l-0.5 0.9" stroke="#22dd22" stroke-width="2.3"/>
<path d="M99.1 33.8l-0.4 1.2" stroke="#22dd22" stroke-width="3.1"/>
<path d="M23.7 73.4l0.1 0.3M94.3 52.3l-0.2 1.3M92.5 25.5l-0.3 0.1" stroke="#33ee33" stroke-width="2.3"/>
<path d="M105.7 69.7l-0.9 0.8M107.7 71.9l-1.1 0.8M94.0 45.0l-0.0 0.1" stroke="#33ee33" stroke-width="2.4"/>
<path d="M95.2 27.9l0.3 0.4M97.0 84.6l-0.6 0.0M151.8 65.0l-0.2 1.2M105.6 42.9l-0.6 1.0M101.1 16.2l0.1 0.8" stroke="#33ee33" stroke-width="2.5"/>
<path d="M68.4 68.3l-0.1 0.2M101.4 24.0l0.5 0.3M95.6 67.3l0.7 0.2M80.0 53.5l0.3 0.7M126.8 48.7l-0.2 1.2M95.0 33.3l1.5 0.0M169.2 64.2l-0.4 1.2" stroke="#0e8a0e" stroke-width="2.5"/>
<path d="M97.3 58.8l-0.7 0.8M116.5 74.7l0.6 0.5M68.3 24.7l-0.1 0.2" stroke="#22dd22" stroke-width="2.1"/>
<path d="M95.0 35.2l-1.1 0.9" stroke="#22dd22" stroke-width="2.7"/>
<path d="M104.5 57.0l-0.1 0.3M155.5 2.5l-0.1 0.4" stroke="#12a012" stroke-width="2.1"/>
<path d="M81.1 71.1l-0.1 1.4" stroke="#0e8a0e" stroke-width="2.7"/>
<path d="M34.7 51.1l0.1 0.1M84.1 60.6l0.0 0.0M133.1 41.4l-0.0 0.4M98.0 40.6l-0.1 0.1" stroke="#0e8a0e" stroke-width="1.8"/>
<path d="M146.4 45.3l-0.4 0.1" stroke="#19b519" stroke-width="1.4"/>
<path d="M118.4 58.7l1.0 0.0" stroke="#22dd22" stroke-width="2.5"/>
<path d="M103.6 53.1l1.0 0.1" stroke="#0e8a0e" stroke-width="2.4"/>
<path d="M107.7 27.5l0.0 0.2" stroke="#22dd22" stroke-width="1.5"/>
<path d="M94.3 68.7l-1.4 0.9M165.0 3.4l-0.1 0.5M106.3 70.2l-0.0 0.0M112.6 62.9l-0.7 0.1" stroke="#0a6a0a" stroke-width="3.0"/>
<path d="M119.4 81.3l0.0 0.3" stroke="#0a6a0a" stroke-width="2.5"/>
<path d="M129.9 134.6l0.0 0.1" stroke="#0e8a0e" stroke-width="2.3"/>
<path d="M148.9 32.4l0.2 1.3" stroke="#22dd22" stroke-width="2.8"/>
<path d="M90.9 18.7l-0.1 0.1M105.1 104.6l-0.2 0.1" stroke="#22dd22" stroke-width="1.8"/>
<path d="M60.8 43.6l0.7 0.7M81.9 43.5l0.7 0.4" stroke="#12a012" stroke-width="1.8"/>
<path d="M95.7 78.3l-0.7 0.4" stroke="#33ee33" stroke-width="2.6"/>
<path d="M44.0 60.5l-0.1 0.8M117.9 56.4l0.2 0.1" stroke="#22dd22" stroke-width="2.9"/>
<path d="M115.6 27.8l1.8 0.2" stroke="#12a012" stroke-width="3.1"/>
<path d="M52.5 31.6l0.0 0.1M47.9 71.9l0.3 0.2" stroke="#19b519" stroke-width="2.2"/>
<path d="M66.7 84.6l0.0 0.1M59.0 82.6l0.1 0.3" stroke="#0a6a0a" stroke-width="1.9"/>
<path d="M92.2 81.8l-0.6 0.5" stroke="#22dd22" stroke-width="1.9"/>
<path d="M77.4 73.8l-1.2 0.3M102.0 89.8l0.5 0.4" stroke="#33ee33" stroke-width="2.1"/>
<path d="M33.4 14.2l0.1 1.6M85.5 23.6l0.0 0.1" stroke="#0e8a0e" stroke-width="2.9"/>
<path d="M84.1 71.9l-0.9 0.2" stroke="#33ee33" stroke-width="1.7"/>
<path d="M60.9 106.7l0.7 0.9" stroke="#19b519" stroke-width="3.0"/>
<path d="M59.2 45.1l-0.8 0.1M18.1 58.3l0.6 0.1" stroke="#19b519" stroke-width="1.5"/>
<path d="M104.1 28.6l-0.1 0.0M67.2 24.8l-0.0 0.1" stroke="#12a012" stroke-width="2.2"/>
<path d="M52.9 75.9l-0.3 0.6" stroke="#33ee33" stroke-width="2.0"/>
<path d="M60.7 27.9l0.2 1.4" stroke="#22dd22" stroke-width="2.6"/>
<path d="M145.0 54.6l0.2 0.6" stroke="#0a6a0a" stroke-width="2.4"/>
<path d="M108.9 42.2l-0.2 0.5" stroke="#0a6a0a" stroke-width="2.1"/>
<path d="M39.4 71.0l0.0 0.1" stroke="#12a012" stroke-width="2.5"/>
<path d="M80.1 25.6l-0.4 1.1" stroke="#19b519" stroke-width="3.1"/>
<path d="M119.1 15.5l-0.1 0.6" stroke="#33ee33" stroke-width="2.8"/>
</g></svg>
<svg x="361.8" y="487.4" width="170.1" height="88.2" viewBox="0 0 170.1 88.2" overflow="hidden">
<rect width="170.1" height="88.2" fill="#000"/>
<filter id="b16" x="-10%" y="-10%" width="120%" height="120%"><feGaussianBlur stdDeviation="0.45"/></filter><g filter="url(#b16)" fill="none" stroke-linecap="round">
<path d="M61.5 42.4l0.1 0.5M26.3 26.8l-0.0 0.1" stroke="#0e7a0e" stroke-width="1.8"/>
<path d="M120.9 21.0l-0.2 0.1M135.8 45.0l0.2 0.5" stroke="#0e7a0e" stroke-width="1.5"/>
<path d="M24.1 65.6l-0.8 0.1" stroke="#19a519" stroke-width="1.6"/>
<path d="M3.5 13.6l0.1 0.8" stroke="#0e7a0e" stroke-width="2.0"/>
<path d="M106.6 26.1l0.2 0.2M34.6 38.5l0.1 0.0" stroke="#22cc22" stroke-width="1.5"/>
<path d="M59.2 37.3l0.7 1.0M135.4 40.1l0.6 0.0M125.4 21.3l0.0 0.3" stroke="#22cc22" stroke-width="2.1"/>
<path d="M48.1 7.4l0.0 0.0M83.0 50.5l-0.9 0.9" stroke="#19a519" stroke-width="2.6"/>
<path d="M144.6 39.3l-0.0 0.0M36.2 33.8l0.1 0.0" stroke="#0e7a0e" stroke-width="2.4"/>
<path d="M120.3 81.1l0.0 0.0M140.6 63.9l0.4 0.0" stroke="#0e7a0e" stroke-width="2.5"/>
<path d="M68.0 28.2l-0.8 0.7M9.9 7.1l-0.0 0.9M117.7 19.6l-0.9 0.4" stroke="#0e7a0e" stroke-width="1.9"/>
<path d="M141.2 6.3l-0.1 0.7" stroke="#22cc22" stroke-width="1.6"/>
<path d="M1.6 55.2l-0.1 0.1" stroke="#19a519" stroke-width="2.5"/>
<path d="M26.1 56.3l0.2 0.0" stroke="#0e7a0e" stroke-width="1.6"/>
<path d="M41.6 10.2l0.1 0.3M83.4 7.0l-0.5 0.6" stroke="#19a519" stroke-width="2.1"/>
<path d="M79.0 64.4l0.0 0.0M101.2 31.2l0.2 0.4" stroke="#22cc22" stroke-width="1.8"/>
<path d="M72.7 22.5l-0.5 0.3" stroke="#22cc22" stroke-width="2.6"/>
<path d="M70.8 9.5l-0.3 0.2" stroke="#22cc22" stroke-width="1.4"/>
<path d="M21.4 11.6l0.2 0.5M29.2 62.7l0.3 0.3" stroke="#19a519" stroke-width="1.8"/>
<path d="M113.5 72.8l0.1 0.3" stroke="#22cc22" stroke-width="2.4"/>
<path d="M35.7 1.2l-0.1 0.2" stroke="#22cc22" stroke-width="1.2"/>
<path d="M9.4 79.6l0.4 0.2" stroke="#0e7a0e" stroke-width="1.2"/>
<path d="M78.4 63.4l0.2 0.0" stroke="#19a519" stroke-width="1.4"/>
<path d="M124.2 88.0l1.2 0.6" stroke="#22cc22" stroke-width="2.3"/>
<path d="M158.1 60.8l-0.7 0.6" stroke="#19a519" stroke-width="2.2"/>
<path d="M97.7 13.5l0.2 0.1" stroke="#22cc22" stroke-width="2.2"/>
<path d="M128.1 10.2l0.5 0.2" stroke="#19a519" stroke-width="2.4"/>
<path d="M113.6 30.1l0.5 0.0" stroke="#22cc22" stroke-width="1.9"/>
</g></svg>
<path d="M21.8 486.8 H531.9" stroke="#c4c4c4" stroke-width="1.7"/>
<path d="M191.3 396 V575.7 M361.8 396 V575.7" stroke="#c8c8c8" stroke-width="1.1"/>
<rect x="24.3" y="482.2" width="11.8" height="1.7" fill="#fff"/>
<text x="24.1" y="479.9" font-size="9" fill="#fff" class="w">40um</text>
<rect x="22.9" y="571.1" width="11.1" height="1.7" fill="#fff"/>
<text x="22.7" y="568.8" font-size="9" fill="#fff" class="w">40um</text>
<rect x="193.6" y="483.7" width="15.4" height="1.7" fill="#fff"/>
<text x="193.4" y="481.4" font-size="9" fill="#fff" class="w">40um</text>
<rect x="193.6" y="573.2" width="15.4" height="1.7" fill="#fff"/>
<text x="193.4" y="570.9" font-size="9" fill="#fff" class="w">40um</text>
<rect x="365.9" y="482.9" width="15.6" height="1.7" fill="#fff"/>
<text x="365.7" y="480.6" font-size="9" fill="#fff" class="w">40um</text>
<rect x="365.9" y="573.2" width="15.6" height="1.7" fill="#fff"/>
<text x="365.7" y="570.9" font-size="9" fill="#fff" class="w">40um</text>
</svg>
</body></html>
